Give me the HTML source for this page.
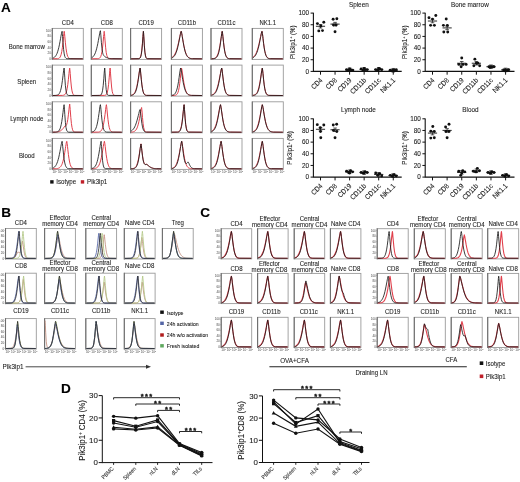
<!DOCTYPE html>
<html><head><meta charset="utf-8"><style>
html,body{margin:0;padding:0;background:#fff;}
svg{display:block;font-family:'Liberation Sans', Arial, sans-serif;filter:blur(0.25px);}
</style></head><body>
<svg width="520" height="482" viewBox="0 0 520 482">
<rect width="520" height="482" fill="#fff"/>
<text x="1" y="11.7" font-size="13.6" font-weight="bold" fill="#000" stroke="#000" stroke-width="0.1" >A</text>
<text transform="translate(67.8,24.6) scale(0.89,1)" font-size="6.72" text-anchor="middle" fill="#222" stroke="#222" stroke-width="0.09" >CD4</text>
<text transform="translate(106.8,24.6) scale(0.89,1)" font-size="6.72" text-anchor="middle" fill="#222" stroke="#222" stroke-width="0.09" >CD8</text>
<text transform="translate(146.1,24.6) scale(0.89,1)" font-size="6.72" text-anchor="middle" fill="#222" stroke="#222" stroke-width="0.09" >CD19</text>
<text transform="translate(186.9,24.6) scale(0.89,1)" font-size="6.72" text-anchor="middle" fill="#222" stroke="#222" stroke-width="0.09" >CD11b</text>
<text transform="translate(226.5,24.6) scale(0.89,1)" font-size="6.72" text-anchor="middle" fill="#222" stroke="#222" stroke-width="0.09" >CD11c</text>
<text transform="translate(267.8,24.6) scale(0.89,1)" font-size="6.72" text-anchor="middle" fill="#222" stroke="#222" stroke-width="0.09" >NK1.1</text>
<text transform="translate(26.8,49) scale(0.89,1)" font-size="6.83" text-anchor="middle" fill="#222" stroke="#222" stroke-width="0.09" >Bone marrow</text>
<text transform="translate(26.8,83.5) scale(0.89,1)" font-size="6.83" text-anchor="middle" fill="#222" stroke="#222" stroke-width="0.09" >Spleen</text>
<text transform="translate(26.8,121.4) scale(0.89,1)" font-size="6.83" text-anchor="middle" fill="#222" stroke="#222" stroke-width="0.09" >Lymph node</text>
<text transform="translate(26.8,157.5) scale(0.89,1)" font-size="6.83" text-anchor="middle" fill="#222" stroke="#222" stroke-width="0.09" >Blood</text>
<rect x="52.3" y="28.4" width="31" height="31" fill="none" stroke="#9a9a9a" stroke-width="0.9"/>
<path d="M52.3,28L52.3,59.8" stroke="#6e6e6e" stroke-width="1.1"/>
<path d="M52.8,58.8L57.0,58.7L57.6,58.7L58.2,58.6L58.8,58.3L59.4,58.0L60.0,57.3L60.6,56.1L61.2,54.3L61.8,51.4L62.4,47.4L63.0,42.1L63.6,36.4L63.6,36.0L63.9,33.3L64.2,31.3L64.5,33.3L64.8,36.4L64.8,36.4L65.4,42.8L66.0,48.2L66.6,52.2L67.2,54.9L67.8,56.6L68.4,57.6L69.0,58.2L69.6,58.5L70.2,58.6L70.8,58.7L82.8,58.8" fill="none" stroke="#e0404c" stroke-width="1.0" stroke-linejoin="round"/>
<path d="M52.8,58.2L53.4,57.9L54.0,57.6L54.6,57.1L55.2,56.5L55.8,55.8L56.4,54.7L57.0,53.5L57.6,51.8L58.2,49.9L58.8,47.5L59.4,44.8L60.0,41.6L60.6,38.3L60.9,36.4L61.2,35.0L61.5,33.3L61.8,32.1L62.1,31.3L62.3,33.3L62.4,34.2L62.6,36.4L63.0,42.5L63.6,49.4L64.2,53.9L64.8,56.4L65.4,57.7L66.0,58.3L66.6,58.6L67.2,58.7L82.8,58.8" fill="none" stroke="#1a1a1a" stroke-width="0.85" stroke-linejoin="round"/>
<text x="50.9" y="59.9" font-size="3.0" text-anchor="end" fill="#444">0</text>
<path d="M51.3,58.8L52.3,58.8" stroke="#777" stroke-width="0.5"/>
<text x="50.9" y="54.22" font-size="3.0" text-anchor="end" fill="#444">20</text>
<path d="M51.3,53.12L52.3,53.12" stroke="#777" stroke-width="0.5"/>
<text x="50.9" y="48.54" font-size="3.0" text-anchor="end" fill="#444">40</text>
<path d="M51.3,47.44L52.3,47.44" stroke="#777" stroke-width="0.5"/>
<text x="50.9" y="42.86" font-size="3.0" text-anchor="end" fill="#444">60</text>
<path d="M51.3,41.76L52.3,41.76" stroke="#777" stroke-width="0.5"/>
<text x="50.9" y="37.18" font-size="3.0" text-anchor="end" fill="#444">80</text>
<path d="M51.3,36.08L52.3,36.08" stroke="#777" stroke-width="0.5"/>
<text x="50.9" y="31.5" font-size="3.0" text-anchor="end" fill="#444">100</text>
<path d="M51.3,30.4L52.3,30.4" stroke="#777" stroke-width="0.5"/>
<rect x="91.3" y="28.4" width="31" height="31" fill="none" stroke="#9a9a9a" stroke-width="0.9"/>
<path d="M91.3,28L91.3,59.8" stroke="#6e6e6e" stroke-width="1.1"/>
<path d="M91.8,58.8L97.8,58.7L98.4,58.6L99.0,58.5L99.6,58.1L100.2,57.5L100.8,56.4L101.4,54.5L102.0,51.5L102.6,47.0L103.2,41.1L103.6,36.4L103.8,34.6L103.9,33.3L104.2,31.3L104.4,32.6L104.5,33.3L104.7,36.4L105.0,40.1L105.6,47.2L106.2,52.3L106.8,55.4L107.4,57.1L108.0,58.0L108.6,58.5L109.2,58.7L109.8,58.7L121.8,58.8" fill="none" stroke="#e0404c" stroke-width="1.0" stroke-linejoin="round"/>
<path d="M91.8,57.7L92.4,57.3L93.0,56.8L93.6,56.1L94.2,55.2L94.8,54.1L95.4,52.7L96.0,50.9L96.6,48.8L97.2,46.4L97.8,43.6L98.4,40.4L99.0,37.1L99.2,36.2L99.6,33.8L99.8,32.9L100.2,31.1L100.4,30.7L100.6,32.7L100.8,34.9L100.9,35.7L101.4,42.7L102.0,48.7L102.6,52.5L102.9,53.7L103.2,54.5L103.3,54.8L103.8,55.5L104.4,56.2L104.4,56.2L105.0,56.8L105.6,57.2L106.2,57.5L106.8,57.7L107.4,57.9L108.0,58.1L108.6,58.3L109.2,58.4L109.8,58.5L110.4,58.6L111.0,58.6L111.6,58.7L112.2,58.7L121.8,58.8" fill="none" stroke="#1a1a1a" stroke-width="0.85" stroke-linejoin="round"/>
<rect x="130.6" y="28.4" width="31" height="31" fill="none" stroke="#9a9a9a" stroke-width="0.9"/>
<path d="M130.6,28L130.6,59.8" stroke="#6e6e6e" stroke-width="1.1"/>
<path d="M131.1,58.8L138.3,58.7L138.9,58.6L139.5,58.3L140.1,57.6L140.7,56.2L141.3,53.5L141.9,49.0L142.5,42.2L142.9,36.4L143.1,34.1L143.2,33.3L143.4,31.3L143.6,33.3L143.7,35.0L143.8,36.4L144.3,44.8L144.9,51.8L145.5,55.8L146.1,57.6L146.7,58.4L147.3,58.7L147.9,58.8L161.1,58.8" fill="none" stroke="#e0404c" stroke-width="1.0" stroke-linejoin="round"/>
<path d="M131.1,58.8L138.9,58.7L139.5,58.5L140.1,58.0L140.7,56.9L141.3,54.6L141.9,50.3L142.5,43.3L143.0,36.4L143.1,34.5L143.2,33.3L143.4,31.3L143.6,33.3L143.7,35.2L143.8,36.4L144.3,45.3L144.9,52.4L145.5,56.1L146.1,57.8L146.7,58.5L147.3,58.7L161.1,58.8" fill="none" stroke="#1a1a1a" stroke-width="0.85" stroke-linejoin="round"/>
<rect x="171.4" y="28.4" width="31" height="31" fill="none" stroke="#9a9a9a" stroke-width="0.9"/>
<path d="M171.4,28L171.4,59.8" stroke="#6e6e6e" stroke-width="1.1"/>
<path d="M171.9,57.5L172.5,57.1L173.1,56.6L173.7,55.9L174.3,55.1L174.9,54.1L175.5,52.9L176.1,51.4L176.7,49.7L177.3,47.6L177.9,45.3L178.5,42.7L179.1,40.0L179.7,37.1L179.8,36.4L180.3,34.3L180.5,33.3L180.9,31.9L181.2,31.3L181.5,32.2L181.7,33.3L182.1,35.3L182.3,36.4L182.7,38.9L183.3,42.4L183.9,45.7L184.5,48.5L185.1,50.8L185.7,52.8L186.3,54.3L186.9,55.5L187.5,56.4L188.1,57.1L188.7,57.6L189.3,57.9L189.9,58.2L190.5,58.4L191.1,58.5L191.7,58.6L192.3,58.7L192.9,58.7L201.9,58.8" fill="none" stroke="#e0404c" stroke-width="1.0" stroke-linejoin="round"/>
<path d="M171.9,58.0L172.5,57.6L173.1,57.2L173.7,56.7L174.3,56.0L174.9,55.2L175.5,54.0L176.1,52.7L176.7,51.0L177.3,49.0L177.9,46.6L178.5,43.9L179.1,41.0L179.7,37.8L180.0,36.4L180.3,34.7L180.6,33.3L180.9,32.0L181.2,31.3L181.5,32.2L181.7,33.3L182.1,35.5L182.2,36.4L182.7,39.3L183.3,42.9L183.9,46.2L184.5,49.0L185.1,51.4L185.7,53.2L186.3,54.7L186.9,55.8L187.5,56.7L188.1,57.3L188.7,57.8L189.3,58.1L189.9,58.3L190.5,58.5L191.1,58.6L191.7,58.7L192.3,58.7L201.9,58.8" fill="none" stroke="#1a1a1a" stroke-width="0.85" stroke-linejoin="round"/>
<rect x="211" y="28.4" width="31" height="31" fill="none" stroke="#9a9a9a" stroke-width="0.9"/>
<path d="M211,28L211,59.8" stroke="#6e6e6e" stroke-width="1.1"/>
<path d="M211.5,58.7L212.1,58.7L212.7,58.7L213.3,58.6L213.9,58.5L214.5,58.3L215.1,58.0L215.7,57.6L216.3,57.0L216.9,56.2L217.5,55.0L218.1,53.5L218.7,51.4L219.3,48.8L219.9,45.6L220.5,41.8L221.1,37.6L221.3,36.4L221.7,33.6L221.7,33.3L222.2,31.3L222.3,31.6L222.6,33.3L222.9,36.3L222.9,36.4L223.5,41.9L224.1,46.9L224.7,50.7L225.3,53.6L225.9,55.5L226.5,56.8L227.1,57.6L227.7,58.1L228.3,58.4L228.9,58.6L229.5,58.7L241.5,58.8" fill="none" stroke="#e0404c" stroke-width="1.0" stroke-linejoin="round"/>
<path d="M211.5,58.8L213.3,58.7L213.9,58.6L214.5,58.5L215.1,58.3L215.7,58.0L216.3,57.6L216.9,56.9L217.5,56.0L218.1,54.6L218.7,52.7L219.3,50.2L219.9,46.9L220.5,42.9L221.1,38.4L221.4,36.4L221.7,33.9L221.8,33.3L222.2,31.3L222.3,31.6L222.5,33.3L222.9,36.4L222.9,36.6L223.5,42.4L224.1,47.4L224.7,51.3L225.3,54.0L225.9,55.9L226.5,57.1L227.1,57.8L227.7,58.3L228.3,58.5L228.9,58.6L229.5,58.7L241.5,58.8" fill="none" stroke="#1a1a1a" stroke-width="0.85" stroke-linejoin="round"/>
<rect x="252.3" y="28.4" width="31" height="31" fill="none" stroke="#9a9a9a" stroke-width="0.9"/>
<path d="M252.3,28L252.3,59.8" stroke="#6e6e6e" stroke-width="1.1"/>
<path d="M252.8,57.4L253.4,56.9L254.0,56.4L254.6,55.7L255.2,54.8L255.8,53.8L256.4,52.5L257.0,51.0L257.6,49.2L258.2,47.1L258.8,44.8L259.4,42.2L260.0,39.4L260.6,36.6L260.6,36.4L261.2,33.8L261.3,33.3L261.8,31.7L262.0,31.3L262.4,33.3L262.8,36.4L263.0,38.2L263.6,43.2L264.2,47.4L264.8,50.9L265.4,53.4L266.0,55.3L266.6,56.5L267.2,57.4L267.8,57.9L268.4,58.3L269.0,58.5L269.6,58.6L270.2,58.7L282.8,58.8" fill="none" stroke="#e0404c" stroke-width="1.0" stroke-linejoin="round"/>
<path d="M252.8,57.9L253.4,57.5L254.0,57.1L254.6,56.5L255.2,55.8L255.8,54.9L256.4,53.7L257.0,52.3L257.6,50.6L258.2,48.5L258.8,46.1L259.4,43.4L260.0,40.4L260.6,37.2L260.8,36.4L261.2,34.2L261.4,33.3L261.8,31.7L262.0,31.3L262.4,33.3L262.4,33.5L262.8,36.4L263.0,38.6L263.6,43.7L264.2,48.0L264.8,51.4L265.4,53.9L266.0,55.6L266.6,56.8L267.2,57.6L267.8,58.1L268.4,58.4L269.0,58.6L269.6,58.7L270.2,58.7L282.8,58.8" fill="none" stroke="#1a1a1a" stroke-width="0.85" stroke-linejoin="round"/>
<rect x="52.3" y="65.1" width="31" height="31" fill="none" stroke="#9a9a9a" stroke-width="0.9"/>
<path d="M52.3,64.7L52.3,96.5" stroke="#6e6e6e" stroke-width="1.1"/>
<path d="M52.8,95.5L62.4,95.4L63.0,95.4L63.6,95.2L64.2,95.0L64.8,94.6L65.4,93.9L66.0,92.8L66.6,91.0L67.2,88.3L67.8,84.4L68.4,79.3L69.0,73.4L69.0,73.1L69.4,70.0L69.6,68.3L69.7,68.0L69.9,70.0L70.2,73.1L70.2,73.3L70.8,81.0L71.4,87.0L72.0,90.9L72.6,93.2L73.2,94.4L73.8,95.0L74.4,95.3L75.0,95.4L82.8,95.5" fill="none" stroke="#e0404c" stroke-width="1.0" stroke-linejoin="round"/>
<path d="M52.8,95.5L55.8,95.4L56.4,95.3L57.0,95.2L57.6,95.0L58.2,94.7L58.8,94.2L59.4,93.4L60.0,92.2L60.6,90.4L61.2,88.0L61.8,84.7L62.4,80.6L63.0,75.7L63.3,73.1L63.6,70.7L63.7,70.0L64.1,68.0L64.2,68.9L64.3,70.0L64.5,73.1L64.8,77.8L65.4,85.7L66.0,90.7L66.6,93.4L67.2,94.6L67.8,95.2L68.4,95.4L69.0,95.5L82.8,95.5" fill="none" stroke="#1a1a1a" stroke-width="0.85" stroke-linejoin="round"/>
<text x="50.9" y="96.6" font-size="3.0" text-anchor="end" fill="#444">0</text>
<path d="M51.3,95.5L52.3,95.5" stroke="#777" stroke-width="0.5"/>
<text x="50.9" y="90.92" font-size="3.0" text-anchor="end" fill="#444">20</text>
<path d="M51.3,89.82L52.3,89.82" stroke="#777" stroke-width="0.5"/>
<text x="50.9" y="85.24" font-size="3.0" text-anchor="end" fill="#444">40</text>
<path d="M51.3,84.14L52.3,84.14" stroke="#777" stroke-width="0.5"/>
<text x="50.9" y="79.56" font-size="3.0" text-anchor="end" fill="#444">60</text>
<path d="M51.3,78.46L52.3,78.46" stroke="#777" stroke-width="0.5"/>
<text x="50.9" y="73.88" font-size="3.0" text-anchor="end" fill="#444">80</text>
<path d="M51.3,72.78L52.3,72.78" stroke="#777" stroke-width="0.5"/>
<text x="50.9" y="68.2" font-size="3.0" text-anchor="end" fill="#444">100</text>
<path d="M51.3,67.1L52.3,67.1" stroke="#777" stroke-width="0.5"/>
<rect x="91.3" y="65.1" width="31" height="31" fill="none" stroke="#9a9a9a" stroke-width="0.9"/>
<path d="M91.3,64.7L91.3,96.5" stroke="#6e6e6e" stroke-width="1.1"/>
<path d="M91.8,95.5L104.4,95.4L105.0,95.3L105.6,95.1L106.2,94.6L106.8,93.7L107.4,92.0L108.0,89.0L108.6,84.3L109.2,77.8L109.6,73.1L109.8,70.4L109.8,70.0L110.1,68.0L110.3,70.0L110.4,71.2L110.5,73.1L111.0,80.0L111.6,87.0L112.2,91.3L112.8,93.6L113.4,94.7L114.0,95.2L114.6,95.4L115.2,95.5L121.8,95.5" fill="none" stroke="#e0404c" stroke-width="1.0" stroke-linejoin="round"/>
<path d="M91.8,95.5L99.6,95.4L100.2,95.3L100.8,95.0L101.4,94.3L102.0,92.9L102.6,90.2L103.2,85.7L103.8,78.8L104.2,73.1L104.4,70.8L104.5,70.0L104.7,68.0L104.9,70.0L105.0,72.1L105.1,73.1L105.6,82.5L106.2,89.6L106.8,93.2L107.4,94.7L108.0,95.2L108.6,95.4L121.8,95.5" fill="none" stroke="#1a1a1a" stroke-width="0.85" stroke-linejoin="round"/>
<rect x="130.6" y="65.1" width="31" height="31" fill="none" stroke="#9a9a9a" stroke-width="0.9"/>
<path d="M130.6,64.7L130.6,96.5" stroke="#6e6e6e" stroke-width="1.1"/>
<path d="M131.1,95.2L131.7,95.1L132.3,94.9L132.9,94.5L133.5,94.1L134.1,93.5L134.7,92.6L135.3,91.4L135.9,89.8L136.5,87.8L137.1,85.2L137.7,82.1L138.3,78.5L138.9,74.5L139.1,73.1L139.5,70.7L139.6,70.0L140.1,68.0L140.4,70.0L140.7,72.9L140.7,73.1L141.3,79.1L141.9,84.5L142.5,88.5L143.1,91.3L143.7,93.1L144.3,94.1L144.9,94.8L145.5,95.1L146.1,95.3L146.7,95.4L161.1,95.5" fill="none" stroke="#e0404c" stroke-width="1.0" stroke-linejoin="round"/>
<path d="M131.1,95.4L131.7,95.3L132.3,95.1L132.9,94.9L133.5,94.6L134.1,94.1L134.7,93.4L135.3,92.4L135.9,91.0L136.5,89.1L137.1,86.6L137.7,83.4L138.3,79.6L138.9,75.3L139.2,73.1L139.5,71.0L139.7,70.0L140.1,68.0L140.4,70.0L140.7,73.1L141.3,79.6L141.9,85.1L142.5,89.1L143.1,91.7L143.7,93.4L144.3,94.4L144.9,94.9L145.5,95.2L146.1,95.4L146.7,95.4L161.1,95.5" fill="none" stroke="#1a1a1a" stroke-width="0.85" stroke-linejoin="round"/>
<rect x="171.4" y="65.1" width="31" height="31" fill="none" stroke="#9a9a9a" stroke-width="0.9"/>
<path d="M171.4,64.7L171.4,96.5" stroke="#6e6e6e" stroke-width="1.1"/>
<path d="M171.9,95.5L174.3,95.4L174.9,95.4L175.5,95.2L176.1,95.0L176.7,94.5L177.3,93.8L177.9,92.6L178.5,90.7L179.1,87.8L179.7,83.7L180.3,78.5L180.8,73.1L180.9,72.6L181.2,70.0L181.5,68.0L182.0,70.0L182.1,70.9L182.4,73.1L182.7,75.0L183.3,79.1L183.9,82.9L184.5,86.0L185.1,88.5L185.7,90.5L186.3,92.0L186.9,93.1L187.5,93.8L188.1,94.4L188.7,94.8L189.3,95.0L189.9,95.2L190.5,95.3L191.1,95.4L191.7,95.4L201.9,95.5" fill="none" stroke="#e0404c" stroke-width="1.0" stroke-linejoin="round"/>
<path d="M171.9,95.3L172.5,95.2L173.1,95.0L173.7,94.8L174.3,94.4L174.9,93.8L175.5,92.9L176.1,91.7L176.7,90.1L177.3,87.9L177.9,85.1L178.5,81.6L179.1,77.5L179.7,73.1L180.2,70.0L180.3,69.2L180.6,68.0L180.9,68.9L181.1,70.0L181.5,72.2L181.7,73.1L182.1,76.0L182.7,79.6L183.3,82.9L183.9,85.7L184.5,88.1L185.1,89.9L185.7,91.4L186.3,92.5L186.9,93.4L187.5,94.0L188.1,94.5L188.7,94.8L189.3,95.0L189.9,95.2L190.5,95.3L191.1,95.4L191.7,95.4L201.9,95.5" fill="none" stroke="#1a1a1a" stroke-width="0.85" stroke-linejoin="round"/>
<rect x="211" y="65.1" width="31" height="31" fill="none" stroke="#9a9a9a" stroke-width="0.9"/>
<path d="M211,64.7L211,96.5" stroke="#6e6e6e" stroke-width="1.1"/>
<path d="M211.5,95.0L212.1,94.8L212.7,94.5L213.3,94.2L213.9,93.7L214.5,93.1L215.1,92.4L215.7,91.4L216.3,90.2L216.9,88.7L217.5,86.8L218.1,84.6L218.7,82.1L219.3,79.3L219.9,76.1L220.5,73.1L220.5,72.9L221.1,70.0L221.1,70.0L221.7,68.0L222.1,70.0L222.3,71.7L222.5,73.1L222.9,76.7L223.5,81.5L224.1,85.4L224.7,88.5L225.3,90.8L225.9,92.5L226.5,93.6L227.1,94.3L227.7,94.8L228.3,95.1L228.9,95.2L229.5,95.4L230.1,95.4L241.5,95.5" fill="none" stroke="#e0404c" stroke-width="1.0" stroke-linejoin="round"/>
<path d="M211.5,95.2L212.1,95.1L212.7,94.9L213.3,94.7L213.9,94.3L214.5,93.8L215.1,93.2L215.7,92.4L216.3,91.3L216.9,89.9L217.5,88.1L218.1,86.0L218.7,83.4L219.3,80.4L219.9,77.1L220.5,73.6L220.6,73.1L221.1,70.2L221.1,70.0L221.7,68.0L222.1,70.0L222.3,71.9L222.4,73.1L222.9,77.1L223.5,82.0L224.1,86.0L224.7,89.1L225.3,91.3L225.9,92.8L226.5,93.8L227.1,94.5L227.7,94.9L228.3,95.2L228.9,95.3L229.5,95.4L241.5,95.5" fill="none" stroke="#1a1a1a" stroke-width="0.85" stroke-linejoin="round"/>
<rect x="252.3" y="65.1" width="31" height="31" fill="none" stroke="#9a9a9a" stroke-width="0.9"/>
<path d="M252.3,64.7L252.3,96.5" stroke="#6e6e6e" stroke-width="1.1"/>
<path d="M252.8,95.3L253.4,95.2L254.0,95.1L254.6,94.9L255.2,94.6L255.8,94.1L256.4,93.5L257.0,92.6L257.6,91.4L258.2,89.8L258.8,87.7L259.4,85.0L260.0,81.8L260.6,78.1L261.2,74.1L261.3,73.1L261.8,70.2L261.8,70.0L262.3,68.0L262.4,68.3L262.6,70.0L263.0,73.1L263.0,73.5L263.6,79.4L264.2,84.5L264.8,88.4L265.4,91.1L266.0,92.9L266.6,94.0L267.2,94.7L267.8,95.0L268.4,95.3L269.0,95.4L269.6,95.4L282.8,95.5" fill="none" stroke="#e0404c" stroke-width="1.0" stroke-linejoin="round"/>
<path d="M252.8,95.4L253.4,95.4L254.0,95.3L254.6,95.1L255.2,94.9L255.8,94.6L256.4,94.1L257.0,93.4L257.6,92.4L258.2,90.9L258.8,89.0L259.4,86.4L260.0,83.1L260.6,79.2L261.2,74.8L261.4,73.1L261.8,70.5L261.9,70.0L262.3,68.0L262.4,68.3L262.6,70.0L262.9,73.1L263.0,73.8L263.6,79.9L264.2,85.1L264.8,88.9L265.4,91.5L266.0,93.2L266.6,94.2L267.2,94.8L267.8,95.1L268.4,95.3L269.0,95.4L282.8,95.5" fill="none" stroke="#1a1a1a" stroke-width="0.85" stroke-linejoin="round"/>
<rect x="52.3" y="101.8" width="31" height="31" fill="none" stroke="#9a9a9a" stroke-width="0.9"/>
<path d="M52.3,101.4L52.3,133.2" stroke="#6e6e6e" stroke-width="1.1"/>
<path d="M52.8,132.2L55.2,132.1L55.8,132.1L56.4,132.0L57.0,132.0L57.6,131.9L58.2,131.7L58.8,131.6L59.4,131.4L60.0,131.1L60.6,130.8L61.2,130.4L61.8,129.9L62.4,129.3L63.0,128.6L63.6,127.8L63.6,127.8L64.2,127.0L64.2,127.0L64.8,126.2L65.3,126.1L65.4,126.1L65.7,125.9L66.0,125.7L66.6,124.7L67.2,122.6L67.8,119.4L68.4,114.8L69.0,109.2L69.0,108.9L69.4,106.0L69.6,104.4L69.7,104.0L69.9,106.2L70.2,109.4L70.2,109.5L70.8,117.4L71.4,123.4L72.0,127.4L72.6,129.8L73.2,131.0L73.8,131.7L74.4,132.0L75.0,132.1L82.8,132.2" fill="none" stroke="#e0404c" stroke-width="1.0" stroke-linejoin="round"/>
<path d="M52.8,132.2L55.8,132.1L56.4,132.0L57.0,131.9L57.6,131.7L58.2,131.4L58.8,130.9L59.4,130.1L60.0,128.9L60.6,127.1L61.2,124.7L61.8,121.4L62.4,117.3L63.0,112.4L63.3,109.8L63.6,107.4L63.7,106.7L64.1,104.7L64.2,105.6L64.3,106.7L64.5,109.8L64.8,114.5L65.4,122.4L66.0,127.4L66.6,130.1L67.2,131.3L67.8,131.9L68.4,132.1L69.0,132.2L82.8,132.2" fill="none" stroke="#1a1a1a" stroke-width="0.85" stroke-linejoin="round"/>
<text x="50.9" y="133.3" font-size="3.0" text-anchor="end" fill="#444">0</text>
<path d="M51.3,132.2L52.3,132.2" stroke="#777" stroke-width="0.5"/>
<text x="50.9" y="127.62" font-size="3.0" text-anchor="end" fill="#444">20</text>
<path d="M51.3,126.52L52.3,126.52" stroke="#777" stroke-width="0.5"/>
<text x="50.9" y="121.94" font-size="3.0" text-anchor="end" fill="#444">40</text>
<path d="M51.3,120.84L52.3,120.84" stroke="#777" stroke-width="0.5"/>
<text x="50.9" y="116.26" font-size="3.0" text-anchor="end" fill="#444">60</text>
<path d="M51.3,115.16L52.3,115.16" stroke="#777" stroke-width="0.5"/>
<text x="50.9" y="110.58" font-size="3.0" text-anchor="end" fill="#444">80</text>
<path d="M51.3,109.48L52.3,109.48" stroke="#777" stroke-width="0.5"/>
<text x="50.9" y="104.9" font-size="3.0" text-anchor="end" fill="#444">100</text>
<path d="M51.3,103.8L52.3,103.8" stroke="#777" stroke-width="0.5"/>
<rect x="91.3" y="101.8" width="31" height="31" fill="none" stroke="#9a9a9a" stroke-width="0.9"/>
<path d="M91.3,101.4L91.3,133.2" stroke="#6e6e6e" stroke-width="1.1"/>
<path d="M91.8,132.2L97.8,132.1L98.4,132.1L99.0,132.0L99.6,131.8L100.2,131.5L100.8,131.1L101.4,130.4L102.0,129.4L102.6,127.9L103.2,125.8L103.8,122.9L104.4,119.2L105.0,114.7L105.6,109.8L105.6,109.7L106.0,106.7L106.2,105.4L106.4,104.7L106.7,106.7L106.8,107.8L107.0,109.8L107.4,114.0L108.0,119.7L108.6,124.2L109.2,127.3L109.8,129.3L110.4,130.6L111.0,131.3L111.6,131.7L112.2,132.0L112.8,132.1L113.4,132.1L121.8,132.2" fill="none" stroke="#e0404c" stroke-width="1.0" stroke-linejoin="round"/>
<path d="M91.8,132.0L92.4,131.9L93.0,131.7L93.6,131.4L94.2,131.0L94.8,130.3L95.4,129.4L96.0,128.1L96.6,126.4L97.2,124.1L97.8,121.1L98.4,117.5L99.0,113.4L99.5,109.8L99.6,109.0L99.9,106.7L100.2,105.2L100.4,104.7L100.7,106.7L100.8,107.9L101.0,109.8L101.4,114.4L102.0,120.3L102.6,124.7L103.2,127.7L103.8,129.7L104.4,130.8L105.0,131.5L105.6,131.8L106.2,132.0L106.8,132.1L121.8,132.2" fill="none" stroke="#1a1a1a" stroke-width="0.85" stroke-linejoin="round"/>
<rect x="130.6" y="101.8" width="31" height="31" fill="none" stroke="#9a9a9a" stroke-width="0.9"/>
<path d="M130.6,101.4L130.6,133.2" stroke="#6e6e6e" stroke-width="1.1"/>
<path d="M131.1,132.1L131.7,132.1L132.3,132.0L132.9,131.9L133.5,131.7L134.1,131.5L134.7,131.2L135.3,130.7L135.9,130.0L136.5,129.1L137.1,127.9L137.7,126.2L138.3,124.2L138.9,121.6L139.5,118.6L140.1,115.2L140.6,112.1L140.7,111.6L141.1,109.4L141.3,108.4L141.6,107.5L141.8,109.4L141.9,110.1L142.1,112.1L142.5,117.5L143.1,123.7L143.7,127.7L144.3,130.0L144.9,131.2L145.5,131.8L146.1,132.0L146.7,132.1L161.1,132.2" fill="none" stroke="#e0404c" stroke-width="1.0" stroke-linejoin="round"/>
<path d="M131.1,131.0L131.7,130.7L132.3,130.2L132.9,129.6L133.5,128.9L134.1,128.0L134.7,126.9L135.3,125.6L135.9,124.0L136.5,122.2L137.1,120.2L137.7,118.0L138.3,115.6L138.8,113.8L138.9,113.2L139.4,111.2L139.5,111.0L140.1,109.5L140.4,111.2L140.7,113.8L141.3,119.1L141.9,123.6L142.5,126.9L143.1,129.1L143.7,130.5L144.3,131.3L144.9,131.7L145.5,132.0L146.1,132.1L146.7,132.1L161.1,132.2" fill="none" stroke="#1a1a1a" stroke-width="0.85" stroke-linejoin="round"/>
<rect x="171.4" y="101.8" width="31" height="31" fill="none" stroke="#9a9a9a" stroke-width="0.9"/>
<path d="M171.4,101.4L171.4,133.2" stroke="#6e6e6e" stroke-width="1.1"/>
<path d="M171.9,132.2L176.7,132.1L177.3,132.1L177.9,132.0L178.5,131.8L179.1,131.4L179.7,130.7L180.3,129.6L180.9,127.9L181.5,125.3L182.1,121.6L182.7,116.6L183.3,110.7L183.4,109.8L183.7,106.7L183.9,105.4L184.1,104.7L184.3,106.7L184.5,109.6L184.5,109.8L185.1,117.8L185.7,124.1L186.3,128.0L186.9,130.2L187.5,131.3L188.1,131.8L188.7,132.0L189.3,132.1L201.9,132.2" fill="none" stroke="#e0404c" stroke-width="1.0" stroke-linejoin="round"/>
<path d="M171.9,132.2L177.3,132.1L177.9,132.1L178.5,132.0L179.1,131.7L179.7,131.2L180.3,130.4L180.9,128.9L181.5,126.5L182.1,122.9L182.7,117.8L183.3,111.5L183.5,109.8L183.8,106.7L183.9,105.5L184.1,104.7L184.3,106.7L184.5,109.8L184.5,109.8L185.1,118.3L185.7,124.6L186.3,128.4L186.9,130.5L187.5,131.5L188.1,131.9L188.7,132.1L201.9,132.2" fill="none" stroke="#1a1a1a" stroke-width="0.85" stroke-linejoin="round"/>
<rect x="211" y="101.8" width="31" height="31" fill="none" stroke="#9a9a9a" stroke-width="0.9"/>
<path d="M211,101.4L211,133.2" stroke="#6e6e6e" stroke-width="1.1"/>
<path d="M211.5,131.3L212.1,131.0L212.7,130.5L213.3,129.9L213.9,129.2L214.5,128.2L215.1,127.0L215.7,125.5L216.3,123.7L216.9,121.5L217.5,119.0L218.1,116.1L218.7,113.0L219.3,109.8L219.3,109.7L219.9,106.7L219.9,106.7L220.5,104.7L221.0,106.7L221.1,107.6L221.4,109.8L221.7,111.7L222.3,115.8L222.9,119.6L223.5,122.7L224.1,125.2L224.7,127.2L225.3,128.7L225.9,129.8L226.5,130.5L227.1,131.1L227.7,131.5L228.3,131.7L228.9,131.9L229.5,132.0L230.1,132.1L230.7,132.1L241.5,132.2" fill="none" stroke="#e0404c" stroke-width="1.0" stroke-linejoin="round"/>
<path d="M211.5,131.6L212.1,131.4L212.7,131.1L213.3,130.6L213.9,130.0L214.5,129.2L215.1,128.1L215.7,126.8L216.3,125.0L216.9,122.9L217.5,120.3L218.1,117.3L218.7,113.9L219.3,110.4L219.4,109.8L219.9,107.0L219.9,106.7L220.5,104.7L220.9,106.7L221.1,107.7L221.4,109.8L221.7,112.0L222.3,116.3L222.9,120.1L223.5,123.3L224.1,125.8L224.7,127.7L225.3,129.1L225.9,130.1L226.5,130.8L227.1,131.3L227.7,131.6L228.3,131.8L228.9,132.0L229.5,132.1L230.1,132.1L241.5,132.2" fill="none" stroke="#1a1a1a" stroke-width="0.85" stroke-linejoin="round"/>
<rect x="252.3" y="101.8" width="31" height="31" fill="none" stroke="#9a9a9a" stroke-width="0.9"/>
<path d="M252.3,101.4L252.3,133.2" stroke="#6e6e6e" stroke-width="1.1"/>
<path d="M252.8,131.7L253.4,131.5L254.0,131.2L254.6,130.8L255.2,130.3L255.8,129.6L256.4,128.7L257.0,127.5L257.6,126.0L258.2,124.2L258.8,122.0L259.4,119.3L260.0,116.3L260.6,113.0L261.2,109.8L261.2,109.6L261.7,106.7L261.8,106.4L262.3,104.7L262.4,104.8L262.9,106.7L263.0,107.5L263.4,109.8L263.6,111.0L264.2,114.6L264.8,118.0L265.4,121.0L266.0,123.5L266.6,125.5L267.2,127.2L267.8,128.5L268.4,129.5L269.0,130.2L269.6,130.8L270.2,131.2L270.8,131.5L271.4,131.7L272.0,131.9L272.6,132.0L273.2,132.1L273.8,132.1L282.8,132.2" fill="none" stroke="#e0404c" stroke-width="1.0" stroke-linejoin="round"/>
<path d="M252.8,131.9L253.4,131.8L254.0,131.6L254.6,131.3L255.2,130.9L255.8,130.3L256.4,129.6L257.0,128.5L257.6,127.2L258.2,125.5L258.8,123.3L259.4,120.7L260.0,117.5L260.6,114.0L261.2,110.2L261.3,109.8L261.8,106.7L261.8,106.7L262.3,104.7L262.4,104.8L262.8,106.7L263.0,107.7L263.4,109.8L263.6,111.3L264.2,115.1L264.8,118.5L265.4,121.5L266.0,124.0L266.6,126.0L267.2,127.6L267.8,128.9L268.4,129.8L269.0,130.5L269.6,131.0L270.2,131.4L270.8,131.6L271.4,131.8L272.0,131.9L272.6,132.0L273.2,132.1L282.8,132.2" fill="none" stroke="#1a1a1a" stroke-width="0.85" stroke-linejoin="round"/>
<rect x="52.3" y="138.4" width="31" height="31" fill="none" stroke="#9a9a9a" stroke-width="0.9"/>
<path d="M52.3,138L52.3,169.8" stroke="#6e6e6e" stroke-width="1.1"/>
<path d="M52.8,168.8L55.8,168.7L56.4,168.7L57.0,168.6L57.6,168.5L58.2,168.3L58.8,168.1L59.4,167.8L60.0,167.3L60.6,166.7L61.2,165.8L61.8,164.7L62.4,163.2L63.0,161.2L63.6,158.7L64.2,155.8L64.8,152.3L65.4,148.6L65.7,146.4L66.0,144.7L66.2,143.3L66.6,141.6L66.8,141.3L67.1,143.3L67.2,144.0L67.5,146.4L67.8,149.3L68.4,154.4L69.0,158.7L69.6,162.0L70.2,164.4L70.8,166.0L71.4,167.1L72.0,167.8L72.6,168.2L73.2,168.5L73.8,168.6L74.4,168.7L82.8,168.8" fill="none" stroke="#e0404c" stroke-width="1.0" stroke-linejoin="round"/>
<path d="M52.8,168.1L53.4,167.8L54.0,167.5L54.6,167.0L55.2,166.3L55.8,165.5L56.4,164.5L57.0,163.1L57.6,161.5L58.2,159.5L58.8,157.2L59.4,154.4L60.0,151.4L60.6,148.1L60.9,146.4L61.2,144.8L61.5,143.3L61.8,142.1L62.1,141.3L62.4,143.2L62.4,143.3L62.7,146.4L63.0,149.1L63.6,154.9L64.2,159.5L64.8,163.0L65.4,165.3L66.0,166.7L66.6,167.6L67.2,168.2L67.8,168.5L68.4,168.6L69.0,168.7L82.8,168.8" fill="none" stroke="#1a1a1a" stroke-width="0.85" stroke-linejoin="round"/>
<text x="50.9" y="169.9" font-size="3.0" text-anchor="end" fill="#444">0</text>
<path d="M51.3,168.8L52.3,168.8" stroke="#777" stroke-width="0.5"/>
<text x="50.9" y="164.22" font-size="3.0" text-anchor="end" fill="#444">20</text>
<path d="M51.3,163.12L52.3,163.12" stroke="#777" stroke-width="0.5"/>
<text x="50.9" y="158.54" font-size="3.0" text-anchor="end" fill="#444">40</text>
<path d="M51.3,157.44L52.3,157.44" stroke="#777" stroke-width="0.5"/>
<text x="50.9" y="152.86" font-size="3.0" text-anchor="end" fill="#444">60</text>
<path d="M51.3,151.76L52.3,151.76" stroke="#777" stroke-width="0.5"/>
<text x="50.9" y="147.18" font-size="3.0" text-anchor="end" fill="#444">80</text>
<path d="M51.3,146.08L52.3,146.08" stroke="#777" stroke-width="0.5"/>
<text x="50.9" y="141.5" font-size="3.0" text-anchor="end" fill="#444">100</text>
<path d="M51.3,140.4L52.3,140.4" stroke="#777" stroke-width="0.5"/>
<text x="54.7" y="173.1" font-size="3.1" text-anchor="middle" fill="#444">10<tspan font-size="2.1" dy="-1.1">0</tspan></text>
<text x="60.18" y="173.1" font-size="3.1" text-anchor="middle" fill="#444">10<tspan font-size="2.1" dy="-1.1">1</tspan></text>
<text x="65.66" y="173.1" font-size="3.1" text-anchor="middle" fill="#444">10<tspan font-size="2.1" dy="-1.1">2</tspan></text>
<text x="71.14" y="173.1" font-size="3.1" text-anchor="middle" fill="#444">10<tspan font-size="2.1" dy="-1.1">3</tspan></text>
<text x="76.62" y="173.1" font-size="3.1" text-anchor="middle" fill="#444">10<tspan font-size="2.1" dy="-1.1">4</tspan></text>
<text x="82.1" y="173.1" font-size="3.1" text-anchor="middle" fill="#444">10<tspan font-size="2.1" dy="-1.1">5</tspan></text>
<rect x="91.3" y="138.4" width="31" height="31" fill="none" stroke="#9a9a9a" stroke-width="0.9"/>
<path d="M91.3,138L91.3,169.8" stroke="#6e6e6e" stroke-width="1.1"/>
<path d="M91.8,168.8L93.0,168.7L93.6,168.7L94.2,168.6L94.8,168.5L95.4,168.3L96.0,168.1L96.6,167.8L97.2,167.4L97.8,166.9L98.4,166.1L99.0,165.1L99.6,163.8L100.2,162.1L100.8,160.0L101.4,157.4L102.0,154.3L102.6,150.9L103.2,147.2L103.3,146.4L103.8,143.7L103.9,143.3L104.4,141.3L104.8,143.3L105.0,145.0L105.2,146.4L105.6,150.0L106.2,154.8L106.8,158.7L107.4,161.8L108.0,164.1L108.6,165.8L109.2,166.9L109.8,167.6L110.4,168.1L111.0,168.4L111.6,168.5L112.2,168.7L112.8,168.7L121.8,168.8" fill="none" stroke="#e0404c" stroke-width="1.0" stroke-linejoin="round"/>
<path d="M91.8,168.5L92.4,168.3L93.0,168.1L93.6,167.8L94.2,167.4L94.8,166.8L95.4,166.0L96.0,164.9L96.6,163.4L97.2,161.6L97.8,159.2L98.4,156.4L99.0,153.1L99.6,149.4L100.1,146.4L100.2,145.6L100.6,143.3L100.8,142.2L101.1,141.3L101.3,143.3L101.4,144.6L101.5,146.4L102.0,153.8L102.6,160.8L103.2,165.0L103.8,167.2L104.4,168.1L105.0,168.6L105.6,168.7L121.8,168.8" fill="none" stroke="#1a1a1a" stroke-width="0.85" stroke-linejoin="round"/>
<text x="93.7" y="173.1" font-size="3.1" text-anchor="middle" fill="#444">10<tspan font-size="2.1" dy="-1.1">0</tspan></text>
<text x="99.18" y="173.1" font-size="3.1" text-anchor="middle" fill="#444">10<tspan font-size="2.1" dy="-1.1">1</tspan></text>
<text x="104.66" y="173.1" font-size="3.1" text-anchor="middle" fill="#444">10<tspan font-size="2.1" dy="-1.1">2</tspan></text>
<text x="110.14" y="173.1" font-size="3.1" text-anchor="middle" fill="#444">10<tspan font-size="2.1" dy="-1.1">3</tspan></text>
<text x="115.62" y="173.1" font-size="3.1" text-anchor="middle" fill="#444">10<tspan font-size="2.1" dy="-1.1">4</tspan></text>
<text x="121.1" y="173.1" font-size="3.1" text-anchor="middle" fill="#444">10<tspan font-size="2.1" dy="-1.1">5</tspan></text>
<rect x="130.6" y="138.4" width="31" height="31" fill="none" stroke="#9a9a9a" stroke-width="0.9"/>
<path d="M130.6,138L130.6,169.8" stroke="#6e6e6e" stroke-width="1.1"/>
<path d="M131.1,168.7L131.7,168.7L132.3,168.7L132.9,168.6L133.5,168.4L134.1,168.2L134.7,167.9L135.3,167.4L135.9,166.7L136.5,165.6L137.1,164.2L137.7,162.3L138.3,159.8L138.9,156.6L139.5,152.9L140.1,148.8L140.1,148.6L140.6,145.8L140.7,145.0L141.0,143.8L141.3,145.5L141.3,145.5L141.6,148.1L141.9,150.6L142.5,155.5L143.1,159.3L143.7,161.8L144.3,163.4L144.9,164.1L145.4,164.4L145.5,164.4L146.0,164.4L146.1,164.4L146.7,164.3L147.3,164.7L147.3,164.7L147.9,165.2L147.9,165.3L148.5,165.8L149.1,166.3L149.7,166.7L150.3,167.1L150.9,167.4L151.5,167.7L152.1,168.0L152.7,168.2L153.3,168.3L153.9,168.4L154.5,168.5L155.1,168.6L155.7,168.6L156.3,168.7L161.1,168.8" fill="none" stroke="#e0404c" stroke-width="1.0" stroke-linejoin="round"/>
<path d="M131.1,168.8L132.3,168.7L132.9,168.7L133.5,168.6L134.1,168.5L134.7,168.2L135.3,167.9L135.9,167.3L136.5,166.5L137.1,165.2L137.7,163.5L138.3,161.0L138.9,157.9L139.5,153.9L140.1,149.5L140.2,148.7L140.6,145.9L140.7,145.3L141.0,144.0L141.3,145.7L141.6,148.3L141.9,151.1L142.5,156.2L143.1,160.0L143.7,162.5L144.3,163.9L144.9,164.5L145.5,164.6L145.5,164.6L146.1,164.5L146.7,164.4L147.3,164.8L147.9,165.3L148.5,165.8L149.1,166.3L149.7,166.8L150.3,167.2L150.9,167.5L151.5,167.8L152.1,168.0L152.7,168.2L153.3,168.4L153.9,168.5L154.5,168.6L155.1,168.6L155.7,168.7L156.3,168.7L161.1,168.8" fill="none" stroke="#1a1a1a" stroke-width="0.85" stroke-linejoin="round"/>
<text x="133" y="173.1" font-size="3.1" text-anchor="middle" fill="#444">10<tspan font-size="2.1" dy="-1.1">0</tspan></text>
<text x="138.48" y="173.1" font-size="3.1" text-anchor="middle" fill="#444">10<tspan font-size="2.1" dy="-1.1">1</tspan></text>
<text x="143.96" y="173.1" font-size="3.1" text-anchor="middle" fill="#444">10<tspan font-size="2.1" dy="-1.1">2</tspan></text>
<text x="149.44" y="173.1" font-size="3.1" text-anchor="middle" fill="#444">10<tspan font-size="2.1" dy="-1.1">3</tspan></text>
<text x="154.92" y="173.1" font-size="3.1" text-anchor="middle" fill="#444">10<tspan font-size="2.1" dy="-1.1">4</tspan></text>
<text x="160.4" y="173.1" font-size="3.1" text-anchor="middle" fill="#444">10<tspan font-size="2.1" dy="-1.1">5</tspan></text>
<rect x="171.4" y="138.4" width="31" height="31" fill="none" stroke="#9a9a9a" stroke-width="0.9"/>
<path d="M171.4,138L171.4,169.8" stroke="#6e6e6e" stroke-width="1.1"/>
<path d="M171.9,168.4L172.5,168.2L173.1,167.9L173.7,167.6L174.3,167.2L174.9,166.5L175.5,165.7L176.1,164.7L176.7,163.4L177.3,161.7L177.9,159.7L178.5,157.3L179.1,154.5L179.7,151.3L180.3,147.9L180.6,146.4L180.9,144.5L181.1,143.3L181.5,141.8L181.7,141.3L182.1,142.9L182.2,143.3L182.6,146.4L182.7,146.8L183.3,151.0L183.9,154.9L184.5,158.3L185.1,161.0L185.7,163.2L186.3,164.8L186.9,166.0L187.5,166.9L188.1,167.5L188.7,168.0L189.3,168.2L189.9,168.4L190.5,168.6L191.1,168.7L191.7,168.7L201.9,168.8" fill="none" stroke="#e0404c" stroke-width="1.0" stroke-linejoin="round"/>
<path d="M171.9,168.6L172.5,168.5L173.1,168.3L173.7,168.0L174.3,167.7L174.9,167.2L175.5,166.6L176.1,165.7L176.7,164.5L177.3,163.0L177.9,161.1L178.5,158.6L179.1,155.7L179.7,152.4L180.3,148.7L180.7,146.4L180.9,144.9L181.2,143.3L181.5,141.8L181.7,141.2L182.1,143.2L182.1,143.3L182.5,146.3L182.7,148.3L183.3,153.3L183.9,157.4L184.5,160.4L185.1,162.4L185.7,163.4L186.3,163.6L186.9,163.2L187.3,162.7L187.5,162.5L187.7,162.2L188.1,161.9L188.5,162.5L188.7,163.0L188.9,163.3L189.3,164.3L189.9,165.5L190.5,166.5L191.1,167.3L191.7,167.8L192.3,168.2L192.9,168.4L193.5,168.6L194.1,168.7L194.7,168.7L201.9,168.8" fill="none" stroke="#1a1a1a" stroke-width="0.85" stroke-linejoin="round"/>
<text x="173.8" y="173.1" font-size="3.1" text-anchor="middle" fill="#444">10<tspan font-size="2.1" dy="-1.1">0</tspan></text>
<text x="179.28" y="173.1" font-size="3.1" text-anchor="middle" fill="#444">10<tspan font-size="2.1" dy="-1.1">1</tspan></text>
<text x="184.76" y="173.1" font-size="3.1" text-anchor="middle" fill="#444">10<tspan font-size="2.1" dy="-1.1">2</tspan></text>
<text x="190.24" y="173.1" font-size="3.1" text-anchor="middle" fill="#444">10<tspan font-size="2.1" dy="-1.1">3</tspan></text>
<text x="195.72" y="173.1" font-size="3.1" text-anchor="middle" fill="#444">10<tspan font-size="2.1" dy="-1.1">4</tspan></text>
<text x="201.2" y="173.1" font-size="3.1" text-anchor="middle" fill="#444">10<tspan font-size="2.1" dy="-1.1">5</tspan></text>
<rect x="211" y="138.4" width="31" height="31" fill="none" stroke="#9a9a9a" stroke-width="0.9"/>
<path d="M211,138L211,169.8" stroke="#6e6e6e" stroke-width="1.1"/>
<path d="M211.5,168.3L212.1,168.1L212.7,167.8L213.3,167.5L213.9,167.0L214.5,166.3L215.1,165.4L215.7,164.3L216.3,162.9L216.9,161.1L217.5,158.9L218.1,156.4L218.7,153.4L219.3,150.1L219.9,146.7L219.9,146.4L220.5,143.5L220.5,143.3L221.1,141.3L221.5,143.3L221.7,144.5L222.0,146.4L222.3,149.1L222.9,153.5L223.5,157.4L224.1,160.5L224.7,163.0L225.3,164.8L225.9,166.1L226.5,167.0L227.1,167.7L227.7,168.1L228.3,168.3L228.9,168.5L229.5,168.6L230.1,168.7L241.5,168.8" fill="none" stroke="#e0404c" stroke-width="1.0" stroke-linejoin="round"/>
<path d="M211.5,168.5L212.1,168.4L212.7,168.2L213.3,167.9L213.9,167.6L214.5,167.0L215.1,166.3L215.7,165.3L216.3,164.0L216.9,162.4L217.5,160.3L218.1,157.7L218.7,154.6L219.3,151.1L219.9,147.4L220.1,146.4L220.5,143.8L220.6,143.3L221.1,141.3L221.5,143.3L221.7,144.7L221.9,146.4L222.3,149.4L222.9,154.0L223.5,157.9L224.1,161.1L224.7,163.5L225.3,165.2L225.9,166.4L226.5,167.3L227.1,167.8L227.7,168.2L228.3,168.4L228.9,168.6L229.5,168.7L230.1,168.7L241.5,168.8" fill="none" stroke="#1a1a1a" stroke-width="0.85" stroke-linejoin="round"/>
<text x="213.4" y="173.1" font-size="3.1" text-anchor="middle" fill="#444">10<tspan font-size="2.1" dy="-1.1">0</tspan></text>
<text x="218.88" y="173.1" font-size="3.1" text-anchor="middle" fill="#444">10<tspan font-size="2.1" dy="-1.1">1</tspan></text>
<text x="224.36" y="173.1" font-size="3.1" text-anchor="middle" fill="#444">10<tspan font-size="2.1" dy="-1.1">2</tspan></text>
<text x="229.84" y="173.1" font-size="3.1" text-anchor="middle" fill="#444">10<tspan font-size="2.1" dy="-1.1">3</tspan></text>
<text x="235.32" y="173.1" font-size="3.1" text-anchor="middle" fill="#444">10<tspan font-size="2.1" dy="-1.1">4</tspan></text>
<text x="240.8" y="173.1" font-size="3.1" text-anchor="middle" fill="#444">10<tspan font-size="2.1" dy="-1.1">5</tspan></text>
<rect x="252.3" y="138.4" width="31" height="31" fill="none" stroke="#9a9a9a" stroke-width="0.9"/>
<path d="M252.3,138L252.3,169.8" stroke="#6e6e6e" stroke-width="1.1"/>
<path d="M252.8,168.3L253.4,168.1L254.0,167.8L254.6,167.4L255.2,166.9L255.8,166.2L256.4,165.3L257.0,164.1L257.6,162.6L258.2,160.8L258.8,158.6L259.4,155.9L260.0,152.9L260.6,149.6L261.2,146.4L261.2,146.2L261.7,143.3L261.8,143.0L262.3,141.3L262.4,141.5L262.7,143.3L263.0,145.2L263.2,146.4L263.6,149.8L264.2,154.1L264.8,157.9L265.4,161.0L266.0,163.3L266.6,165.0L267.2,166.3L267.8,167.1L268.4,167.7L269.0,168.1L269.6,168.4L270.2,168.5L270.8,168.6L271.4,168.7L282.8,168.8" fill="none" stroke="#e0404c" stroke-width="1.0" stroke-linejoin="round"/>
<path d="M252.8,168.5L253.4,168.4L254.0,168.2L254.6,167.9L255.2,167.5L255.8,166.9L256.4,166.2L257.0,165.1L257.6,163.8L258.2,162.1L258.8,159.9L259.4,157.3L260.0,154.1L260.6,150.6L261.2,146.8L261.3,146.4L261.8,143.3L261.8,143.3L262.3,141.3L262.4,141.5L262.7,143.3L263.0,145.4L263.1,146.4L263.6,150.2L264.2,154.7L264.8,158.5L265.4,161.5L266.0,163.8L266.6,165.4L267.2,166.6L267.8,167.4L268.4,167.9L269.0,168.2L269.6,168.5L270.2,168.6L270.8,168.7L271.4,168.7L282.8,168.8" fill="none" stroke="#1a1a1a" stroke-width="0.85" stroke-linejoin="round"/>
<text x="254.7" y="173.1" font-size="3.1" text-anchor="middle" fill="#444">10<tspan font-size="2.1" dy="-1.1">0</tspan></text>
<text x="260.18" y="173.1" font-size="3.1" text-anchor="middle" fill="#444">10<tspan font-size="2.1" dy="-1.1">1</tspan></text>
<text x="265.66" y="173.1" font-size="3.1" text-anchor="middle" fill="#444">10<tspan font-size="2.1" dy="-1.1">2</tspan></text>
<text x="271.14" y="173.1" font-size="3.1" text-anchor="middle" fill="#444">10<tspan font-size="2.1" dy="-1.1">3</tspan></text>
<text x="276.62" y="173.1" font-size="3.1" text-anchor="middle" fill="#444">10<tspan font-size="2.1" dy="-1.1">4</tspan></text>
<text x="282.1" y="173.1" font-size="3.1" text-anchor="middle" fill="#444">10<tspan font-size="2.1" dy="-1.1">5</tspan></text>
<rect x="50.2" y="180.2" width="3.4" height="3.4" fill="#111"/>
<text transform="translate(56.3,183.8) scale(0.89,1)" font-size="6.94" fill="#222" stroke="#222" stroke-width="0.09" >Isotype</text>
<rect x="80.8" y="180.2" width="3.4" height="3.4" fill="#c0202a"/>
<text transform="translate(87.1,183.8) scale(0.89,1)" font-size="6.94" fill="#222" stroke="#222" stroke-width="0.09" >Pik3ip1</text>
<path d="M313.4,12.7L313.4,71.9" stroke="#111" stroke-width="1.1"/>
<path d="M313.4,71.4L401.7,71.4" stroke="#111" stroke-width="1.1"/>
<path d="M310.6,71.4L313.4,71.4" stroke="#111" stroke-width="1.0"/>
<text transform="translate(309,73.7) scale(0.89,1)" font-size="7.17" text-anchor="end" fill="#222" stroke="#222" stroke-width="0.09" >0</text>
<path d="M310.6,59.74L313.4,59.74" stroke="#111" stroke-width="1.0"/>
<text transform="translate(309,62.04) scale(0.89,1)" font-size="7.17" text-anchor="end" fill="#222" stroke="#222" stroke-width="0.09" >20</text>
<path d="M310.6,48.08L313.4,48.08" stroke="#111" stroke-width="1.0"/>
<text transform="translate(309,50.38) scale(0.89,1)" font-size="7.17" text-anchor="end" fill="#222" stroke="#222" stroke-width="0.09" >40</text>
<path d="M310.6,36.42L313.4,36.42" stroke="#111" stroke-width="1.0"/>
<text transform="translate(309,38.72) scale(0.89,1)" font-size="7.17" text-anchor="end" fill="#222" stroke="#222" stroke-width="0.09" >60</text>
<path d="M310.6,24.76L313.4,24.76" stroke="#111" stroke-width="1.0"/>
<text transform="translate(309,27.06) scale(0.89,1)" font-size="7.17" text-anchor="end" fill="#222" stroke="#222" stroke-width="0.09" >80</text>
<path d="M310.6,13.1L313.4,13.1" stroke="#111" stroke-width="1.0"/>
<text transform="translate(309,15.4) scale(0.89,1)" font-size="7.17" text-anchor="end" fill="#222" stroke="#222" stroke-width="0.09" >100</text>
<path d="M320.5,71.4L320.5,74.7" stroke="#111" stroke-width="1.0"/>
<text font-size="7.17" text-anchor="end" fill="#222" stroke="#222" stroke-width="0.09" transform="translate(323,80.8) rotate(-45) scale(0.89,1)">CD4</text>
<circle cx="317.4" cy="23.59" r="1.45" fill="#111"/>
<circle cx="323.8" cy="22.19" r="1.45" fill="#111"/>
<circle cx="320.8" cy="25.93" r="1.45" fill="#111"/>
<circle cx="318.8" cy="30.88" r="1.45" fill="#111"/>
<circle cx="322.5" cy="30.59" r="1.45" fill="#111"/>
<path d="M315.9,26.28L325.1,26.28" stroke="#111" stroke-width="0.9"/>
<path d="M320.5,24.53L320.5,28.02" stroke="#111" stroke-width="0.7"/>
<path d="M318.7,24.53L322.3,24.53" stroke="#111" stroke-width="0.7"/>
<path d="M318.7,28.02L322.3,28.02" stroke="#111" stroke-width="0.7"/>
<path d="M335.05,71.4L335.05,74.7" stroke="#111" stroke-width="1.0"/>
<text font-size="7.17" text-anchor="end" fill="#222" stroke="#222" stroke-width="0.09" transform="translate(337.55,80.8) rotate(-45) scale(0.89,1)">CD8</text>
<circle cx="333.15" cy="19.22" r="1.45" fill="#111"/>
<circle cx="336.85" cy="18.7" r="1.45" fill="#111"/>
<circle cx="333.45" cy="24.99" r="1.45" fill="#111"/>
<circle cx="336.15" cy="24.99" r="1.45" fill="#111"/>
<circle cx="335.05" cy="31.76" r="1.45" fill="#111"/>
<path d="M330.45,24.12L339.65,24.12" stroke="#111" stroke-width="0.9"/>
<path d="M335.05,22.37L335.05,25.87" stroke="#111" stroke-width="0.7"/>
<path d="M333.25,22.37L336.85,22.37" stroke="#111" stroke-width="0.7"/>
<path d="M333.25,25.87L336.85,25.87" stroke="#111" stroke-width="0.7"/>
<path d="M349.6,71.4L349.6,74.7" stroke="#111" stroke-width="1.0"/>
<text font-size="7.17" text-anchor="end" fill="#222" stroke="#222" stroke-width="0.09" transform="translate(352.1,80.8) rotate(-45) scale(0.89,1)">CD19</text>
<circle cx="346.6" cy="69.65" r="1.45" fill="#111"/>
<circle cx="348.6" cy="70.23" r="1.45" fill="#111"/>
<circle cx="350.6" cy="69.65" r="1.45" fill="#111"/>
<circle cx="352.6" cy="70.23" r="1.45" fill="#111"/>
<circle cx="349.6" cy="69.07" r="1.45" fill="#111"/>
<path d="M345,69.77L354.2,69.77" stroke="#111" stroke-width="0.9"/>
<path d="M349.6,68.02L349.6,71.52" stroke="#111" stroke-width="0.7"/>
<path d="M347.8,68.02L351.4,68.02" stroke="#111" stroke-width="0.7"/>
<path d="M347.8,71.52L351.4,71.52" stroke="#111" stroke-width="0.7"/>
<path d="M364.15,71.4L364.15,74.7" stroke="#111" stroke-width="1.0"/>
<text font-size="7.17" text-anchor="end" fill="#222" stroke="#222" stroke-width="0.09" transform="translate(366.65,80.8) rotate(-45) scale(0.89,1)">CD11b</text>
<circle cx="361.15" cy="69.07" r="1.45" fill="#111"/>
<circle cx="363.15" cy="70.23" r="1.45" fill="#111"/>
<circle cx="365.15" cy="69.65" r="1.45" fill="#111"/>
<circle cx="367.15" cy="69.65" r="1.45" fill="#111"/>
<circle cx="364.15" cy="68.48" r="1.45" fill="#111"/>
<path d="M359.55,69.42L368.75,69.42" stroke="#111" stroke-width="0.9"/>
<path d="M364.15,67.67L364.15,71.17" stroke="#111" stroke-width="0.7"/>
<path d="M362.35,67.67L365.95,67.67" stroke="#111" stroke-width="0.7"/>
<path d="M362.35,71.17L365.95,71.17" stroke="#111" stroke-width="0.7"/>
<path d="M378.7,71.4L378.7,74.7" stroke="#111" stroke-width="1.0"/>
<text font-size="7.17" text-anchor="end" fill="#222" stroke="#222" stroke-width="0.09" transform="translate(381.2,80.8) rotate(-45) scale(0.89,1)">CD11c</text>
<circle cx="375.7" cy="69.65" r="1.45" fill="#111"/>
<circle cx="377.7" cy="70.23" r="1.45" fill="#111"/>
<circle cx="379.7" cy="69.07" r="1.45" fill="#111"/>
<circle cx="381.7" cy="69.65" r="1.45" fill="#111"/>
<circle cx="378.7" cy="68.48" r="1.45" fill="#111"/>
<path d="M374.1,69.42L383.3,69.42" stroke="#111" stroke-width="0.9"/>
<path d="M378.7,67.67L378.7,71.17" stroke="#111" stroke-width="0.7"/>
<path d="M376.9,67.67L380.5,67.67" stroke="#111" stroke-width="0.7"/>
<path d="M376.9,71.17L380.5,71.17" stroke="#111" stroke-width="0.7"/>
<path d="M393.25,71.4L393.25,74.7" stroke="#111" stroke-width="1.0"/>
<text font-size="7.17" text-anchor="end" fill="#222" stroke="#222" stroke-width="0.09" transform="translate(395.75,80.8) rotate(-45) scale(0.89,1)">NK1.1</text>
<circle cx="390.25" cy="70.23" r="1.45" fill="#111"/>
<circle cx="392.25" cy="70.82" r="1.45" fill="#111"/>
<circle cx="394.25" cy="70.23" r="1.45" fill="#111"/>
<circle cx="396.25" cy="69.65" r="1.45" fill="#111"/>
<circle cx="393.25" cy="70.23" r="1.45" fill="#111"/>
<path d="M388.65,70.23L397.85,70.23" stroke="#111" stroke-width="0.9"/>
<path d="M393.25,68.48L393.25,71.98" stroke="#111" stroke-width="0.7"/>
<path d="M391.45,68.48L395.05,68.48" stroke="#111" stroke-width="0.7"/>
<path d="M391.45,71.98L395.05,71.98" stroke="#111" stroke-width="0.7"/>
<text transform="translate(358.8,6.9) scale(0.89,1)" font-size="7.17" text-anchor="middle" fill="#222" stroke="#222" stroke-width="0.09" >Spleen</text>
<text font-size="6.94" text-anchor="middle" fill="#222" stroke="#222" stroke-width="0.09" transform="translate(294.6,42.25) rotate(-90) scale(0.89,1)">Pik3ip1<tspan font-size="4" dy="-2.2">+</tspan><tspan dy="2.2"> (%)</tspan></text>
<path d="M425.2,12.7L425.2,71.9" stroke="#111" stroke-width="1.1"/>
<path d="M425.2,71.4L514.5,71.4" stroke="#111" stroke-width="1.1"/>
<path d="M422.4,71.4L425.2,71.4" stroke="#111" stroke-width="1.0"/>
<text transform="translate(420.8,73.7) scale(0.89,1)" font-size="7.17" text-anchor="end" fill="#222" stroke="#222" stroke-width="0.09" >0</text>
<path d="M422.4,59.74L425.2,59.74" stroke="#111" stroke-width="1.0"/>
<text transform="translate(420.8,62.04) scale(0.89,1)" font-size="7.17" text-anchor="end" fill="#222" stroke="#222" stroke-width="0.09" >20</text>
<path d="M422.4,48.08L425.2,48.08" stroke="#111" stroke-width="1.0"/>
<text transform="translate(420.8,50.38) scale(0.89,1)" font-size="7.17" text-anchor="end" fill="#222" stroke="#222" stroke-width="0.09" >40</text>
<path d="M422.4,36.42L425.2,36.42" stroke="#111" stroke-width="1.0"/>
<text transform="translate(420.8,38.72) scale(0.89,1)" font-size="7.17" text-anchor="end" fill="#222" stroke="#222" stroke-width="0.09" >60</text>
<path d="M422.4,24.76L425.2,24.76" stroke="#111" stroke-width="1.0"/>
<text transform="translate(420.8,27.06) scale(0.89,1)" font-size="7.17" text-anchor="end" fill="#222" stroke="#222" stroke-width="0.09" >80</text>
<path d="M422.4,13.1L425.2,13.1" stroke="#111" stroke-width="1.0"/>
<text transform="translate(420.8,15.4) scale(0.89,1)" font-size="7.17" text-anchor="end" fill="#222" stroke="#222" stroke-width="0.09" >100</text>
<path d="M432.5,71.4L432.5,74.7" stroke="#111" stroke-width="1.0"/>
<text font-size="7.17" text-anchor="end" fill="#222" stroke="#222" stroke-width="0.09" transform="translate(435,80.8) rotate(-45) scale(0.89,1)">CD4</text>
<circle cx="429" cy="17.76" r="1.45" fill="#111"/>
<circle cx="432.5" cy="19.1" r="1.45" fill="#111"/>
<circle cx="435.8" cy="15.43" r="1.45" fill="#111"/>
<circle cx="430.6" cy="25.34" r="1.45" fill="#111"/>
<circle cx="434.4" cy="25.34" r="1.45" fill="#111"/>
<path d="M427.9,21.03L437.1,21.03" stroke="#111" stroke-width="0.9"/>
<path d="M432.5,19.28L432.5,22.78" stroke="#111" stroke-width="0.7"/>
<path d="M430.7,19.28L434.3,19.28" stroke="#111" stroke-width="0.7"/>
<path d="M430.7,22.78L434.3,22.78" stroke="#111" stroke-width="0.7"/>
<path d="M447.12,71.4L447.12,74.7" stroke="#111" stroke-width="1.0"/>
<text font-size="7.17" text-anchor="end" fill="#222" stroke="#222" stroke-width="0.09" transform="translate(449.62,80.8) rotate(-45) scale(0.89,1)">CD8</text>
<circle cx="446.22" cy="18.93" r="1.45" fill="#111"/>
<circle cx="443.42" cy="25.34" r="1.45" fill="#111"/>
<circle cx="447.32" cy="25.34" r="1.45" fill="#111"/>
<circle cx="443.82" cy="32.05" r="1.45" fill="#111"/>
<circle cx="447.72" cy="32.05" r="1.45" fill="#111"/>
<path d="M442.52,27.91L451.72,27.91" stroke="#111" stroke-width="0.9"/>
<path d="M447.12,26.16L447.12,29.66" stroke="#111" stroke-width="0.7"/>
<path d="M445.32,26.16L448.92,26.16" stroke="#111" stroke-width="0.7"/>
<path d="M445.32,29.66L448.92,29.66" stroke="#111" stroke-width="0.7"/>
<path d="M461.74,71.4L461.74,74.7" stroke="#111" stroke-width="1.0"/>
<text font-size="7.17" text-anchor="end" fill="#222" stroke="#222" stroke-width="0.09" transform="translate(464.24,80.8) rotate(-45) scale(0.89,1)">CD19</text>
<circle cx="461.74" cy="57.99" r="1.45" fill="#111"/>
<circle cx="458.84" cy="64.4" r="1.45" fill="#111"/>
<circle cx="463.14" cy="64.4" r="1.45" fill="#111"/>
<circle cx="461.14" cy="66.74" r="1.45" fill="#111"/>
<circle cx="466.14" cy="64.4" r="1.45" fill="#111"/>
<path d="M457.14,63.24L466.34,63.24" stroke="#111" stroke-width="0.9"/>
<path d="M461.74,61.49L461.74,64.99" stroke="#111" stroke-width="0.7"/>
<path d="M459.94,61.49L463.54,61.49" stroke="#111" stroke-width="0.7"/>
<path d="M459.94,64.99L463.54,64.99" stroke="#111" stroke-width="0.7"/>
<path d="M476.36,71.4L476.36,74.7" stroke="#111" stroke-width="1.0"/>
<text font-size="7.17" text-anchor="end" fill="#222" stroke="#222" stroke-width="0.09" transform="translate(478.86,80.8) rotate(-45) scale(0.89,1)">CD11b</text>
<circle cx="474.86" cy="59.16" r="1.45" fill="#111"/>
<circle cx="477.86" cy="63.24" r="1.45" fill="#111"/>
<circle cx="473.86" cy="65.8" r="1.45" fill="#111"/>
<circle cx="479.66" cy="65.8" r="1.45" fill="#111"/>
<circle cx="476.36" cy="63.24" r="1.45" fill="#111"/>
<path d="M471.76,63.24L480.96,63.24" stroke="#111" stroke-width="0.9"/>
<path d="M476.36,61.49L476.36,64.99" stroke="#111" stroke-width="0.7"/>
<path d="M474.56,61.49L478.16,61.49" stroke="#111" stroke-width="0.7"/>
<path d="M474.56,64.99L478.16,64.99" stroke="#111" stroke-width="0.7"/>
<path d="M490.98,71.4L490.98,74.7" stroke="#111" stroke-width="1.0"/>
<text font-size="7.17" text-anchor="end" fill="#222" stroke="#222" stroke-width="0.09" transform="translate(493.48,80.8) rotate(-45) scale(0.89,1)">CD11c</text>
<circle cx="488.98" cy="66.74" r="1.45" fill="#111"/>
<circle cx="490.98" cy="66.74" r="1.45" fill="#111"/>
<circle cx="492.98" cy="66.74" r="1.45" fill="#111"/>
<circle cx="489.98" cy="67.32" r="1.45" fill="#111"/>
<circle cx="493.98" cy="66.74" r="1.45" fill="#111"/>
<path d="M486.38,66.74L495.58,66.74" stroke="#111" stroke-width="0.9"/>
<path d="M490.98,64.99L490.98,68.48" stroke="#111" stroke-width="0.7"/>
<path d="M489.18,64.99L492.78,64.99" stroke="#111" stroke-width="0.7"/>
<path d="M489.18,68.48L492.78,68.48" stroke="#111" stroke-width="0.7"/>
<path d="M505.6,71.4L505.6,74.7" stroke="#111" stroke-width="1.0"/>
<text font-size="7.17" text-anchor="end" fill="#222" stroke="#222" stroke-width="0.09" transform="translate(508.1,80.8) rotate(-45) scale(0.89,1)">NK1.1</text>
<circle cx="503.6" cy="69.94" r="1.45" fill="#111"/>
<circle cx="505.6" cy="69.94" r="1.45" fill="#111"/>
<circle cx="507.6" cy="69.94" r="1.45" fill="#111"/>
<circle cx="504.6" cy="70.23" r="1.45" fill="#111"/>
<circle cx="508.6" cy="69.65" r="1.45" fill="#111"/>
<path d="M501,69.94L510.2,69.94" stroke="#111" stroke-width="0.9"/>
<path d="M505.6,68.19L505.6,71.69" stroke="#111" stroke-width="0.7"/>
<path d="M503.8,68.19L507.4,68.19" stroke="#111" stroke-width="0.7"/>
<path d="M503.8,71.69L507.4,71.69" stroke="#111" stroke-width="0.7"/>
<text transform="translate(469.8,6.9) scale(0.89,1)" font-size="7.17" text-anchor="middle" fill="#222" stroke="#222" stroke-width="0.09" >Bone marrow</text>
<text font-size="6.94" text-anchor="middle" fill="#222" stroke="#222" stroke-width="0.09" transform="translate(407.2,42.25) rotate(-90) scale(0.89,1)">Pik3ip1<tspan font-size="4" dy="-2.2">+</tspan><tspan dy="2.2"> (%)</tspan></text>
<path d="M313.4,118.4L313.4,177.6" stroke="#111" stroke-width="1.1"/>
<path d="M313.4,177.1L401.7,177.1" stroke="#111" stroke-width="1.1"/>
<path d="M310.6,177.1L313.4,177.1" stroke="#111" stroke-width="1.0"/>
<text transform="translate(309,179.4) scale(0.89,1)" font-size="7.17" text-anchor="end" fill="#222" stroke="#222" stroke-width="0.09" >0</text>
<path d="M310.6,165.44L313.4,165.44" stroke="#111" stroke-width="1.0"/>
<text transform="translate(309,167.74) scale(0.89,1)" font-size="7.17" text-anchor="end" fill="#222" stroke="#222" stroke-width="0.09" >20</text>
<path d="M310.6,153.78L313.4,153.78" stroke="#111" stroke-width="1.0"/>
<text transform="translate(309,156.08) scale(0.89,1)" font-size="7.17" text-anchor="end" fill="#222" stroke="#222" stroke-width="0.09" >40</text>
<path d="M310.6,142.12L313.4,142.12" stroke="#111" stroke-width="1.0"/>
<text transform="translate(309,144.42) scale(0.89,1)" font-size="7.17" text-anchor="end" fill="#222" stroke="#222" stroke-width="0.09" >60</text>
<path d="M310.6,130.46L313.4,130.46" stroke="#111" stroke-width="1.0"/>
<text transform="translate(309,132.76) scale(0.89,1)" font-size="7.17" text-anchor="end" fill="#222" stroke="#222" stroke-width="0.09" >80</text>
<path d="M310.6,118.8L313.4,118.8" stroke="#111" stroke-width="1.0"/>
<text transform="translate(309,121.1) scale(0.89,1)" font-size="7.17" text-anchor="end" fill="#222" stroke="#222" stroke-width="0.09" >100</text>
<path d="M320.5,177.1L320.5,180.4" stroke="#111" stroke-width="1.0"/>
<text font-size="7.17" text-anchor="end" fill="#222" stroke="#222" stroke-width="0.09" transform="translate(323,186.5) rotate(-45) scale(0.89,1)">CD4</text>
<circle cx="317.3" cy="124.63" r="1.45" fill="#111"/>
<circle cx="323.8" cy="124.98" r="1.45" fill="#111"/>
<circle cx="320.5" cy="131.51" r="1.45" fill="#111"/>
<circle cx="320.8" cy="137.69" r="1.45" fill="#111"/>
<circle cx="320.3" cy="127.72" r="1.45" fill="#111"/>
<path d="M315.9,129.29L325.1,129.29" stroke="#111" stroke-width="0.9"/>
<path d="M320.5,127.54L320.5,131.04" stroke="#111" stroke-width="0.7"/>
<path d="M318.7,127.54L322.3,127.54" stroke="#111" stroke-width="0.7"/>
<path d="M318.7,131.04L322.3,131.04" stroke="#111" stroke-width="0.7"/>
<path d="M335.05,177.1L335.05,180.4" stroke="#111" stroke-width="1.0"/>
<text font-size="7.17" text-anchor="end" fill="#222" stroke="#222" stroke-width="0.09" transform="translate(337.55,186.5) rotate(-45) scale(0.89,1)">CD8</text>
<circle cx="333.25" cy="124.98" r="1.45" fill="#111"/>
<circle cx="336.65" cy="124.22" r="1.45" fill="#111"/>
<circle cx="333.45" cy="130.4" r="1.45" fill="#111"/>
<circle cx="336.85" cy="131.51" r="1.45" fill="#111"/>
<circle cx="335.05" cy="137.69" r="1.45" fill="#111"/>
<path d="M330.45,129.76L339.65,129.76" stroke="#111" stroke-width="0.9"/>
<path d="M335.05,128.01L335.05,131.51" stroke="#111" stroke-width="0.7"/>
<path d="M333.25,128.01L336.85,128.01" stroke="#111" stroke-width="0.7"/>
<path d="M333.25,131.51L336.85,131.51" stroke="#111" stroke-width="0.7"/>
<path d="M349.6,177.1L349.6,180.4" stroke="#111" stroke-width="1.0"/>
<text font-size="7.17" text-anchor="end" fill="#222" stroke="#222" stroke-width="0.09" transform="translate(352.1,186.5) rotate(-45) scale(0.89,1)">CD19</text>
<circle cx="346.6" cy="171.27" r="1.45" fill="#111"/>
<circle cx="348.6" cy="172.44" r="1.45" fill="#111"/>
<circle cx="350.6" cy="170.69" r="1.45" fill="#111"/>
<circle cx="352.6" cy="171.85" r="1.45" fill="#111"/>
<circle cx="349.6" cy="173.02" r="1.45" fill="#111"/>
<path d="M345,171.85L354.2,171.85" stroke="#111" stroke-width="0.9"/>
<path d="M349.6,170.1L349.6,173.6" stroke="#111" stroke-width="0.7"/>
<path d="M347.8,170.1L351.4,170.1" stroke="#111" stroke-width="0.7"/>
<path d="M347.8,173.6L351.4,173.6" stroke="#111" stroke-width="0.7"/>
<path d="M364.15,177.1L364.15,180.4" stroke="#111" stroke-width="1.0"/>
<text font-size="7.17" text-anchor="end" fill="#222" stroke="#222" stroke-width="0.09" transform="translate(366.65,186.5) rotate(-45) scale(0.89,1)">CD11b</text>
<circle cx="361.15" cy="172.44" r="1.45" fill="#111"/>
<circle cx="363.15" cy="173.02" r="1.45" fill="#111"/>
<circle cx="365.15" cy="171.85" r="1.45" fill="#111"/>
<circle cx="367.15" cy="172.44" r="1.45" fill="#111"/>
<circle cx="364.15" cy="173.02" r="1.45" fill="#111"/>
<path d="M359.55,172.55L368.75,172.55" stroke="#111" stroke-width="0.9"/>
<path d="M364.15,170.8L364.15,174.3" stroke="#111" stroke-width="0.7"/>
<path d="M362.35,170.8L365.95,170.8" stroke="#111" stroke-width="0.7"/>
<path d="M362.35,174.3L365.95,174.3" stroke="#111" stroke-width="0.7"/>
<path d="M378.7,177.1L378.7,180.4" stroke="#111" stroke-width="1.0"/>
<text font-size="7.17" text-anchor="end" fill="#222" stroke="#222" stroke-width="0.09" transform="translate(381.2,186.5) rotate(-45) scale(0.89,1)">CD11c</text>
<circle cx="375.7" cy="173.02" r="1.45" fill="#111"/>
<circle cx="377.7" cy="175.35" r="1.45" fill="#111"/>
<circle cx="379.7" cy="173.6" r="1.45" fill="#111"/>
<circle cx="381.7" cy="175.93" r="1.45" fill="#111"/>
<circle cx="378.7" cy="174.19" r="1.45" fill="#111"/>
<path d="M374.1,174.42L383.3,174.42" stroke="#111" stroke-width="0.9"/>
<path d="M378.7,172.67L378.7,176.17" stroke="#111" stroke-width="0.7"/>
<path d="M376.9,172.67L380.5,172.67" stroke="#111" stroke-width="0.7"/>
<path d="M376.9,176.17L380.5,176.17" stroke="#111" stroke-width="0.7"/>
<path d="M393.25,177.1L393.25,180.4" stroke="#111" stroke-width="1.0"/>
<text font-size="7.17" text-anchor="end" fill="#222" stroke="#222" stroke-width="0.09" transform="translate(395.75,186.5) rotate(-45) scale(0.89,1)">NK1.1</text>
<circle cx="390.25" cy="175.35" r="1.45" fill="#111"/>
<circle cx="392.25" cy="175.93" r="1.45" fill="#111"/>
<circle cx="394.25" cy="174.77" r="1.45" fill="#111"/>
<circle cx="396.25" cy="175.93" r="1.45" fill="#111"/>
<circle cx="393.25" cy="175.35" r="1.45" fill="#111"/>
<path d="M388.65,175.47L397.85,175.47" stroke="#111" stroke-width="0.9"/>
<path d="M393.25,173.72L393.25,177.22" stroke="#111" stroke-width="0.7"/>
<path d="M391.45,173.72L395.05,173.72" stroke="#111" stroke-width="0.7"/>
<path d="M391.45,177.22L395.05,177.22" stroke="#111" stroke-width="0.7"/>
<text transform="translate(358.5,111.8) scale(0.89,1)" font-size="7.17" text-anchor="middle" fill="#222" stroke="#222" stroke-width="0.09" >Lymph node</text>
<text font-size="6.94" text-anchor="middle" fill="#222" stroke="#222" stroke-width="0.09" transform="translate(292.3,147.95) rotate(-90) scale(0.89,1)">Pik3ip1<tspan font-size="4" dy="-2.2">+</tspan><tspan dy="2.2"> (%)</tspan></text>
<path d="M425.2,118.4L425.2,177.6" stroke="#111" stroke-width="1.1"/>
<path d="M425.2,177.1L514.5,177.1" stroke="#111" stroke-width="1.1"/>
<path d="M422.4,177.1L425.2,177.1" stroke="#111" stroke-width="1.0"/>
<text transform="translate(420.8,179.4) scale(0.89,1)" font-size="7.17" text-anchor="end" fill="#222" stroke="#222" stroke-width="0.09" >0</text>
<path d="M422.4,165.44L425.2,165.44" stroke="#111" stroke-width="1.0"/>
<text transform="translate(420.8,167.74) scale(0.89,1)" font-size="7.17" text-anchor="end" fill="#222" stroke="#222" stroke-width="0.09" >20</text>
<path d="M422.4,153.78L425.2,153.78" stroke="#111" stroke-width="1.0"/>
<text transform="translate(420.8,156.08) scale(0.89,1)" font-size="7.17" text-anchor="end" fill="#222" stroke="#222" stroke-width="0.09" >40</text>
<path d="M422.4,142.12L425.2,142.12" stroke="#111" stroke-width="1.0"/>
<text transform="translate(420.8,144.42) scale(0.89,1)" font-size="7.17" text-anchor="end" fill="#222" stroke="#222" stroke-width="0.09" >60</text>
<path d="M422.4,130.46L425.2,130.46" stroke="#111" stroke-width="1.0"/>
<text transform="translate(420.8,132.76) scale(0.89,1)" font-size="7.17" text-anchor="end" fill="#222" stroke="#222" stroke-width="0.09" >80</text>
<path d="M422.4,118.8L425.2,118.8" stroke="#111" stroke-width="1.0"/>
<text transform="translate(420.8,121.1) scale(0.89,1)" font-size="7.17" text-anchor="end" fill="#222" stroke="#222" stroke-width="0.09" >100</text>
<path d="M432.5,177.1L432.5,180.4" stroke="#111" stroke-width="1.0"/>
<text font-size="7.17" text-anchor="end" fill="#222" stroke="#222" stroke-width="0.09" transform="translate(435,186.5) rotate(-45) scale(0.89,1)">CD4</text>
<circle cx="432.8" cy="126.5" r="1.45" fill="#111"/>
<circle cx="430.8" cy="131.22" r="1.45" fill="#111"/>
<circle cx="434.3" cy="131.51" r="1.45" fill="#111"/>
<circle cx="430.8" cy="138.1" r="1.45" fill="#111"/>
<circle cx="434.3" cy="137.69" r="1.45" fill="#111"/>
<path d="M427.9,133.08L437.1,133.08" stroke="#111" stroke-width="0.9"/>
<path d="M432.5,131.33L432.5,134.83" stroke="#111" stroke-width="0.7"/>
<path d="M430.7,131.33L434.3,131.33" stroke="#111" stroke-width="0.7"/>
<path d="M430.7,134.83L434.3,134.83" stroke="#111" stroke-width="0.7"/>
<path d="M447.12,177.1L447.12,180.4" stroke="#111" stroke-width="1.0"/>
<text font-size="7.17" text-anchor="end" fill="#222" stroke="#222" stroke-width="0.09" transform="translate(449.62,186.5) rotate(-45) scale(0.89,1)">CD8</text>
<circle cx="449.02" cy="124.22" r="1.45" fill="#111"/>
<circle cx="445.62" cy="126.9" r="1.45" fill="#111"/>
<circle cx="445.92" cy="131.51" r="1.45" fill="#111"/>
<circle cx="449.02" cy="131.51" r="1.45" fill="#111"/>
<circle cx="447.12" cy="137.69" r="1.45" fill="#111"/>
<path d="M442.52,130.4L451.72,130.4" stroke="#111" stroke-width="0.9"/>
<path d="M447.12,128.65L447.12,132.15" stroke="#111" stroke-width="0.7"/>
<path d="M445.32,128.65L448.92,128.65" stroke="#111" stroke-width="0.7"/>
<path d="M445.32,132.15L448.92,132.15" stroke="#111" stroke-width="0.7"/>
<path d="M461.74,177.1L461.74,180.4" stroke="#111" stroke-width="1.0"/>
<text font-size="7.17" text-anchor="end" fill="#222" stroke="#222" stroke-width="0.09" transform="translate(464.24,186.5) rotate(-45) scale(0.89,1)">CD19</text>
<circle cx="458.74" cy="171.27" r="1.45" fill="#111"/>
<circle cx="460.74" cy="175.35" r="1.45" fill="#111"/>
<circle cx="462.74" cy="170.69" r="1.45" fill="#111"/>
<circle cx="464.74" cy="171.85" r="1.45" fill="#111"/>
<circle cx="461.74" cy="173.02" r="1.45" fill="#111"/>
<path d="M457.14,172.44L466.34,172.44" stroke="#111" stroke-width="0.9"/>
<path d="M461.74,170.69L461.74,174.19" stroke="#111" stroke-width="0.7"/>
<path d="M459.94,170.69L463.54,170.69" stroke="#111" stroke-width="0.7"/>
<path d="M459.94,174.19L463.54,174.19" stroke="#111" stroke-width="0.7"/>
<path d="M476.36,177.1L476.36,180.4" stroke="#111" stroke-width="1.0"/>
<text font-size="7.17" text-anchor="end" fill="#222" stroke="#222" stroke-width="0.09" transform="translate(478.86,186.5) rotate(-45) scale(0.89,1)">CD11b</text>
<circle cx="473.36" cy="171.27" r="1.45" fill="#111"/>
<circle cx="475.36" cy="171.85" r="1.45" fill="#111"/>
<circle cx="477.36" cy="168.35" r="1.45" fill="#111"/>
<circle cx="479.36" cy="170.69" r="1.45" fill="#111"/>
<circle cx="476.36" cy="171.85" r="1.45" fill="#111"/>
<path d="M471.76,170.8L480.96,170.8" stroke="#111" stroke-width="0.9"/>
<path d="M476.36,169.05L476.36,172.55" stroke="#111" stroke-width="0.7"/>
<path d="M474.56,169.05L478.16,169.05" stroke="#111" stroke-width="0.7"/>
<path d="M474.56,172.55L478.16,172.55" stroke="#111" stroke-width="0.7"/>
<path d="M490.98,177.1L490.98,180.4" stroke="#111" stroke-width="1.0"/>
<text font-size="7.17" text-anchor="end" fill="#222" stroke="#222" stroke-width="0.09" transform="translate(493.48,186.5) rotate(-45) scale(0.89,1)">CD11c</text>
<circle cx="487.98" cy="172.44" r="1.45" fill="#111"/>
<circle cx="489.98" cy="173.02" r="1.45" fill="#111"/>
<circle cx="491.98" cy="171.85" r="1.45" fill="#111"/>
<circle cx="493.98" cy="172.44" r="1.45" fill="#111"/>
<circle cx="490.98" cy="173.02" r="1.45" fill="#111"/>
<path d="M486.38,172.55L495.58,172.55" stroke="#111" stroke-width="0.9"/>
<path d="M490.98,170.8L490.98,174.3" stroke="#111" stroke-width="0.7"/>
<path d="M489.18,170.8L492.78,170.8" stroke="#111" stroke-width="0.7"/>
<path d="M489.18,174.3L492.78,174.3" stroke="#111" stroke-width="0.7"/>
<path d="M505.6,177.1L505.6,180.4" stroke="#111" stroke-width="1.0"/>
<text font-size="7.17" text-anchor="end" fill="#222" stroke="#222" stroke-width="0.09" transform="translate(508.1,186.5) rotate(-45) scale(0.89,1)">NK1.1</text>
<circle cx="502.6" cy="175.35" r="1.45" fill="#111"/>
<circle cx="504.6" cy="175.93" r="1.45" fill="#111"/>
<circle cx="506.6" cy="174.77" r="1.45" fill="#111"/>
<circle cx="508.6" cy="175.93" r="1.45" fill="#111"/>
<circle cx="505.6" cy="175.35" r="1.45" fill="#111"/>
<path d="M501,175.47L510.2,175.47" stroke="#111" stroke-width="0.9"/>
<path d="M505.6,173.72L505.6,177.22" stroke="#111" stroke-width="0.7"/>
<path d="M503.8,173.72L507.4,173.72" stroke="#111" stroke-width="0.7"/>
<path d="M503.8,177.22L507.4,177.22" stroke="#111" stroke-width="0.7"/>
<text transform="translate(470.4,111.6) scale(0.89,1)" font-size="7.17" text-anchor="middle" fill="#222" stroke="#222" stroke-width="0.09" >Blood</text>
<text font-size="6.94" text-anchor="middle" fill="#222" stroke="#222" stroke-width="0.09" transform="translate(406.6,147.95) rotate(-90) scale(0.89,1)">Pik3ip1<tspan font-size="4" dy="-2.2">+</tspan><tspan dy="2.2"> (%)</tspan></text>
<text x="1.2" y="217" font-size="13.6" font-weight="bold" fill="#000" stroke="#000" stroke-width="0.1" >B</text>
<text transform="translate(20.9,224.55) scale(0.89,1)" font-size="6.83" text-anchor="middle" fill="#222" stroke="#222" stroke-width="0.09" >CD4</text>
<rect x="5.5" y="228.5" width="30.8" height="30.5" fill="none" stroke="#9a9a9a" stroke-width="0.9"/>
<path d="M5.5,228.1L5.5,259.4" stroke="#6e6e6e" stroke-width="1.1"/>
<path d="M6.0,258.4L11.4,258.3L12.0,258.3L12.6,258.2L13.2,258.0L13.7,257.8L14.3,257.5L14.9,257.0L15.5,256.3L16.1,255.3L16.7,254.2L17.2,253.2L17.3,252.9L17.5,252.4L17.9,251.8L18.3,252.1L18.5,252.3L18.7,252.5L19.1,252.8L19.7,252.8L20.3,251.8L20.9,249.9L21.5,246.9L21.9,244.1L22.1,243.2L22.2,242.4L22.5,241.2L22.7,241.9L22.8,242.6L23.1,244.5L23.3,246.3L23.9,250.6L24.5,253.8L25.1,255.9L25.7,257.1L26.3,257.8L26.9,258.1L27.5,258.3L28.1,258.3L35.8,258.4" fill="none" stroke="#b9806e" stroke-width="0.75" stroke-linejoin="round"/>
<path d="M6.0,258.4L16.7,258.3L17.3,258.2L17.9,258.0L18.5,257.6L19.1,256.9L19.7,255.6L20.3,253.5L20.9,250.3L21.5,245.7L22.1,239.7L22.4,236.4L22.7,233.4L22.7,233.4L23.0,231.3L23.2,233.4L23.3,233.8L23.5,236.4L23.9,241.0L24.5,247.5L25.1,252.1L25.7,255.0L26.3,256.6L26.9,257.5L27.5,258.0L28.1,258.2L28.6,258.3L35.8,258.4" fill="none" stroke="#b5c98a" stroke-width="0.9" stroke-linejoin="round"/>
<path d="M6.0,258.4L10.8,258.3L11.4,258.3L12.0,258.1L12.6,258.0L13.2,257.6L13.7,257.1L14.3,256.3L14.9,255.1L15.5,253.3L16.1,250.7L16.7,247.2L17.3,242.8L17.9,237.7L18.1,236.4L18.4,233.4L18.5,232.9L18.8,231.3L19.1,233.4L19.1,233.8L19.3,236.4L19.7,241.0L20.3,247.5L20.9,252.1L21.5,255.0L22.1,256.6L22.7,257.5L23.3,258.0L23.9,258.2L24.5,258.3L35.8,258.4" fill="none" stroke="#5566a6" stroke-width="0.85" stroke-linejoin="round"/>
<path d="M6.0,258.4L12.0,258.3L12.6,258.2L13.2,258.1L13.7,257.8L14.3,257.4L14.9,256.6L15.5,255.3L16.1,253.4L16.7,250.5L17.3,246.5L17.9,241.4L18.4,236.4L18.5,235.7L18.8,233.4L19.1,231.3L19.4,233.4L19.6,236.4L19.7,237.4L20.3,244.5L20.9,250.0L21.5,253.7L22.1,255.9L22.7,257.2L23.3,257.8L23.9,258.1L24.5,258.3L25.1,258.4L35.8,258.4" fill="none" stroke="#2a2a2a" stroke-width="0.8" stroke-linejoin="round"/>
<text x="4.1" y="259.5" font-size="3.0" text-anchor="end" fill="#444">0</text>
<path d="M4.5,258.4L5.5,258.4" stroke="#777" stroke-width="0.5"/>
<text x="4.1" y="253.92" font-size="3.0" text-anchor="end" fill="#444">20</text>
<path d="M4.5,252.82L5.5,252.82" stroke="#777" stroke-width="0.5"/>
<text x="4.1" y="248.34" font-size="3.0" text-anchor="end" fill="#444">40</text>
<path d="M4.5,247.24L5.5,247.24" stroke="#777" stroke-width="0.5"/>
<text x="4.1" y="242.76" font-size="3.0" text-anchor="end" fill="#444">60</text>
<path d="M4.5,241.66L5.5,241.66" stroke="#777" stroke-width="0.5"/>
<text x="4.1" y="237.18" font-size="3.0" text-anchor="end" fill="#444">80</text>
<path d="M4.5,236.08L5.5,236.08" stroke="#777" stroke-width="0.5"/>
<text x="4.1" y="231.6" font-size="3.0" text-anchor="end" fill="#444">100</text>
<path d="M4.5,230.5L5.5,230.5" stroke="#777" stroke-width="0.5"/>
<text transform="translate(60,219.85) scale(0.89,1)" font-size="6.83" text-anchor="middle" fill="#222" stroke="#222" stroke-width="0.09" >Effector</text>
<text transform="translate(60,226.05) scale(0.89,1)" font-size="6.83" text-anchor="middle" fill="#222" stroke="#222" stroke-width="0.09" >memory CD4</text>
<rect x="44.6" y="228.5" width="30.8" height="30.5" fill="none" stroke="#9a9a9a" stroke-width="0.9"/>
<path d="M44.6,228.1L44.6,259.4" stroke="#6e6e6e" stroke-width="1.1"/>
<path d="M45.1,258.4L48.7,258.3L49.3,258.3L49.9,258.2L50.5,258.1L51.1,257.9L51.7,257.6L52.3,257.2L52.8,256.6L53.4,255.7L54.0,254.5L54.6,252.9L55.2,250.7L55.8,248.0L56.4,244.7L57.0,241.0L57.3,239.2L57.6,237.3L57.8,236.5L58.2,234.7L58.7,236.5L58.8,236.8L59.3,239.2L59.4,240.0L60.0,243.2L60.6,246.2L61.2,248.8L61.8,251.1L62.4,252.9L63.0,254.3L63.6,255.4L64.2,256.2L64.8,256.9L65.4,257.3L66.0,257.7L66.6,257.9L67.2,258.1L67.7,258.2L68.3,258.2L68.9,258.3L74.9,258.4" fill="none" stroke="#b9806e" stroke-width="0.75" stroke-linejoin="round"/>
<path d="M45.1,258.4L49.9,258.3L50.5,258.2L51.1,258.1L51.7,257.8L52.3,257.4L52.8,256.8L53.4,255.8L54.0,254.3L54.6,252.1L55.2,249.1L55.8,245.1L56.4,240.3L56.9,236.4L57.0,235.2L57.2,233.4L57.6,231.3L58.0,233.4L58.2,234.7L58.4,236.4L58.8,239.4L59.4,243.9L60.0,247.7L60.6,250.8L61.2,253.2L61.8,254.9L62.4,256.1L63.0,256.9L63.6,257.5L64.2,257.8L64.8,258.0L65.4,258.2L66.0,258.3L66.6,258.3L74.9,258.4" fill="none" stroke="#b5c98a" stroke-width="0.9" stroke-linejoin="round"/>
<path d="M45.1,258.4L49.9,258.3L50.5,258.3L51.1,258.2L51.7,258.0L52.3,257.7L52.8,257.3L53.4,256.6L54.0,255.5L54.6,253.9L55.2,251.6L55.8,248.6L56.4,244.7L57.0,240.3L57.2,239.2L57.5,236.5L57.6,236.0L57.9,234.7L58.2,235.7L58.4,236.5L58.8,239.2L58.8,239.2L59.4,242.9L60.0,246.4L60.6,249.4L61.2,251.9L61.8,253.7L62.4,255.2L63.0,256.2L63.6,256.9L64.2,257.4L64.8,257.8L65.4,258.0L66.0,258.1L66.6,258.2L67.2,258.3L74.9,258.4" fill="none" stroke="#5566a6" stroke-width="0.85" stroke-linejoin="round"/>
<path d="M45.1,258.4L49.9,258.3L50.5,258.2L51.1,258.1L51.7,257.8L52.3,257.4L52.8,256.8L53.4,255.8L54.0,254.3L54.6,252.1L55.2,249.1L55.8,245.1L56.4,240.3L56.9,236.4L57.0,235.2L57.2,233.4L57.6,231.3L58.0,233.4L58.2,234.7L58.4,236.4L58.8,239.4L59.4,243.9L60.0,247.7L60.6,250.8L61.2,253.2L61.8,254.9L62.4,256.1L63.0,256.9L63.6,257.5L64.2,257.8L64.8,258.0L65.4,258.2L66.0,258.3L66.6,258.3L74.9,258.4" fill="none" stroke="#2a2a2a" stroke-width="0.8" stroke-linejoin="round"/>
<text transform="translate(101.2,219.85) scale(0.89,1)" font-size="6.83" text-anchor="middle" fill="#222" stroke="#222" stroke-width="0.09" >Central</text>
<text transform="translate(101.2,226.05) scale(0.89,1)" font-size="6.83" text-anchor="middle" fill="#222" stroke="#222" stroke-width="0.09" >memory CD4</text>
<rect x="85.8" y="228.5" width="30.8" height="30.5" fill="none" stroke="#9a9a9a" stroke-width="0.9"/>
<path d="M85.8,228.1L85.8,259.4" stroke="#6e6e6e" stroke-width="1.1"/>
<path d="M86.3,258.4L98.8,258.3L99.4,258.2L100.0,257.9L100.6,257.3L101.2,256.2L101.8,254.3L102.4,251.1L103.0,246.2L103.6,240.0L103.7,239.2L103.9,236.5L104.2,234.7L104.5,236.5L104.8,239.2L105.4,244.7L106.0,249.4L106.6,252.9L107.2,255.2L107.8,256.6L108.4,257.4L108.9,257.9L109.5,258.1L110.1,258.3L110.7,258.3L116.1,258.4" fill="none" stroke="#b9806e" stroke-width="0.75" stroke-linejoin="round"/>
<path d="M86.3,258.4L96.4,258.3L97.0,258.2L97.6,258.0L98.2,257.6L98.8,256.8L99.4,255.2L100.0,252.5L100.6,248.3L101.2,242.3L101.6,238.0L101.8,235.6L101.8,235.2L102.1,233.3L102.4,235.2L102.4,235.6L102.6,238.0L103.0,242.3L103.6,248.3L104.2,252.5L104.8,255.2L105.4,256.8L106.0,257.6L106.6,258.0L107.2,258.2L107.8,258.3L116.1,258.4" fill="none" stroke="#b5c98a" stroke-width="0.9" stroke-linejoin="round"/>
<path d="M86.3,258.4L92.3,258.3L92.9,258.3L93.5,258.1L94.0,257.9L94.6,257.4L95.2,256.5L95.8,255.0L96.4,252.5L97.0,248.9L97.6,243.9L98.2,238.0L98.2,238.0L98.5,235.2L98.8,233.3L99.1,235.2L99.3,238.0L99.4,238.9L100.0,245.5L100.6,250.6L101.2,254.1L101.8,256.1L102.4,257.3L103.0,257.9L103.6,258.2L104.2,258.3L116.1,258.4" fill="none" stroke="#5566a6" stroke-width="0.85" stroke-linejoin="round"/>
<path d="M86.3,258.4L94.6,258.3L95.2,258.2L95.8,258.0L96.4,257.6L97.0,256.8L97.6,255.2L98.2,252.5L98.8,248.3L99.4,242.3L99.8,238.0L100.0,235.6L100.0,235.2L100.3,233.3L100.6,235.2L100.6,235.6L100.8,238.0L101.2,242.3L101.8,248.3L102.4,252.5L103.0,255.2L103.6,256.8L104.2,257.6L104.8,258.0L105.4,258.2L106.0,258.3L116.1,258.4" fill="none" stroke="#2a2a2a" stroke-width="0.8" stroke-linejoin="round"/>
<text transform="translate(139.7,224.55) scale(0.89,1)" font-size="6.83" text-anchor="middle" fill="#222" stroke="#222" stroke-width="0.09" >Naive CD4</text>
<rect x="124.3" y="228.5" width="30.8" height="30.5" fill="none" stroke="#9a9a9a" stroke-width="0.9"/>
<path d="M124.3,228.1L124.3,259.4" stroke="#6e6e6e" stroke-width="1.1"/>
<path d="M124.8,258.4L135.5,258.3L136.1,258.3L136.7,258.1L137.3,257.9L137.9,257.4L138.5,256.5L139.1,255.1L139.7,252.9L140.3,249.6L140.9,245.2L141.3,241.4L141.5,240.2L141.6,239.1L141.9,237.5L142.1,238.2L142.2,239.1L142.5,241.4L142.7,243.6L143.3,248.8L143.9,252.8L144.5,255.3L145.1,256.8L145.7,257.6L146.3,258.0L146.9,258.2L147.4,258.3L154.6,258.4" fill="none" stroke="#b9806e" stroke-width="0.75" stroke-linejoin="round"/>
<path d="M124.8,258.4L136.1,258.3L136.7,258.2L137.3,258.0L137.9,257.6L138.5,256.9L139.1,255.6L139.7,253.5L140.3,250.3L140.9,245.7L141.5,239.7L141.8,236.4L142.1,233.4L142.4,231.3L142.6,233.4L142.7,233.8L142.9,236.4L143.3,241.0L143.9,247.5L144.5,252.1L145.1,255.0L145.7,256.6L146.3,257.5L146.9,258.0L147.4,258.2L148.0,258.3L154.6,258.4" fill="none" stroke="#b5c98a" stroke-width="0.9" stroke-linejoin="round"/>
<path d="M124.8,258.4L129.6,258.3L130.2,258.3L130.8,258.1L131.4,258.0L132.0,257.6L132.5,257.1L133.1,256.3L133.7,255.1L134.3,253.3L134.9,250.7L135.5,247.2L136.1,242.8L136.7,237.7L136.9,236.4L137.2,233.4L137.3,232.9L137.6,231.3L137.9,233.4L137.9,233.8L138.1,236.4L138.5,241.0L139.1,247.5L139.7,252.1L140.3,255.0L140.9,256.6L141.5,257.5L142.1,258.0L142.7,258.2L143.3,258.3L154.6,258.4" fill="none" stroke="#5566a6" stroke-width="0.85" stroke-linejoin="round"/>
<path d="M124.8,258.4L130.8,258.3L131.4,258.2L132.0,258.1L132.5,257.8L133.1,257.4L133.7,256.6L134.3,255.3L134.9,253.4L135.5,250.5L136.1,246.5L136.7,241.4L137.2,236.4L137.3,235.7L137.6,233.4L137.9,231.3L138.2,233.4L138.4,236.4L138.5,237.4L139.1,244.5L139.7,250.0L140.3,253.7L140.9,255.9L141.5,257.2L142.1,257.8L142.7,258.1L143.3,258.3L143.9,258.4L154.6,258.4" fill="none" stroke="#2a2a2a" stroke-width="0.8" stroke-linejoin="round"/>
<text transform="translate(177.8,224.55) scale(0.89,1)" font-size="6.83" text-anchor="middle" fill="#222" stroke="#222" stroke-width="0.09" >Treg</text>
<rect x="162.4" y="228.5" width="30.8" height="30.5" fill="none" stroke="#9a9a9a" stroke-width="0.9"/>
<path d="M162.4,228.1L162.4,259.4" stroke="#6e6e6e" stroke-width="1.1"/>
<path d="M162.9,258.4L164.7,258.3L165.3,258.3L165.9,258.2L166.5,258.1L167.1,257.9L167.7,257.6L168.3,257.1L168.9,256.5L169.5,255.5L170.1,254.3L170.6,252.5L171.2,250.3L171.8,247.4L172.4,243.9L173.0,240.0L173.3,238.0L173.6,236.1L173.8,235.2L174.2,233.3L174.8,234.9L174.9,235.2L175.4,237.4L175.6,238.0L176.0,240.0L176.6,242.7L177.2,245.1L177.8,247.4L178.4,249.4L179.0,251.1L179.6,252.5L180.2,253.7L180.8,254.7L181.4,255.5L182.0,256.2L182.6,256.7L183.2,257.1L183.8,257.4L184.4,257.7L185.0,257.9L185.5,258.0L186.1,258.1L186.7,258.2L187.3,258.2L187.9,258.3L188.5,258.3L192.7,258.4" fill="none" stroke="#b9806e" stroke-width="0.75" stroke-linejoin="round"/>
<path d="M162.9,258.4L165.9,258.3L166.5,258.2L167.1,258.1L167.7,257.8L168.3,257.4L168.9,256.8L169.5,255.8L170.1,254.3L170.6,252.1L171.2,249.1L171.8,245.1L172.4,240.3L172.9,236.4L173.0,235.2L173.3,233.4L173.6,231.3L174.0,233.4L174.2,234.7L174.4,236.4L174.8,239.4L175.4,243.9L176.0,247.7L176.6,250.8L177.2,253.2L177.8,254.9L178.4,256.1L179.0,256.9L179.6,257.5L180.2,257.8L180.8,258.0L181.4,258.2L182.0,258.3L182.6,258.3L192.7,258.4" fill="none" stroke="#b5c98a" stroke-width="0.9" stroke-linejoin="round"/>
<path d="M162.9,258.4L165.9,258.3L166.5,258.2L167.1,258.1L167.7,257.9L168.3,257.5L168.9,256.9L169.5,256.0L170.1,254.6L170.6,252.5L171.2,249.7L171.8,246.1L172.4,241.6L172.9,238.0L173.0,236.8L173.3,235.2L173.6,233.3L174.1,235.2L174.2,236.1L174.5,238.0L174.8,240.0L175.4,243.9L176.0,247.4L176.6,250.3L177.2,252.5L177.8,254.3L178.4,255.5L179.0,256.5L179.6,257.1L180.2,257.6L180.8,257.9L181.4,258.1L182.0,258.2L182.6,258.3L183.2,258.3L192.7,258.4" fill="none" stroke="#5566a6" stroke-width="0.85" stroke-linejoin="round"/>
<path d="M162.9,258.4L165.9,258.3L166.5,258.2L167.1,258.1L167.7,257.8L168.3,257.4L168.9,256.8L169.5,255.8L170.1,254.3L170.6,252.1L171.2,249.1L171.8,245.1L172.4,240.3L172.9,236.4L173.0,235.2L173.3,233.4L173.6,231.3L174.0,233.4L174.2,234.7L174.4,236.4L174.8,239.4L175.4,243.9L176.0,247.7L176.6,250.8L177.2,253.2L177.8,254.9L178.4,256.1L179.0,256.9L179.6,257.5L180.2,257.8L180.8,258.0L181.4,258.2L182.0,258.3L182.6,258.3L192.7,258.4" fill="none" stroke="#2a2a2a" stroke-width="0.8" stroke-linejoin="round"/>
<text transform="translate(20.9,268.25) scale(0.89,1)" font-size="6.83" text-anchor="middle" fill="#222" stroke="#222" stroke-width="0.09" >CD8</text>
<rect x="5.5" y="273.2" width="30.8" height="30.5" fill="none" stroke="#9a9a9a" stroke-width="0.9"/>
<path d="M5.5,272.8L5.5,304.1" stroke="#6e6e6e" stroke-width="1.1"/>
<path d="M6.0,303.1L16.7,303.0L17.3,303.0L17.9,302.8L18.5,302.6L19.1,302.1L19.7,301.3L20.3,299.9L20.9,297.6L21.5,294.1L22.1,289.4L22.7,283.9L22.7,283.9L23.0,281.2L23.3,279.4L23.5,281.2L23.8,283.9L23.9,284.7L24.5,290.9L25.1,295.8L25.7,299.0L26.3,300.9L26.9,302.0L27.5,302.6L28.1,302.9L28.6,303.0L35.8,303.1" fill="none" stroke="#b9806e" stroke-width="0.75" stroke-linejoin="round"/>
<path d="M6.0,303.1L17.3,303.0L17.9,302.9L18.5,302.7L19.1,302.3L19.7,301.6L20.3,300.3L20.9,298.2L21.5,295.0L22.1,290.4L22.7,284.4L23.0,281.1L23.3,278.1L23.6,276.0L23.8,278.1L23.9,278.5L24.1,281.1L24.5,285.7L25.1,292.2L25.7,296.8L26.3,299.7L26.9,301.3L27.5,302.2L28.1,302.7L28.6,302.9L29.2,303.0L35.8,303.1" fill="none" stroke="#b5c98a" stroke-width="0.9" stroke-linejoin="round"/>
<path d="M6.0,303.1L10.2,303.0L10.8,302.9L11.4,302.8L12.0,302.6L12.6,302.3L13.2,301.8L13.7,301.0L14.3,299.9L14.9,298.3L15.5,296.2L16.1,293.3L16.7,289.6L17.3,285.2L17.8,281.1L17.9,280.6L18.3,278.1L18.5,276.6L18.7,276.0L18.9,278.1L19.1,280.2L19.2,281.1L19.7,287.5L20.3,293.5L20.9,297.6L21.5,300.2L22.1,301.6L22.7,302.4L23.3,302.8L23.9,303.0L24.5,303.0L35.8,303.1" fill="none" stroke="#5566a6" stroke-width="0.85" stroke-linejoin="round"/>
<path d="M6.0,303.1L10.8,303.0L11.4,303.0L12.0,302.9L12.6,302.7L13.2,302.4L13.7,302.0L14.3,301.3L14.9,300.1L15.5,298.5L16.1,296.1L16.7,292.9L17.3,288.7L17.9,283.7L18.2,281.1L18.5,278.7L18.6,278.1L19.0,276.0L19.1,277.0L19.2,278.1L19.5,281.1L19.7,283.9L20.3,290.7L20.9,295.8L21.5,299.1L22.1,301.0L22.7,302.1L23.3,302.6L23.9,302.9L24.5,303.0L35.8,303.1" fill="none" stroke="#2a2a2a" stroke-width="0.8" stroke-linejoin="round"/>
<text x="4.1" y="304.2" font-size="3.0" text-anchor="end" fill="#444">0</text>
<path d="M4.5,303.1L5.5,303.1" stroke="#777" stroke-width="0.5"/>
<text x="4.1" y="298.62" font-size="3.0" text-anchor="end" fill="#444">20</text>
<path d="M4.5,297.52L5.5,297.52" stroke="#777" stroke-width="0.5"/>
<text x="4.1" y="293.04" font-size="3.0" text-anchor="end" fill="#444">40</text>
<path d="M4.5,291.94L5.5,291.94" stroke="#777" stroke-width="0.5"/>
<text x="4.1" y="287.46" font-size="3.0" text-anchor="end" fill="#444">60</text>
<path d="M4.5,286.36L5.5,286.36" stroke="#777" stroke-width="0.5"/>
<text x="4.1" y="281.88" font-size="3.0" text-anchor="end" fill="#444">80</text>
<path d="M4.5,280.78L5.5,280.78" stroke="#777" stroke-width="0.5"/>
<text x="4.1" y="276.3" font-size="3.0" text-anchor="end" fill="#444">100</text>
<path d="M4.5,275.2L5.5,275.2" stroke="#777" stroke-width="0.5"/>
<text transform="translate(60,265.05) scale(0.89,1)" font-size="6.83" text-anchor="middle" fill="#222" stroke="#222" stroke-width="0.09" >Effector</text>
<text transform="translate(60,271.25) scale(0.89,1)" font-size="6.83" text-anchor="middle" fill="#222" stroke="#222" stroke-width="0.09" >memory CD8</text>
<rect x="44.6" y="273.2" width="30.8" height="30.5" fill="none" stroke="#9a9a9a" stroke-width="0.9"/>
<path d="M44.6,272.8L44.6,304.1" stroke="#6e6e6e" stroke-width="1.1"/>
<path d="M45.1,303.1L50.5,303.0L51.1,302.9L51.7,302.8L52.3,302.7L52.8,302.5L53.4,302.1L54.0,301.6L54.6,300.9L55.2,299.9L55.8,298.4L56.4,296.6L57.0,294.1L57.6,291.1L58.2,287.6L58.8,283.9L58.8,283.9L59.3,281.2L59.4,280.4L59.7,279.4L60.0,280.2L60.2,281.2L60.6,283.1L60.7,283.9L61.2,286.3L61.8,289.4L62.4,292.3L63.0,294.7L63.6,296.7L64.2,298.3L64.8,299.6L65.4,300.6L66.0,301.3L66.6,301.8L67.2,302.2L67.7,302.5L68.3,302.7L68.9,302.8L69.5,302.9L70.1,303.0L70.7,303.0L74.9,303.1" fill="none" stroke="#b9806e" stroke-width="0.75" stroke-linejoin="round"/>
<path d="M45.1,303.1L51.7,303.0L52.3,302.9L52.8,302.8L53.4,302.5L54.0,302.1L54.6,301.5L55.2,300.5L55.8,299.0L56.4,296.8L57.0,293.8L57.6,289.8L58.2,285.0L58.7,281.1L58.8,279.9L59.0,278.1L59.4,276.0L59.8,278.1L60.0,279.4L60.2,281.1L60.6,284.1L61.2,288.6L61.8,292.4L62.4,295.5L63.0,297.9L63.6,299.6L64.2,300.8L64.8,301.6L65.4,302.2L66.0,302.5L66.6,302.7L67.2,302.9L67.7,303.0L68.3,303.0L74.9,303.1" fill="none" stroke="#b5c98a" stroke-width="0.9" stroke-linejoin="round"/>
<path d="M45.1,303.1L51.1,303.0L51.7,303.0L52.3,302.9L52.8,302.7L53.4,302.4L54.0,302.0L54.6,301.3L55.2,300.2L55.8,298.6L56.4,296.3L57.0,293.3L57.6,289.4L58.2,285.0L58.4,283.9L58.7,281.2L58.8,280.7L59.1,279.4L59.4,280.4L59.6,281.2L60.0,283.9L60.6,287.6L61.2,291.1L61.8,294.1L62.4,296.6L63.0,298.4L63.6,299.9L64.2,300.9L64.8,301.6L65.4,302.1L66.0,302.5L66.6,302.7L67.2,302.8L67.7,302.9L68.3,303.0L74.9,303.1" fill="none" stroke="#5566a6" stroke-width="0.85" stroke-linejoin="round"/>
<path d="M45.1,303.1L51.7,303.0L52.3,302.9L52.8,302.8L53.4,302.5L54.0,302.1L54.6,301.5L55.2,300.5L55.8,299.0L56.4,296.8L57.0,293.8L57.6,289.8L58.2,285.0L58.7,281.1L58.8,279.9L59.0,278.1L59.4,276.0L59.8,278.1L60.0,279.4L60.2,281.1L60.6,284.1L61.2,288.6L61.8,292.4L62.4,295.5L63.0,297.9L63.6,299.6L64.2,300.8L64.8,301.6L65.4,302.2L66.0,302.5L66.6,302.7L67.2,302.9L67.7,303.0L68.3,303.0L74.9,303.1" fill="none" stroke="#2a2a2a" stroke-width="0.8" stroke-linejoin="round"/>
<text transform="translate(101.2,265.05) scale(0.89,1)" font-size="6.83" text-anchor="middle" fill="#222" stroke="#222" stroke-width="0.09" >Central</text>
<text transform="translate(101.2,271.25) scale(0.89,1)" font-size="6.83" text-anchor="middle" fill="#222" stroke="#222" stroke-width="0.09" >memory CD8</text>
<rect x="85.8" y="273.2" width="30.8" height="30.5" fill="none" stroke="#9a9a9a" stroke-width="0.9"/>
<path d="M85.8,272.8L85.8,304.1" stroke="#6e6e6e" stroke-width="1.1"/>
<path d="M86.3,303.1L98.2,303.0L98.8,302.9L99.4,302.6L100.0,302.2L100.6,301.5L101.2,300.2L101.8,298.2L102.4,295.2L103.0,291.0L103.6,286.1L103.9,283.8L104.2,282.2L104.5,283.8L104.8,286.1L105.4,291.0L106.0,295.2L106.6,298.2L107.2,300.2L107.8,301.5L108.4,302.2L108.9,302.6L109.5,302.9L110.1,303.0L116.1,303.1" fill="none" stroke="#b9806e" stroke-width="0.75" stroke-linejoin="round"/>
<path d="M86.3,303.1L98.2,303.0L98.8,302.9L99.4,302.7L100.0,302.3L100.6,301.6L101.2,300.3L101.8,298.2L102.4,295.0L103.0,290.4L103.6,284.4L103.9,281.1L104.2,278.1L104.5,276.0L104.7,278.1L104.8,278.5L105.0,281.1L105.4,285.7L106.0,292.2L106.6,296.8L107.2,299.7L107.8,301.3L108.4,302.2L108.9,302.7L109.5,302.9L110.1,303.0L116.1,303.1" fill="none" stroke="#b5c98a" stroke-width="0.9" stroke-linejoin="round"/>
<path d="M86.3,303.1L91.1,303.0L91.7,302.9L92.3,302.8L92.9,302.5L93.5,302.1L94.0,301.5L94.6,300.5L95.2,299.0L95.8,296.8L96.4,293.8L97.0,289.8L97.6,285.0L98.1,281.1L98.2,279.9L98.4,278.1L98.8,276.0L99.1,278.1L99.3,281.1L99.4,282.1L100.0,289.2L100.6,294.7L101.2,298.4L101.8,300.6L102.4,301.9L103.0,302.5L103.6,302.8L104.2,303.0L104.8,303.1L116.1,303.1" fill="none" stroke="#5566a6" stroke-width="0.85" stroke-linejoin="round"/>
<path d="M86.3,303.1L91.7,303.0L92.3,303.0L92.9,302.9L93.5,302.7L94.0,302.3L94.6,301.7L95.2,300.7L95.8,299.2L96.4,296.8L97.0,293.4L97.6,288.8L98.2,283.3L98.4,281.1L98.8,278.1L98.8,277.8L99.1,276.0L99.4,278.1L99.4,278.5L99.6,281.1L100.0,285.7L100.6,292.2L101.2,296.8L101.8,299.7L102.4,301.3L103.0,302.2L103.6,302.7L104.2,302.9L104.8,303.0L116.1,303.1" fill="none" stroke="#2a2a2a" stroke-width="0.8" stroke-linejoin="round"/>
<text transform="translate(139.7,268.25) scale(0.89,1)" font-size="6.83" text-anchor="middle" fill="#222" stroke="#222" stroke-width="0.09" >Naive CD8</text>
<rect x="124.3" y="273.2" width="30.8" height="30.5" fill="none" stroke="#9a9a9a" stroke-width="0.9"/>
<path d="M124.3,272.8L124.3,304.1" stroke="#6e6e6e" stroke-width="1.1"/>
<path d="M124.8,303.1L136.1,303.0L136.7,302.9L137.3,302.7L137.9,302.4L138.5,301.7L139.1,300.6L139.7,298.8L140.3,296.0L140.9,292.2L141.5,287.4L141.6,286.1L141.9,283.8L142.1,282.8L142.2,282.2L142.5,283.8L142.7,284.9L142.8,286.1L143.3,289.9L143.9,294.3L144.5,297.6L145.1,299.8L145.7,301.2L146.3,302.1L146.9,302.6L147.4,302.8L148.0,303.0L148.6,303.0L154.6,303.1" fill="none" stroke="#b9806e" stroke-width="0.75" stroke-linejoin="round"/>
<path d="M124.8,303.1L136.1,303.0L136.7,303.0L137.3,302.8L137.9,302.5L138.5,302.0L139.1,301.0L139.7,299.4L140.3,296.8L140.9,292.9L141.5,287.5L142.1,281.1L142.4,278.1L142.7,276.0L142.9,278.1L143.2,281.1L143.3,282.1L143.9,289.2L144.5,294.7L145.1,298.4L145.7,300.6L146.3,301.9L146.9,302.5L147.4,302.8L148.0,303.0L148.6,303.1L154.6,303.1" fill="none" stroke="#b5c98a" stroke-width="0.9" stroke-linejoin="round"/>
<path d="M124.8,303.1L129.6,303.0L130.2,303.0L130.8,302.8L131.4,302.7L132.0,302.3L132.5,301.8L133.1,301.0L133.7,299.8L134.3,298.0L134.9,295.4L135.5,291.9L136.1,287.5L136.7,282.4L136.9,281.1L137.2,278.1L137.3,277.6L137.6,276.0L137.9,278.1L137.9,278.5L138.1,281.1L138.5,285.7L139.1,292.2L139.7,296.8L140.3,299.7L140.9,301.3L141.5,302.2L142.1,302.7L142.7,302.9L143.3,303.0L154.6,303.1" fill="none" stroke="#5566a6" stroke-width="0.85" stroke-linejoin="round"/>
<path d="M124.8,303.1L130.8,303.0L131.4,302.9L132.0,302.8L132.5,302.5L133.1,302.1L133.7,301.3L134.3,300.0L134.9,298.1L135.5,295.2L136.1,291.2L136.7,286.1L137.2,281.1L137.3,280.4L137.6,278.1L137.9,276.0L138.2,278.1L138.4,281.1L138.5,282.1L139.1,289.2L139.7,294.7L140.3,298.4L140.9,300.6L141.5,301.9L142.1,302.5L142.7,302.8L143.3,303.0L143.9,303.1L154.6,303.1" fill="none" stroke="#2a2a2a" stroke-width="0.8" stroke-linejoin="round"/>
<text transform="translate(20.9,313.25) scale(0.89,1)" font-size="6.83" text-anchor="middle" fill="#222" stroke="#222" stroke-width="0.09" >CD19</text>
<rect x="5.5" y="318.6" width="30.8" height="30.5" fill="none" stroke="#9a9a9a" stroke-width="0.9"/>
<path d="M5.5,318.2L5.5,349.5" stroke="#6e6e6e" stroke-width="1.1"/>
<path d="M6.0,348.5L9.6,348.4L10.2,348.4L10.8,348.3L11.4,348.1L12.0,347.8L12.6,347.3L13.2,346.6L13.7,345.5L14.3,343.9L14.9,341.8L15.5,338.9L16.1,335.5L16.6,332.7L16.7,331.7L17.0,330.5L17.3,329.0L17.7,330.5L17.9,331.7L18.1,332.7L18.5,335.5L19.1,338.9L19.7,341.8L20.3,343.9L20.9,345.5L21.5,346.6L22.1,347.3L22.7,347.8L23.3,348.1L23.9,348.3L24.5,348.4L25.1,348.4L35.8,348.5" fill="none" stroke="#b9806e" stroke-width="0.75" stroke-linejoin="round"/>
<path d="M6.0,348.5L12.0,348.4L12.6,348.3L13.2,348.1L13.7,347.6L14.3,346.7L14.9,345.1L15.5,342.2L16.1,337.6L16.7,331.1L17.1,326.5L17.3,323.9L17.4,323.5L17.6,321.4L17.9,323.5L18.2,326.5L18.5,329.8L19.1,335.8L19.7,340.4L20.3,343.6L20.9,345.7L21.5,347.0L22.1,347.7L22.7,348.1L23.3,348.3L23.9,348.4L35.8,348.5" fill="none" stroke="#b5c98a" stroke-width="0.9" stroke-linejoin="round"/>
<path d="M6.0,348.5L12.0,348.4L12.6,348.3L13.2,348.0L13.7,347.4L14.3,346.3L14.9,344.4L15.5,341.2L16.1,336.3L16.7,330.1L16.8,329.3L17.1,326.6L17.3,324.8L17.6,326.6L17.9,329.3L18.5,334.8L19.1,339.5L19.7,343.0L20.3,345.3L20.9,346.7L21.5,347.5L22.1,348.0L22.7,348.2L23.3,348.4L23.9,348.4L35.8,348.5" fill="none" stroke="#5566a6" stroke-width="0.85" stroke-linejoin="round"/>
<path d="M6.0,348.5L12.0,348.4L12.6,348.3L13.2,348.1L13.7,347.6L14.3,346.7L14.9,345.1L15.5,342.2L16.1,337.6L16.7,331.1L17.1,326.5L17.3,323.9L17.4,323.5L17.6,321.4L17.9,323.5L18.2,326.5L18.5,329.8L19.1,335.8L19.7,340.4L20.3,343.6L20.9,345.7L21.5,347.0L22.1,347.7L22.7,348.1L23.3,348.3L23.9,348.4L35.8,348.5" fill="none" stroke="#2a2a2a" stroke-width="0.8" stroke-linejoin="round"/>
<text x="4.1" y="349.6" font-size="3.0" text-anchor="end" fill="#444">0</text>
<path d="M4.5,348.5L5.5,348.5" stroke="#777" stroke-width="0.5"/>
<text x="4.1" y="344.02" font-size="3.0" text-anchor="end" fill="#444">20</text>
<path d="M4.5,342.92L5.5,342.92" stroke="#777" stroke-width="0.5"/>
<text x="4.1" y="338.44" font-size="3.0" text-anchor="end" fill="#444">40</text>
<path d="M4.5,337.34L5.5,337.34" stroke="#777" stroke-width="0.5"/>
<text x="4.1" y="332.86" font-size="3.0" text-anchor="end" fill="#444">60</text>
<path d="M4.5,331.76L5.5,331.76" stroke="#777" stroke-width="0.5"/>
<text x="4.1" y="327.28" font-size="3.0" text-anchor="end" fill="#444">80</text>
<path d="M4.5,326.18L5.5,326.18" stroke="#777" stroke-width="0.5"/>
<text x="4.1" y="321.7" font-size="3.0" text-anchor="end" fill="#444">100</text>
<path d="M4.5,320.6L5.5,320.6" stroke="#777" stroke-width="0.5"/>
<text x="7.9" y="352.8" font-size="3.1" text-anchor="middle" fill="#444">10<tspan font-size="2.1" dy="-1.1">0</tspan></text>
<text x="13.34" y="352.8" font-size="3.1" text-anchor="middle" fill="#444">10<tspan font-size="2.1" dy="-1.1">1</tspan></text>
<text x="18.78" y="352.8" font-size="3.1" text-anchor="middle" fill="#444">10<tspan font-size="2.1" dy="-1.1">2</tspan></text>
<text x="24.22" y="352.8" font-size="3.1" text-anchor="middle" fill="#444">10<tspan font-size="2.1" dy="-1.1">3</tspan></text>
<text x="29.66" y="352.8" font-size="3.1" text-anchor="middle" fill="#444">10<tspan font-size="2.1" dy="-1.1">4</tspan></text>
<text x="35.1" y="352.8" font-size="3.1" text-anchor="middle" fill="#444">10<tspan font-size="2.1" dy="-1.1">5</tspan></text>
<text transform="translate(60,313.25) scale(0.89,1)" font-size="6.83" text-anchor="middle" fill="#222" stroke="#222" stroke-width="0.09" >CD11c</text>
<rect x="44.6" y="318.6" width="30.8" height="30.5" fill="none" stroke="#9a9a9a" stroke-width="0.9"/>
<path d="M44.6,318.2L44.6,349.5" stroke="#6e6e6e" stroke-width="1.1"/>
<path d="M45.1,320.6L45.2,322.6L45.4,325.7L45.7,332.3L46.3,341.8L46.9,346.0L47.5,347.4L48.1,347.6L48.7,347.4L49.3,347.0L49.9,346.3L50.5,345.5L51.1,344.4L51.7,343.0L52.3,341.2L52.8,338.9L53.4,336.3L54.0,333.3L54.6,330.1L54.8,329.3L55.2,326.9L55.3,326.6L55.8,324.8L56.4,326.3L56.5,326.6L57.0,328.6L57.2,329.3L57.6,331.1L58.2,333.6L58.8,336.0L59.4,338.1L60.0,340.0L60.6,341.6L61.2,343.0L61.8,344.1L62.4,345.0L63.0,345.8L63.6,346.4L64.2,346.9L64.8,347.3L65.4,347.6L66.0,347.8L66.6,348.0L67.2,348.1L67.7,348.2L68.3,348.3L68.9,348.4L69.5,348.4L74.9,348.5" fill="none" stroke="#b9806e" stroke-width="0.75" stroke-linejoin="round"/>
<path d="M45.1,348.5L46.3,348.4L46.9,348.4L47.5,348.3L48.1,348.1L48.7,347.9L49.3,347.6L49.9,347.1L50.5,346.4L51.1,345.4L51.7,344.0L52.3,342.2L52.8,339.7L53.4,336.6L54.0,332.9L54.6,328.7L54.9,326.5L55.2,324.5L55.4,323.5L55.8,321.4L56.4,323.5L57.0,326.5L57.0,326.5L57.6,329.8L58.2,332.9L58.8,335.8L59.4,338.3L60.0,340.4L60.6,342.2L61.2,343.6L61.8,344.8L62.4,345.7L63.0,346.4L63.6,347.0L64.2,347.4L64.8,347.7L65.4,347.9L66.0,348.1L66.6,348.2L67.2,348.3L67.7,348.4L68.3,348.4L74.9,348.5" fill="none" stroke="#b5c98a" stroke-width="0.9" stroke-linejoin="round"/>
<path d="M45.1,348.5L46.3,348.4L46.9,348.3L47.5,348.2L48.1,348.1L48.7,347.8L49.3,347.5L49.9,346.9L50.5,346.1L51.1,345.1L51.7,343.6L52.3,341.6L52.8,339.0L53.4,335.8L54.0,332.1L54.6,328.1L54.6,328.1L55.1,325.3L55.2,324.5L55.5,323.4L55.8,324.1L56.1,325.3L56.4,326.7L56.7,328.1L57.0,329.6L57.6,332.6L58.2,335.4L58.8,337.9L59.4,340.0L60.0,341.9L60.6,343.3L61.2,344.6L61.8,345.5L62.4,346.3L63.0,346.8L63.6,347.3L64.2,347.6L64.8,347.9L65.4,348.0L66.0,348.2L66.6,348.3L67.2,348.3L67.7,348.4L74.9,348.5" fill="none" stroke="#5566a6" stroke-width="0.85" stroke-linejoin="round"/>
<path d="M45.1,348.5L46.3,348.4L46.9,348.3L47.5,348.2L48.1,348.0L48.7,347.8L49.3,347.4L49.9,346.8L50.5,346.0L51.1,344.8L51.7,343.2L52.3,341.0L52.8,338.3L53.4,334.8L54.0,330.8L54.6,326.5L54.6,326.5L55.1,323.5L55.2,322.6L55.5,321.4L55.8,322.2L56.1,323.5L56.4,325.0L56.7,326.5L57.0,328.2L57.6,331.4L58.2,334.4L58.8,337.1L59.4,339.4L60.0,341.3L60.6,342.9L61.2,344.2L61.8,345.3L62.4,346.1L63.0,346.7L63.6,347.2L64.2,347.5L64.8,347.8L65.4,348.0L66.0,348.2L66.6,348.3L67.2,348.3L67.7,348.4L68.3,348.4L74.9,348.5" fill="none" stroke="#2a2a2a" stroke-width="0.8" stroke-linejoin="round"/>
<text x="47" y="352.8" font-size="3.1" text-anchor="middle" fill="#444">10<tspan font-size="2.1" dy="-1.1">0</tspan></text>
<text x="52.44" y="352.8" font-size="3.1" text-anchor="middle" fill="#444">10<tspan font-size="2.1" dy="-1.1">1</tspan></text>
<text x="57.88" y="352.8" font-size="3.1" text-anchor="middle" fill="#444">10<tspan font-size="2.1" dy="-1.1">2</tspan></text>
<text x="63.32" y="352.8" font-size="3.1" text-anchor="middle" fill="#444">10<tspan font-size="2.1" dy="-1.1">3</tspan></text>
<text x="68.76" y="352.8" font-size="3.1" text-anchor="middle" fill="#444">10<tspan font-size="2.1" dy="-1.1">4</tspan></text>
<text x="74.2" y="352.8" font-size="3.1" text-anchor="middle" fill="#444">10<tspan font-size="2.1" dy="-1.1">5</tspan></text>
<text transform="translate(101.2,313.25) scale(0.89,1)" font-size="6.83" text-anchor="middle" fill="#222" stroke="#222" stroke-width="0.09" >CD11b</text>
<rect x="85.8" y="318.6" width="30.8" height="30.5" fill="none" stroke="#9a9a9a" stroke-width="0.9"/>
<path d="M85.8,318.2L85.8,349.5" stroke="#6e6e6e" stroke-width="1.1"/>
<path d="M86.3,348.5L89.9,348.4L90.5,348.4L91.1,348.2L91.7,348.0L92.3,347.5L92.9,346.7L93.5,345.3L94.0,343.0L94.6,339.5L95.2,334.8L95.8,329.3L96.1,326.6L96.4,324.8L96.9,326.6L97.0,327.4L97.3,329.3L97.6,331.1L98.2,334.8L98.8,338.1L99.4,340.8L100.0,343.0L100.6,344.6L101.2,345.8L101.8,346.7L102.4,347.3L103.0,347.7L103.6,348.0L104.2,348.2L104.8,348.3L105.4,348.4L106.0,348.4L116.1,348.5" fill="none" stroke="#b9806e" stroke-width="0.75" stroke-linejoin="round"/>
<path d="M86.3,348.5L90.5,348.4L91.1,348.3L91.7,348.1L92.3,347.6L92.9,346.7L93.5,345.1L94.0,342.2L94.6,337.6L95.2,331.1L95.6,326.5L95.8,323.9L95.9,323.5L96.1,321.4L96.4,323.0L96.5,323.5L96.9,326.5L97.0,327.8L97.6,332.9L98.2,337.3L98.8,340.8L99.4,343.4L100.0,345.2L100.6,346.4L101.2,347.2L101.8,347.7L102.4,348.1L103.0,348.2L103.6,348.4L104.2,348.4L116.1,348.5" fill="none" stroke="#b5c98a" stroke-width="0.9" stroke-linejoin="round"/>
<path d="M86.3,348.5L90.5,348.4L91.1,348.3L91.7,348.1L92.3,347.6L92.9,346.7L93.5,345.1L94.0,342.2L94.6,337.6L95.2,331.1L95.6,326.5L95.8,323.9L95.9,323.5L96.1,321.4L96.4,323.0L96.5,323.5L96.9,326.5L97.0,327.8L97.6,332.9L98.2,337.3L98.8,340.8L99.4,343.4L100.0,345.2L100.6,346.4L101.2,347.2L101.8,347.7L102.4,348.1L103.0,348.2L103.6,348.4L104.2,348.4L116.1,348.5" fill="none" stroke="#5566a6" stroke-width="0.85" stroke-linejoin="round"/>
<path d="M86.3,348.5L90.5,348.4L91.1,348.3L91.7,348.1L92.3,347.6L92.9,346.7L93.5,345.1L94.0,342.2L94.6,337.6L95.2,331.1L95.6,326.5L95.8,323.9L95.9,323.5L96.1,321.4L96.4,323.0L96.5,323.5L96.9,326.5L97.0,327.8L97.6,332.9L98.2,337.3L98.8,340.8L99.4,343.4L100.0,345.2L100.6,346.4L101.2,347.2L101.8,347.7L102.4,348.1L103.0,348.2L103.6,348.4L104.2,348.4L116.1,348.5" fill="none" stroke="#2a2a2a" stroke-width="0.8" stroke-linejoin="round"/>
<text x="88.2" y="352.8" font-size="3.1" text-anchor="middle" fill="#444">10<tspan font-size="2.1" dy="-1.1">0</tspan></text>
<text x="93.64" y="352.8" font-size="3.1" text-anchor="middle" fill="#444">10<tspan font-size="2.1" dy="-1.1">1</tspan></text>
<text x="99.08" y="352.8" font-size="3.1" text-anchor="middle" fill="#444">10<tspan font-size="2.1" dy="-1.1">2</tspan></text>
<text x="104.52" y="352.8" font-size="3.1" text-anchor="middle" fill="#444">10<tspan font-size="2.1" dy="-1.1">3</tspan></text>
<text x="109.96" y="352.8" font-size="3.1" text-anchor="middle" fill="#444">10<tspan font-size="2.1" dy="-1.1">4</tspan></text>
<text x="115.4" y="352.8" font-size="3.1" text-anchor="middle" fill="#444">10<tspan font-size="2.1" dy="-1.1">5</tspan></text>
<text transform="translate(139.7,313.25) scale(0.89,1)" font-size="6.83" text-anchor="middle" fill="#222" stroke="#222" stroke-width="0.09" >NK1.1</text>
<rect x="124.3" y="318.6" width="30.8" height="30.5" fill="none" stroke="#9a9a9a" stroke-width="0.9"/>
<path d="M124.3,318.2L124.3,349.5" stroke="#6e6e6e" stroke-width="1.1"/>
<path d="M124.8,348.5L126.6,348.4L127.2,348.3L127.8,348.2L128.4,348.0L129.0,347.6L129.6,347.1L130.2,346.2L130.8,344.9L131.4,343.0L132.0,340.3L132.5,336.9L133.1,332.7L133.6,329.3L133.7,328.1L134.0,326.6L134.3,324.8L134.8,326.6L134.9,327.4L135.2,329.3L135.5,331.1L136.1,334.8L136.7,338.1L137.3,340.8L137.9,343.0L138.5,344.6L139.1,345.8L139.7,346.7L140.3,347.3L140.9,347.7L141.5,348.0L142.1,348.2L142.7,348.3L143.3,348.4L143.9,348.4L154.6,348.5" fill="none" stroke="#b9806e" stroke-width="0.75" stroke-linejoin="round"/>
<path d="M124.8,348.5L127.8,348.4L128.4,348.3L129.0,348.1L129.6,347.7L130.2,347.0L130.8,345.7L131.4,343.6L132.0,340.4L132.5,335.8L133.1,329.8L133.4,326.5L133.7,323.5L134.0,321.4L134.3,323.0L134.4,323.5L134.8,326.5L134.9,327.8L135.5,332.9L136.1,337.3L136.7,340.8L137.3,343.4L137.9,345.2L138.5,346.4L139.1,347.2L139.7,347.7L140.3,348.1L140.9,348.2L141.5,348.4L142.1,348.4L154.6,348.5" fill="none" stroke="#b5c98a" stroke-width="0.9" stroke-linejoin="round"/>
<path d="M124.8,348.5L127.8,348.4L128.4,348.3L129.0,348.1L129.6,347.7L130.2,347.1L130.8,345.9L131.4,344.0L132.0,341.0L132.5,336.7L133.1,331.1L133.4,328.1L133.7,325.3L134.0,323.4L134.3,324.8L134.4,325.3L134.8,328.1L134.9,329.3L135.5,334.0L136.1,338.1L136.7,341.3L137.3,343.7L137.9,345.4L138.5,346.6L139.1,347.3L139.7,347.8L140.3,348.1L140.9,348.3L141.5,348.4L142.1,348.4L154.6,348.5" fill="none" stroke="#5566a6" stroke-width="0.85" stroke-linejoin="round"/>
<path d="M124.8,348.5L127.8,348.4L128.4,348.3L129.0,348.1L129.6,347.7L130.2,347.0L130.8,345.7L131.4,343.6L132.0,340.4L132.5,335.8L133.1,329.8L133.4,326.5L133.7,323.5L134.0,321.4L134.3,323.0L134.4,323.5L134.8,326.5L134.9,327.8L135.5,332.9L136.1,337.3L136.7,340.8L137.3,343.4L137.9,345.2L138.5,346.4L139.1,347.2L139.7,347.7L140.3,348.1L140.9,348.2L141.5,348.4L142.1,348.4L154.6,348.5" fill="none" stroke="#2a2a2a" stroke-width="0.8" stroke-linejoin="round"/>
<text x="126.7" y="352.8" font-size="3.1" text-anchor="middle" fill="#444">10<tspan font-size="2.1" dy="-1.1">0</tspan></text>
<text x="132.14" y="352.8" font-size="3.1" text-anchor="middle" fill="#444">10<tspan font-size="2.1" dy="-1.1">1</tspan></text>
<text x="137.58" y="352.8" font-size="3.1" text-anchor="middle" fill="#444">10<tspan font-size="2.1" dy="-1.1">2</tspan></text>
<text x="143.02" y="352.8" font-size="3.1" text-anchor="middle" fill="#444">10<tspan font-size="2.1" dy="-1.1">3</tspan></text>
<text x="148.46" y="352.8" font-size="3.1" text-anchor="middle" fill="#444">10<tspan font-size="2.1" dy="-1.1">4</tspan></text>
<text x="153.9" y="352.8" font-size="3.1" text-anchor="middle" fill="#444">10<tspan font-size="2.1" dy="-1.1">5</tspan></text>
<rect x="160.2" y="310.50" width="3.6" height="3.4" fill="#111"/>
<text transform="translate(166.8,314.5) scale(0.89,1)" font-size="5.82" fill="#222" stroke="#222" stroke-width="0.09" >Isotype</text>
<rect x="160.2" y="321.60" width="3.6" height="3.4" fill="#5566a6"/>
<text transform="translate(166.8,325.6) scale(0.89,1)" font-size="5.82" fill="#222" stroke="#222" stroke-width="0.09" >24h activation</text>
<rect x="160.2" y="333.30" width="3.6" height="3.4" fill="#b01c1c"/>
<text transform="translate(166.8,337.3) scale(0.89,1)" font-size="5.82" fill="#222" stroke="#222" stroke-width="0.09" >24h w/o activation</text>
<rect x="160.2" y="344.10" width="3.6" height="3.4" fill="#5fa85f"/>
<text transform="translate(166.8,348.1) scale(0.89,1)" font-size="5.82" fill="#222" stroke="#222" stroke-width="0.09" >Fresh isolated</text>
<text transform="translate(2.6,368.5) scale(0.89,1)" font-size="7.17" fill="#222" stroke="#222" stroke-width="0.09" >Pik3ip1</text>
<path d="M25.6,366.8L147.5,366.8" stroke="#333" stroke-width="0.9"/>
<path d="M146,364.8 L151,366.8 L146,368.8 Z" fill="#333"/>
<text x="200.3" y="217.2" font-size="13.6" font-weight="bold" fill="#000" stroke="#000" stroke-width="0.1" >C</text>
<text transform="translate(236.45,225.65) scale(0.89,1)" font-size="6.83" text-anchor="middle" fill="#222" stroke="#222" stroke-width="0.09" >CD4</text>
<rect x="221.2" y="228.7" width="30.5" height="30.2" fill="none" stroke="#9a9a9a" stroke-width="0.9"/>
<path d="M221.2,228.3L221.2,259.3" stroke="#6e6e6e" stroke-width="1.1"/>
<path d="M221.7,257.8L222.3,257.6L222.9,257.3L223.5,256.9L224.1,256.4L224.6,255.8L225.2,254.9L225.8,253.9L226.4,252.6L227.0,251.0L227.6,249.0L228.2,246.7L228.8,244.1L229.4,241.2L230.0,238.0L230.2,236.6L230.5,234.9L230.8,233.6L231.1,232.3L231.4,231.5L231.7,233.0L231.8,233.6L232.2,236.6L232.3,237.6L232.9,242.4L233.5,246.7L234.1,250.1L234.7,252.7L235.3,254.6L235.9,255.9L236.4,256.8L237.0,257.4L237.6,257.8L238.2,258.0L238.8,258.1L239.4,258.2L251.2,258.3" fill="none" stroke="#e0404c" stroke-width="1.1" stroke-linejoin="round"/>
<path d="M221.7,258.0L222.3,257.9L222.9,257.7L223.5,257.4L224.1,257.0L224.6,256.5L225.2,255.8L225.8,254.9L226.4,253.7L227.0,252.2L227.6,250.3L228.2,248.0L228.8,245.3L229.4,242.2L230.0,238.8L230.3,236.6L230.5,235.4L230.9,233.6L231.1,232.4L231.4,231.5L231.7,233.0L231.8,233.6L232.2,236.6L232.3,237.9L232.9,242.9L233.5,247.2L234.1,250.7L234.7,253.2L235.3,255.0L235.9,256.2L236.4,257.0L237.0,257.5L237.6,257.9L238.2,258.0L238.8,258.2L239.4,258.2L251.2,258.3" fill="none" stroke="#1a1a1a" stroke-width="0.85" stroke-linejoin="round"/>
<text x="219.8" y="259.4" font-size="3.0" text-anchor="end" fill="#444">0</text>
<path d="M220.2,258.3L221.2,258.3" stroke="#777" stroke-width="0.5"/>
<text x="219.8" y="253.88" font-size="3.0" text-anchor="end" fill="#444">20</text>
<path d="M220.2,252.78L221.2,252.78" stroke="#777" stroke-width="0.5"/>
<text x="219.8" y="248.36" font-size="3.0" text-anchor="end" fill="#444">40</text>
<path d="M220.2,247.26L221.2,247.26" stroke="#777" stroke-width="0.5"/>
<text x="219.8" y="242.84" font-size="3.0" text-anchor="end" fill="#444">60</text>
<path d="M220.2,241.74L221.2,241.74" stroke="#777" stroke-width="0.5"/>
<text x="219.8" y="237.32" font-size="3.0" text-anchor="end" fill="#444">80</text>
<path d="M220.2,236.22L221.2,236.22" stroke="#777" stroke-width="0.5"/>
<text x="219.8" y="231.8" font-size="3.0" text-anchor="end" fill="#444">100</text>
<path d="M220.2,230.7L221.2,230.7" stroke="#777" stroke-width="0.5"/>
<text transform="translate(269.85,220.95) scale(0.89,1)" font-size="6.83" text-anchor="middle" fill="#222" stroke="#222" stroke-width="0.09" >Effector</text>
<text transform="translate(269.85,226.95) scale(0.89,1)" font-size="6.83" text-anchor="middle" fill="#222" stroke="#222" stroke-width="0.09" >memory CD4</text>
<rect x="257.6" y="228.7" width="30.5" height="30.2" fill="none" stroke="#9a9a9a" stroke-width="0.9"/>
<path d="M257.6,228.3L257.6,259.3" stroke="#6e6e6e" stroke-width="1.1"/>
<path d="M258.1,257.8L258.7,257.6L259.3,257.3L259.9,256.9L260.5,256.4L261.1,255.8L261.6,254.9L262.2,253.9L262.8,252.6L263.4,251.0L264.0,249.0L264.6,246.7L265.2,244.1L265.8,241.2L266.4,238.0L266.6,236.6L267.0,234.9L267.2,233.6L267.5,232.3L267.8,231.5L268.1,233.0L268.2,233.6L268.6,236.6L268.7,237.6L269.3,242.4L269.9,246.7L270.5,250.1L271.1,252.7L271.7,254.6L272.3,255.9L272.9,256.8L273.4,257.4L274.0,257.8L274.6,258.0L275.2,258.1L275.8,258.2L287.6,258.3" fill="none" stroke="#e0404c" stroke-width="1.1" stroke-linejoin="round"/>
<path d="M258.1,258.0L258.7,257.9L259.3,257.7L259.9,257.4L260.5,257.0L261.1,256.5L261.6,255.8L262.2,254.9L262.8,253.7L263.4,252.2L264.0,250.3L264.6,248.0L265.2,245.3L265.8,242.2L266.4,238.8L266.7,236.6L267.0,235.4L267.3,233.6L267.5,232.4L267.8,231.5L268.1,233.0L268.2,233.6L268.6,236.6L268.7,237.9L269.3,242.9L269.9,247.2L270.5,250.7L271.1,253.2L271.7,255.0L272.3,256.2L272.9,257.0L273.4,257.5L274.0,257.9L274.6,258.0L275.2,258.2L275.8,258.2L287.6,258.3" fill="none" stroke="#1a1a1a" stroke-width="0.85" stroke-linejoin="round"/>
<text transform="translate(309.45,220.95) scale(0.89,1)" font-size="6.83" text-anchor="middle" fill="#222" stroke="#222" stroke-width="0.09" >Central</text>
<text transform="translate(309.45,226.95) scale(0.89,1)" font-size="6.83" text-anchor="middle" fill="#222" stroke="#222" stroke-width="0.09" >memory CD4</text>
<rect x="294.2" y="228.7" width="30.5" height="30.2" fill="none" stroke="#9a9a9a" stroke-width="0.9"/>
<path d="M294.2,228.3L294.2,259.3" stroke="#6e6e6e" stroke-width="1.1"/>
<path d="M294.7,257.8L295.3,257.6L295.9,257.3L296.5,256.9L297.1,256.4L297.6,255.8L298.2,254.9L298.8,253.9L299.4,252.6L300.0,251.0L300.6,249.0L301.2,246.7L301.8,244.1L302.4,241.2L303.0,238.0L303.2,236.6L303.6,234.9L303.8,233.6L304.1,232.3L304.4,231.5L304.7,233.0L304.8,233.6L305.2,236.6L305.3,237.6L305.9,242.4L306.5,246.7L307.1,250.1L307.7,252.7L308.3,254.6L308.9,255.9L309.4,256.8L310.0,257.4L310.6,257.8L311.2,258.0L311.8,258.1L312.4,258.2L324.2,258.3" fill="none" stroke="#e0404c" stroke-width="1.1" stroke-linejoin="round"/>
<path d="M294.7,258.0L295.3,257.9L295.9,257.7L296.5,257.4L297.1,257.0L297.6,256.5L298.2,255.8L298.8,254.9L299.4,253.7L300.0,252.2L300.6,250.3L301.2,248.0L301.8,245.3L302.4,242.2L303.0,238.8L303.3,236.6L303.6,235.4L303.9,233.6L304.1,232.4L304.4,231.5L304.7,233.0L304.8,233.6L305.2,236.6L305.3,237.9L305.9,242.9L306.5,247.2L307.1,250.7L307.7,253.2L308.3,255.0L308.9,256.2L309.4,257.0L310.0,257.5L310.6,257.9L311.2,258.0L311.8,258.2L312.4,258.2L324.2,258.3" fill="none" stroke="#1a1a1a" stroke-width="0.85" stroke-linejoin="round"/>
<text transform="translate(345.65,225.65) scale(0.89,1)" font-size="6.83" text-anchor="middle" fill="#222" stroke="#222" stroke-width="0.09" >Naive CD4</text>
<rect x="330.4" y="228.7" width="30.5" height="30.2" fill="none" stroke="#9a9a9a" stroke-width="0.9"/>
<path d="M330.4,228.3L330.4,259.3" stroke="#6e6e6e" stroke-width="1.1"/>
<path d="M330.9,257.8L331.5,257.6L332.1,257.3L332.7,256.9L333.3,256.4L333.8,255.8L334.4,254.9L335.0,253.9L335.6,252.6L336.2,251.0L336.8,249.0L337.4,246.7L338.0,244.1L338.6,241.2L339.2,238.0L339.4,236.6L339.8,234.9L340.0,233.6L340.3,232.3L340.6,231.5L340.9,233.0L341.0,233.6L341.4,236.6L341.5,237.6L342.1,242.4L342.7,246.7L343.3,250.1L343.9,252.7L344.5,254.6L345.1,255.9L345.6,256.8L346.2,257.4L346.8,257.8L347.4,258.0L348.0,258.1L348.6,258.2L360.4,258.3" fill="none" stroke="#e0404c" stroke-width="1.1" stroke-linejoin="round"/>
<path d="M330.9,258.0L331.5,257.9L332.1,257.7L332.7,257.4L333.3,257.0L333.8,256.5L334.4,255.8L335.0,254.9L335.6,253.7L336.2,252.2L336.8,250.3L337.4,248.0L338.0,245.3L338.6,242.2L339.2,238.8L339.5,236.6L339.8,235.4L340.1,233.6L340.3,232.4L340.6,231.5L340.9,233.0L341.0,233.6L341.4,236.6L341.5,237.9L342.1,242.9L342.7,247.2L343.3,250.7L343.9,253.2L344.5,255.0L345.1,256.2L345.6,257.0L346.2,257.5L346.8,257.9L347.4,258.0L348.0,258.2L348.6,258.2L360.4,258.3" fill="none" stroke="#1a1a1a" stroke-width="0.85" stroke-linejoin="round"/>
<text transform="translate(392.7,225.65) scale(0.89,1)" font-size="6.83" text-anchor="middle" fill="#222" stroke="#222" stroke-width="0.09" >CD4</text>
<rect x="377.2" y="228.7" width="31" height="30.2" fill="none" stroke="#9a9a9a" stroke-width="0.9"/>
<path d="M377.2,228.3L377.2,259.3" stroke="#6e6e6e" stroke-width="1.1"/>
<path d="M377.7,258.3L385.5,258.2L386.1,258.1L386.7,257.9L387.3,257.6L387.9,257.1L388.5,256.1L389.1,254.6L389.7,252.3L390.3,249.0L390.9,244.5L391.5,238.9L391.7,236.6L392.1,233.6L392.1,233.3L392.4,231.5L392.7,233.6L392.7,233.8L392.9,236.6L393.3,240.7L393.9,247.0L394.5,251.5L395.1,254.5L395.7,256.3L396.3,257.3L396.9,257.8L397.5,258.1L398.1,258.2L407.7,258.3" fill="none" stroke="#e0404c" stroke-width="1.1" stroke-linejoin="round"/>
<path d="M377.7,258.3L381.3,258.2L381.9,258.1L382.5,258.0L383.1,257.7L383.7,257.3L384.3,256.7L384.9,255.7L385.5,254.2L386.1,252.0L386.7,249.1L387.3,245.2L387.9,240.4L388.3,236.6L388.5,235.3L388.7,233.6L389.1,231.5L389.4,233.6L389.6,236.6L389.7,237.5L390.3,244.5L390.9,250.0L391.5,253.7L392.1,255.9L392.7,257.1L393.3,257.7L393.9,258.0L394.5,258.2L395.1,258.3L407.7,258.3" fill="none" stroke="#1a1a1a" stroke-width="0.85" stroke-linejoin="round"/>
<text x="375.8" y="259.4" font-size="3.0" text-anchor="end" fill="#444">0</text>
<path d="M376.2,258.3L377.2,258.3" stroke="#777" stroke-width="0.5"/>
<text x="375.8" y="253.88" font-size="3.0" text-anchor="end" fill="#444">20</text>
<path d="M376.2,252.78L377.2,252.78" stroke="#777" stroke-width="0.5"/>
<text x="375.8" y="248.36" font-size="3.0" text-anchor="end" fill="#444">40</text>
<path d="M376.2,247.26L377.2,247.26" stroke="#777" stroke-width="0.5"/>
<text x="375.8" y="242.84" font-size="3.0" text-anchor="end" fill="#444">60</text>
<path d="M376.2,241.74L377.2,241.74" stroke="#777" stroke-width="0.5"/>
<text x="375.8" y="237.32" font-size="3.0" text-anchor="end" fill="#444">80</text>
<path d="M376.2,236.22L377.2,236.22" stroke="#777" stroke-width="0.5"/>
<text x="375.8" y="231.8" font-size="3.0" text-anchor="end" fill="#444">100</text>
<path d="M376.2,230.7L377.2,230.7" stroke="#777" stroke-width="0.5"/>
<text transform="translate(427.8,220.95) scale(0.89,1)" font-size="6.83" text-anchor="middle" fill="#222" stroke="#222" stroke-width="0.09" >Effector</text>
<text transform="translate(427.8,226.95) scale(0.89,1)" font-size="6.83" text-anchor="middle" fill="#222" stroke="#222" stroke-width="0.09" >memory CD4</text>
<rect x="414.3" y="228.7" width="31" height="30.2" fill="none" stroke="#9a9a9a" stroke-width="0.9"/>
<path d="M414.3,228.3L414.3,259.3" stroke="#6e6e6e" stroke-width="1.1"/>
<path d="M414.8,257.4L415.4,257.0L416.0,256.5L416.6,255.9L417.2,255.0L417.8,253.9L418.4,252.5L419.0,250.8L419.6,248.7L420.2,246.2L420.8,243.3L421.4,240.1L422.0,236.8L422.0,236.6L422.6,233.7L422.6,233.6L423.2,231.5L423.7,233.6L423.8,234.4L424.1,236.6L424.4,238.4L425.0,242.4L425.6,246.0L426.2,249.1L426.8,251.5L427.4,253.4L428.0,254.9L428.6,255.9L429.2,256.7L429.8,257.2L430.4,257.6L431.0,257.8L431.6,258.0L432.2,258.1L432.8,258.2L433.4,258.2L444.8,258.3" fill="none" stroke="#e0404c" stroke-width="1.1" stroke-linejoin="round"/>
<path d="M414.8,257.7L415.4,257.5L416.0,257.1L416.6,256.6L417.2,255.9L417.8,254.9L418.4,253.7L419.0,252.0L419.6,250.0L420.2,247.5L420.8,244.5L421.4,241.1L422.0,237.5L422.2,236.6L422.6,234.0L422.7,233.6L423.2,231.5L423.7,233.6L423.8,234.5L424.1,236.6L424.4,238.7L425.0,242.9L425.6,246.6L426.2,249.6L426.8,252.0L427.4,253.9L428.0,255.3L428.6,256.2L429.2,256.9L429.8,257.4L430.4,257.7L431.0,257.9L431.6,258.1L432.2,258.2L432.8,258.2L444.8,258.3" fill="none" stroke="#1a1a1a" stroke-width="0.85" stroke-linejoin="round"/>
<text transform="translate(466.7,220.95) scale(0.89,1)" font-size="6.83" text-anchor="middle" fill="#222" stroke="#222" stroke-width="0.09" >Central</text>
<text transform="translate(466.7,226.95) scale(0.89,1)" font-size="6.83" text-anchor="middle" fill="#222" stroke="#222" stroke-width="0.09" >memory CD4</text>
<rect x="451.2" y="228.7" width="31" height="30.2" fill="none" stroke="#9a9a9a" stroke-width="0.9"/>
<path d="M451.2,228.3L451.2,259.3" stroke="#6e6e6e" stroke-width="1.1"/>
<path d="M451.7,258.3L455.9,258.2L456.5,258.1L457.1,258.0L457.7,257.8L458.3,257.5L458.9,257.0L459.5,256.3L460.1,255.2L460.7,253.8L461.3,251.7L461.9,249.1L462.5,245.7L463.1,241.8L463.5,239.3L463.7,237.8L463.9,236.6L464.3,234.8L464.8,236.6L464.9,237.3L465.2,239.3L465.5,240.8L466.1,244.4L466.7,247.5L467.3,250.2L467.9,252.4L468.5,254.0L469.1,255.3L469.7,256.2L470.3,256.9L470.9,257.4L471.5,257.7L472.1,257.9L472.7,258.0L473.3,258.1L473.9,258.2L481.7,258.3" fill="none" stroke="#e0404c" stroke-width="1.1" stroke-linejoin="round"/>
<path d="M451.7,258.2L452.3,258.2L452.9,258.1L453.5,257.9L454.1,257.7L454.7,257.4L455.3,256.9L455.9,256.2L456.5,255.3L457.1,253.9L457.7,252.0L458.3,249.6L458.9,246.6L459.5,242.9L460.1,238.7L460.4,236.6L460.7,234.5L460.8,233.6L461.3,231.5L461.7,233.6L461.9,235.3L462.1,236.6L462.5,240.4L463.1,245.2L463.7,249.1L464.3,252.0L464.9,254.2L465.5,255.7L466.1,256.7L466.7,257.3L467.3,257.7L467.9,258.0L468.5,258.1L469.1,258.2L481.7,258.3" fill="none" stroke="#1a1a1a" stroke-width="0.85" stroke-linejoin="round"/>
<text transform="translate(503.2,225.65) scale(0.89,1)" font-size="6.83" text-anchor="middle" fill="#222" stroke="#222" stroke-width="0.09" >Naive CD4</text>
<rect x="487.7" y="228.7" width="31" height="30.2" fill="none" stroke="#9a9a9a" stroke-width="0.9"/>
<path d="M487.7,228.3L487.7,259.3" stroke="#6e6e6e" stroke-width="1.1"/>
<path d="M488.2,258.3L495.4,258.2L496.0,258.1L496.6,257.8L497.2,257.4L497.8,256.5L498.4,255.0L499.0,252.5L499.6,248.7L500.2,243.3L500.8,236.8L500.8,236.6L501.1,233.6L501.4,231.5L501.7,233.6L501.9,236.6L502.0,237.2L502.6,244.0L503.2,249.5L503.8,253.2L504.4,255.5L505.0,256.9L505.6,257.6L506.2,258.0L506.8,258.1L507.4,258.2L518.2,258.3" fill="none" stroke="#e0404c" stroke-width="1.1" stroke-linejoin="round"/>
<path d="M488.2,258.3L490.6,258.2L491.2,258.2L491.8,258.1L492.4,257.9L493.0,257.5L493.6,256.9L494.2,256.0L494.8,254.4L495.4,252.0L496.0,248.7L496.6,244.2L497.2,238.7L497.4,236.6L497.8,233.6L497.8,233.3L498.1,231.5L498.4,233.6L498.4,234.0L498.6,236.6L499.0,241.1L499.6,247.5L500.2,252.0L500.8,254.9L501.4,256.6L502.0,257.5L502.6,257.9L503.2,258.1L503.8,258.2L518.2,258.3" fill="none" stroke="#1a1a1a" stroke-width="0.85" stroke-linejoin="round"/>
<text transform="translate(236.45,271.45) scale(0.89,1)" font-size="6.83" text-anchor="middle" fill="#222" stroke="#222" stroke-width="0.09" >CD8</text>
<rect x="221.2" y="273.4" width="30.5" height="30.2" fill="none" stroke="#9a9a9a" stroke-width="0.9"/>
<path d="M221.2,273L221.2,304" stroke="#6e6e6e" stroke-width="1.1"/>
<path d="M221.7,302.5L222.3,302.3L222.9,302.0L223.5,301.6L224.1,301.1L224.6,300.5L225.2,299.6L225.8,298.6L226.4,297.3L227.0,295.7L227.6,293.7L228.2,291.4L228.8,288.8L229.4,285.9L230.0,282.7L230.2,281.3L230.5,279.6L230.8,278.3L231.1,277.0L231.4,276.2L231.7,277.7L231.8,278.3L232.2,281.3L232.3,282.3L232.9,287.1L233.5,291.4L234.1,294.8L234.7,297.4L235.3,299.3L235.9,300.6L236.4,301.5L237.0,302.1L237.6,302.5L238.2,302.7L238.8,302.8L239.4,302.9L251.2,303.0" fill="none" stroke="#e0404c" stroke-width="1.1" stroke-linejoin="round"/>
<path d="M221.7,302.7L222.3,302.6L222.9,302.4L223.5,302.1L224.1,301.7L224.6,301.2L225.2,300.5L225.8,299.6L226.4,298.4L227.0,296.9L227.6,295.0L228.2,292.7L228.8,290.0L229.4,286.9L230.0,283.5L230.3,281.3L230.5,280.1L230.9,278.3L231.1,277.1L231.4,276.2L231.7,277.7L231.8,278.3L232.2,281.3L232.3,282.6L232.9,287.6L233.5,291.9L234.1,295.4L234.7,297.9L235.3,299.7L235.9,300.9L236.4,301.7L237.0,302.2L237.6,302.6L238.2,302.7L238.8,302.9L239.4,302.9L251.2,303.0" fill="none" stroke="#1a1a1a" stroke-width="0.85" stroke-linejoin="round"/>
<text x="219.8" y="304.1" font-size="3.0" text-anchor="end" fill="#444">0</text>
<path d="M220.2,303L221.2,303" stroke="#777" stroke-width="0.5"/>
<text x="219.8" y="298.58" font-size="3.0" text-anchor="end" fill="#444">20</text>
<path d="M220.2,297.48L221.2,297.48" stroke="#777" stroke-width="0.5"/>
<text x="219.8" y="293.06" font-size="3.0" text-anchor="end" fill="#444">40</text>
<path d="M220.2,291.96L221.2,291.96" stroke="#777" stroke-width="0.5"/>
<text x="219.8" y="287.54" font-size="3.0" text-anchor="end" fill="#444">60</text>
<path d="M220.2,286.44L221.2,286.44" stroke="#777" stroke-width="0.5"/>
<text x="219.8" y="282.02" font-size="3.0" text-anchor="end" fill="#444">80</text>
<path d="M220.2,280.92L221.2,280.92" stroke="#777" stroke-width="0.5"/>
<text x="219.8" y="276.5" font-size="3.0" text-anchor="end" fill="#444">100</text>
<path d="M220.2,275.4L221.2,275.4" stroke="#777" stroke-width="0.5"/>
<text transform="translate(269.45,266.05) scale(0.89,1)" font-size="6.83" text-anchor="middle" fill="#222" stroke="#222" stroke-width="0.09" >Effector</text>
<text transform="translate(269.45,272.25) scale(0.89,1)" font-size="6.83" text-anchor="middle" fill="#222" stroke="#222" stroke-width="0.09" >memory CD8</text>
<rect x="257.6" y="273.4" width="30.5" height="30.2" fill="none" stroke="#9a9a9a" stroke-width="0.9"/>
<path d="M257.6,273L257.6,304" stroke="#6e6e6e" stroke-width="1.1"/>
<path d="M258.1,302.5L258.7,302.3L259.3,302.0L259.9,301.6L260.5,301.1L261.1,300.5L261.6,299.6L262.2,298.6L262.8,297.3L263.4,295.7L264.0,293.7L264.6,291.4L265.2,288.8L265.8,285.9L266.4,282.7L266.6,281.3L267.0,279.6L267.2,278.3L267.5,277.0L267.8,276.2L268.1,277.7L268.2,278.3L268.6,281.3L268.7,282.3L269.3,287.1L269.9,291.4L270.5,294.8L271.1,297.4L271.7,299.3L272.3,300.6L272.9,301.5L273.4,302.1L274.0,302.5L274.6,302.7L275.2,302.8L275.8,302.9L287.6,303.0" fill="none" stroke="#e0404c" stroke-width="1.1" stroke-linejoin="round"/>
<path d="M258.1,302.7L258.7,302.6L259.3,302.4L259.9,302.1L260.5,301.7L261.1,301.2L261.6,300.5L262.2,299.6L262.8,298.4L263.4,296.9L264.0,295.0L264.6,292.7L265.2,290.0L265.8,286.9L266.4,283.5L266.7,281.3L267.0,280.1L267.3,278.3L267.5,277.1L267.8,276.2L268.1,277.7L268.2,278.3L268.6,281.3L268.7,282.6L269.3,287.6L269.9,291.9L270.5,295.4L271.1,297.9L271.7,299.7L272.3,300.9L272.9,301.7L273.4,302.2L274.0,302.6L274.6,302.7L275.2,302.9L275.8,302.9L287.6,303.0" fill="none" stroke="#1a1a1a" stroke-width="0.85" stroke-linejoin="round"/>
<text transform="translate(309.45,266.05) scale(0.89,1)" font-size="6.83" text-anchor="middle" fill="#222" stroke="#222" stroke-width="0.09" >Central</text>
<text transform="translate(309.45,272.25) scale(0.89,1)" font-size="6.83" text-anchor="middle" fill="#222" stroke="#222" stroke-width="0.09" >memory CD8</text>
<rect x="294.2" y="273.4" width="30.5" height="30.2" fill="none" stroke="#9a9a9a" stroke-width="0.9"/>
<path d="M294.2,273L294.2,304" stroke="#6e6e6e" stroke-width="1.1"/>
<path d="M294.7,303.0L297.1,302.9L297.6,302.9L298.2,302.8L298.8,302.7L299.4,302.4L300.0,302.1L300.6,301.6L301.2,300.8L301.8,299.7L302.4,298.2L303.0,296.1L303.6,293.4L304.1,290.2L304.7,286.6L304.8,286.2L305.2,283.9L305.3,283.3L305.6,282.3L305.9,283.0L306.2,283.9L306.5,285.3L306.7,286.2L307.1,288.1L307.7,290.7L308.3,293.1L308.9,295.2L309.4,297.0L310.0,298.5L310.6,299.6L311.2,300.5L311.8,301.2L312.4,301.7L313.0,302.1L313.6,302.3L314.2,302.5L314.8,302.7L315.3,302.8L315.9,302.9L316.5,302.9L324.2,303.0" fill="none" stroke="#e0404c" stroke-width="1.1" stroke-linejoin="round"/>
<path d="M294.7,303.0L298.2,302.9L298.8,302.8L299.4,302.7L300.0,302.5L300.6,302.2L301.2,301.7L301.8,300.9L302.4,299.6L303.0,297.8L303.6,295.4L304.1,292.2L304.7,288.2L305.2,285.1L305.3,284.0L305.5,282.6L305.9,280.9L306.4,282.6L306.5,282.9L306.9,285.1L307.1,285.8L307.7,288.8L308.3,291.6L308.9,294.1L309.4,296.2L310.0,297.8L310.6,299.2L311.2,300.2L311.8,301.0L312.4,301.6L313.0,302.0L313.6,302.3L314.2,302.5L314.8,302.7L315.3,302.8L315.9,302.9L316.5,302.9L324.2,303.0" fill="none" stroke="#1a1a1a" stroke-width="0.85" stroke-linejoin="round"/>
<text transform="translate(345.65,271.45) scale(0.89,1)" font-size="6.83" text-anchor="middle" fill="#222" stroke="#222" stroke-width="0.09" >Naive CD8</text>
<rect x="330.4" y="273.4" width="30.5" height="30.2" fill="none" stroke="#9a9a9a" stroke-width="0.9"/>
<path d="M330.4,273L330.4,304" stroke="#6e6e6e" stroke-width="1.1"/>
<path d="M330.9,302.6L331.5,302.4L332.1,302.1L332.7,301.6L333.3,301.0L333.8,300.2L334.4,299.0L335.0,297.5L335.6,295.5L336.2,293.0L336.8,290.0L337.4,286.5L338.0,282.6L338.2,281.3L338.6,278.9L338.7,278.3L339.2,276.2L339.7,278.3L339.8,278.3L340.3,281.3L340.3,281.4L340.9,284.7L341.5,287.9L342.1,290.7L342.7,293.2L343.3,295.3L343.9,297.1L344.5,298.5L345.1,299.6L345.6,300.5L346.2,301.1L346.8,301.6L347.4,302.0L348.0,302.3L348.6,302.5L349.2,302.6L349.8,302.8L350.4,302.8L351.0,302.9L351.5,302.9L360.4,303.0" fill="none" stroke="#e0404c" stroke-width="1.1" stroke-linejoin="round"/>
<path d="M330.9,302.8L331.5,302.6L332.1,302.4L332.7,302.1L333.3,301.6L333.8,300.9L334.4,300.0L335.0,298.6L335.6,296.7L336.2,294.3L336.8,291.2L337.4,287.5L338.0,283.4L338.3,281.2L338.6,279.1L338.7,278.1L339.2,276.0L339.6,277.9L339.8,278.8L340.0,280.7L340.3,282.7L340.9,286.3L341.5,289.2L342.1,291.1L342.7,292.3L342.7,292.3L343.0,292.6L343.3,293.1L343.7,294.4L343.9,295.2L344.0,295.8L344.5,297.3L345.1,298.9L345.6,300.2L346.2,301.1L346.8,301.8L347.4,302.2L348.0,302.5L348.6,302.7L349.2,302.8L349.8,302.9L360.4,303.0" fill="none" stroke="#1a1a1a" stroke-width="0.85" stroke-linejoin="round"/>
<text transform="translate(392.7,271.45) scale(0.89,1)" font-size="6.83" text-anchor="middle" fill="#222" stroke="#222" stroke-width="0.09" >CD8</text>
<rect x="377.2" y="273.4" width="31" height="30.2" fill="none" stroke="#9a9a9a" stroke-width="0.9"/>
<path d="M377.2,273L377.2,304" stroke="#6e6e6e" stroke-width="1.1"/>
<path d="M377.7,303.0L379.5,302.9L380.1,302.9L380.7,302.8L381.3,302.7L381.9,302.5L382.5,302.2L383.1,301.9L383.7,301.3L384.3,300.6L384.9,299.6L385.5,298.3L386.1,296.6L386.7,294.3L387.3,291.6L387.9,288.3L388.5,284.6L389.0,281.3L389.1,280.7L389.5,278.3L389.7,277.3L390.0,276.2L390.3,277.7L390.4,278.3L390.8,281.3L390.9,282.3L391.5,287.1L392.1,291.4L392.7,294.8L393.3,297.4L393.9,299.3L394.5,300.6L395.1,301.5L395.7,302.1L396.3,302.5L396.9,302.7L397.5,302.8L398.1,302.9L407.7,303.0" fill="none" stroke="#e0404c" stroke-width="1.1" stroke-linejoin="round"/>
<path d="M377.7,302.7L378.3,302.5L378.9,302.3L379.5,302.1L380.1,301.7L380.7,301.2L381.3,300.6L381.9,299.8L382.5,298.8L383.1,297.5L383.7,295.9L384.3,294.0L384.9,291.7L385.5,289.0L386.1,286.1L386.7,282.9L387.0,281.3L387.3,279.7L387.6,278.3L387.9,277.0L388.2,276.2L388.5,277.7L388.6,278.3L388.9,281.3L389.1,282.6L389.7,287.6L390.3,291.9L390.9,295.4L391.5,297.9L392.1,299.7L392.7,300.9L393.3,301.7L393.9,302.2L394.5,302.6L395.1,302.7L395.7,302.9L396.3,302.9L407.7,303.0" fill="none" stroke="#1a1a1a" stroke-width="0.85" stroke-linejoin="round"/>
<text x="375.8" y="304.1" font-size="3.0" text-anchor="end" fill="#444">0</text>
<path d="M376.2,303L377.2,303" stroke="#777" stroke-width="0.5"/>
<text x="375.8" y="298.58" font-size="3.0" text-anchor="end" fill="#444">20</text>
<path d="M376.2,297.48L377.2,297.48" stroke="#777" stroke-width="0.5"/>
<text x="375.8" y="293.06" font-size="3.0" text-anchor="end" fill="#444">40</text>
<path d="M376.2,291.96L377.2,291.96" stroke="#777" stroke-width="0.5"/>
<text x="375.8" y="287.54" font-size="3.0" text-anchor="end" fill="#444">60</text>
<path d="M376.2,286.44L377.2,286.44" stroke="#777" stroke-width="0.5"/>
<text x="375.8" y="282.02" font-size="3.0" text-anchor="end" fill="#444">80</text>
<path d="M376.2,280.92L377.2,280.92" stroke="#777" stroke-width="0.5"/>
<text x="375.8" y="276.5" font-size="3.0" text-anchor="end" fill="#444">100</text>
<path d="M376.2,275.4L377.2,275.4" stroke="#777" stroke-width="0.5"/>
<text transform="translate(428.8,266.05) scale(0.89,1)" font-size="6.83" text-anchor="middle" fill="#222" stroke="#222" stroke-width="0.09" >Effector</text>
<text transform="translate(428.8,272.25) scale(0.89,1)" font-size="6.83" text-anchor="middle" fill="#222" stroke="#222" stroke-width="0.09" >memory CD8</text>
<rect x="414.3" y="273.4" width="31" height="30.2" fill="none" stroke="#9a9a9a" stroke-width="0.9"/>
<path d="M414.3,273L414.3,304" stroke="#6e6e6e" stroke-width="1.1"/>
<path d="M414.8,302.1L415.4,301.8L416.0,301.4L416.6,300.8L417.2,300.1L417.8,299.2L418.4,298.0L419.0,296.5L419.6,294.8L420.2,292.6L420.8,290.2L421.4,287.4L422.0,284.3L422.6,281.3L422.6,281.2L423.2,278.3L423.2,278.2L423.8,276.2L424.2,278.3L424.4,279.8L424.6,281.3L425.0,284.7L425.6,289.3L426.2,293.2L426.8,296.2L427.4,298.5L428.0,300.0L428.6,301.1L429.2,301.8L429.8,302.3L430.4,302.6L431.0,302.8L431.6,302.9L432.2,302.9L444.8,303.0" fill="none" stroke="#e0404c" stroke-width="1.1" stroke-linejoin="round"/>
<path d="M414.8,302.5L415.4,302.2L416.0,301.9L416.6,301.5L417.2,300.9L417.8,300.1L418.4,299.0L419.0,297.7L419.6,296.0L420.2,293.9L420.8,291.4L421.4,288.5L422.0,285.2L422.6,281.8L422.7,281.3L423.2,278.5L423.2,278.3L423.8,276.2L424.2,278.3L424.4,280.0L424.6,281.3L425.0,285.1L425.6,289.9L426.2,293.8L426.8,296.7L427.4,298.9L428.0,300.4L428.6,301.4L429.2,302.0L429.8,302.4L430.4,302.7L431.0,302.8L431.6,302.9L444.8,303.0" fill="none" stroke="#1a1a1a" stroke-width="0.85" stroke-linejoin="round"/>
<text transform="translate(466.7,266.05) scale(0.89,1)" font-size="6.83" text-anchor="middle" fill="#222" stroke="#222" stroke-width="0.09" >Central</text>
<text transform="translate(466.7,272.25) scale(0.89,1)" font-size="6.83" text-anchor="middle" fill="#222" stroke="#222" stroke-width="0.09" >memory CD8</text>
<rect x="451.2" y="273.4" width="31" height="30.2" fill="none" stroke="#9a9a9a" stroke-width="0.9"/>
<path d="M451.2,273L451.2,304" stroke="#6e6e6e" stroke-width="1.1"/>
<path d="M451.7,302.8L452.3,302.7L452.9,302.5L453.5,302.3L454.1,301.8L454.7,301.2L455.3,300.2L455.9,298.7L456.5,296.7L457.1,294.1L457.7,290.6L458.3,286.5L458.9,281.9L459.0,281.3L459.4,278.3L459.5,277.6L459.8,276.2L460.1,276.8L460.6,278.3L460.7,278.7L461.3,281.0L461.4,281.3L461.9,283.5L462.5,285.9L463.1,288.2L463.7,290.4L464.3,292.3L464.9,294.1L465.5,295.6L466.1,296.9L466.7,298.0L467.3,298.9L467.9,299.7L468.5,300.4L469.1,300.9L469.7,301.3L470.3,301.7L470.9,302.0L471.5,302.2L472.1,302.4L472.7,302.5L473.3,302.6L473.9,302.7L474.5,302.8L475.1,302.8L475.7,302.9L476.3,302.9L481.7,303.0" fill="none" stroke="#e0404c" stroke-width="1.1" stroke-linejoin="round"/>
<path d="M451.7,302.9L452.3,302.9L452.9,302.7L453.5,302.6L454.1,302.2L454.7,301.7L455.3,300.9L455.9,299.7L456.5,297.9L457.1,295.4L457.7,291.9L458.3,287.6L458.9,282.6L459.1,281.3L459.4,278.3L459.5,277.7L459.8,276.2L460.1,276.8L460.6,278.3L460.7,278.8L461.3,281.3L461.9,283.8L462.5,286.4L463.1,288.7L463.7,290.9L464.3,292.9L464.9,294.6L465.5,296.1L466.1,297.4L466.7,298.4L467.3,299.3L467.9,300.1L468.5,300.7L469.1,301.2L469.7,301.6L470.3,301.9L470.9,302.1L471.5,302.3L472.1,302.5L472.7,302.6L473.3,302.7L473.9,302.8L474.5,302.8L475.1,302.9L475.7,302.9L481.7,303.0" fill="none" stroke="#1a1a1a" stroke-width="0.85" stroke-linejoin="round"/>
<text transform="translate(503.2,271.45) scale(0.89,1)" font-size="6.83" text-anchor="middle" fill="#222" stroke="#222" stroke-width="0.09" >Naive CD8</text>
<rect x="487.7" y="273.4" width="31" height="30.2" fill="none" stroke="#9a9a9a" stroke-width="0.9"/>
<path d="M487.7,273L487.7,304" stroke="#6e6e6e" stroke-width="1.1"/>
<path d="M488.2,303.0L495.4,302.9L496.0,302.8L496.6,302.5L497.2,302.1L497.8,301.2L498.4,299.7L499.0,297.2L499.6,293.4L500.2,288.0L500.8,281.5L500.8,281.3L501.1,278.3L501.4,276.2L501.7,278.3L501.9,281.3L502.0,281.9L502.6,288.7L503.2,294.2L503.8,297.9L504.4,300.2L505.0,301.6L505.6,302.3L506.2,302.7L506.8,302.8L507.4,302.9L518.2,303.0" fill="none" stroke="#e0404c" stroke-width="1.1" stroke-linejoin="round"/>
<path d="M488.2,303.0L493.0,302.9L493.6,302.8L494.2,302.6L494.8,302.2L495.4,301.3L496.0,299.6L496.6,296.7L497.2,292.2L497.8,285.8L498.2,281.3L498.4,278.7L498.4,278.3L498.7,276.2L499.0,278.3L499.0,278.7L499.2,281.3L499.6,285.8L500.2,292.2L500.8,296.7L501.4,299.6L502.0,301.3L502.6,302.2L503.2,302.6L503.8,302.8L504.4,302.9L518.2,303.0" fill="none" stroke="#1a1a1a" stroke-width="0.85" stroke-linejoin="round"/>
<text transform="translate(236.45,313.75) scale(0.89,1)" font-size="6.83" text-anchor="middle" fill="#222" stroke="#222" stroke-width="0.09" >CD19</text>
<rect x="221.2" y="317.3" width="30.5" height="30.2" fill="none" stroke="#9a9a9a" stroke-width="0.9"/>
<path d="M221.2,316.9L221.2,347.9" stroke="#6e6e6e" stroke-width="1.1"/>
<path d="M221.7,346.4L222.3,346.2L222.9,345.9L223.5,345.5L224.1,345.0L224.6,344.4L225.2,343.5L225.8,342.5L226.4,341.2L227.0,339.6L227.6,337.6L228.2,335.3L228.8,332.7L229.4,329.8L230.0,326.6L230.2,325.2L230.5,323.5L230.8,322.2L231.1,320.9L231.4,320.1L231.7,321.6L231.8,322.2L232.2,325.2L232.3,326.2L232.9,331.0L233.5,335.3L234.1,338.7L234.7,341.3L235.3,343.2L235.9,344.5L236.4,345.4L237.0,346.0L237.6,346.4L238.2,346.6L238.8,346.7L239.4,346.8L251.2,346.9" fill="none" stroke="#e0404c" stroke-width="1.1" stroke-linejoin="round"/>
<path d="M221.7,346.6L222.3,346.5L222.9,346.3L223.5,346.0L224.1,345.6L224.6,345.1L225.2,344.4L225.8,343.5L226.4,342.3L227.0,340.8L227.6,338.9L228.2,336.6L228.8,333.9L229.4,330.8L230.0,327.4L230.3,325.2L230.5,324.0L230.9,322.2L231.1,321.0L231.4,320.1L231.7,321.6L231.8,322.2L232.2,325.2L232.3,326.5L232.9,331.5L233.5,335.8L234.1,339.3L234.7,341.8L235.3,343.6L235.9,344.8L236.4,345.6L237.0,346.1L237.6,346.5L238.2,346.6L238.8,346.8L239.4,346.8L251.2,346.9" fill="none" stroke="#1a1a1a" stroke-width="0.85" stroke-linejoin="round"/>
<text x="219.8" y="348" font-size="3.0" text-anchor="end" fill="#444">0</text>
<path d="M220.2,346.9L221.2,346.9" stroke="#777" stroke-width="0.5"/>
<text x="219.8" y="342.48" font-size="3.0" text-anchor="end" fill="#444">20</text>
<path d="M220.2,341.38L221.2,341.38" stroke="#777" stroke-width="0.5"/>
<text x="219.8" y="336.96" font-size="3.0" text-anchor="end" fill="#444">40</text>
<path d="M220.2,335.86L221.2,335.86" stroke="#777" stroke-width="0.5"/>
<text x="219.8" y="331.44" font-size="3.0" text-anchor="end" fill="#444">60</text>
<path d="M220.2,330.34L221.2,330.34" stroke="#777" stroke-width="0.5"/>
<text x="219.8" y="325.92" font-size="3.0" text-anchor="end" fill="#444">80</text>
<path d="M220.2,324.82L221.2,324.82" stroke="#777" stroke-width="0.5"/>
<text x="219.8" y="320.4" font-size="3.0" text-anchor="end" fill="#444">100</text>
<path d="M220.2,319.3L221.2,319.3" stroke="#777" stroke-width="0.5"/>
<text x="223.6" y="351.2" font-size="3.1" text-anchor="middle" fill="#444">10<tspan font-size="2.1" dy="-1.1">0</tspan></text>
<text x="228.98" y="351.2" font-size="3.1" text-anchor="middle" fill="#444">10<tspan font-size="2.1" dy="-1.1">1</tspan></text>
<text x="234.36" y="351.2" font-size="3.1" text-anchor="middle" fill="#444">10<tspan font-size="2.1" dy="-1.1">2</tspan></text>
<text x="239.74" y="351.2" font-size="3.1" text-anchor="middle" fill="#444">10<tspan font-size="2.1" dy="-1.1">3</tspan></text>
<text x="245.12" y="351.2" font-size="3.1" text-anchor="middle" fill="#444">10<tspan font-size="2.1" dy="-1.1">4</tspan></text>
<text x="250.5" y="351.2" font-size="3.1" text-anchor="middle" fill="#444">10<tspan font-size="2.1" dy="-1.1">5</tspan></text>
<text transform="translate(271.35,313.75) scale(0.89,1)" font-size="6.83" text-anchor="middle" fill="#222" stroke="#222" stroke-width="0.09" >CD11b</text>
<rect x="257.6" y="317.3" width="30.5" height="30.2" fill="none" stroke="#9a9a9a" stroke-width="0.9"/>
<path d="M257.6,316.9L257.6,347.9" stroke="#6e6e6e" stroke-width="1.1"/>
<path d="M258.1,346.4L258.7,346.2L259.3,345.9L259.9,345.5L260.5,345.0L261.1,344.4L261.6,343.5L262.2,342.5L262.8,341.2L263.4,339.6L264.0,337.6L264.6,335.3L265.2,332.7L265.8,329.8L266.4,326.6L266.6,325.2L267.0,323.5L267.2,322.2L267.5,320.9L267.8,320.1L268.1,321.6L268.2,322.2L268.6,325.2L268.7,326.2L269.3,331.0L269.9,335.3L270.5,338.7L271.1,341.3L271.7,343.2L272.3,344.5L272.9,345.4L273.4,346.0L274.0,346.4L274.6,346.6L275.2,346.7L275.8,346.8L287.6,346.9" fill="none" stroke="#e0404c" stroke-width="1.1" stroke-linejoin="round"/>
<path d="M258.1,346.6L258.7,346.5L259.3,346.3L259.9,346.0L260.5,345.6L261.1,345.1L261.6,344.4L262.2,343.5L262.8,342.3L263.4,340.8L264.0,338.9L264.6,336.6L265.2,333.9L265.8,330.8L266.4,327.4L266.7,325.2L267.0,324.0L267.3,322.2L267.5,321.0L267.8,320.1L268.1,321.6L268.2,322.2L268.6,325.2L268.7,326.5L269.3,331.5L269.9,335.8L270.5,339.3L271.1,341.8L271.7,343.6L272.3,344.8L272.9,345.6L273.4,346.1L274.0,346.5L274.6,346.6L275.2,346.8L275.8,346.8L287.6,346.9" fill="none" stroke="#1a1a1a" stroke-width="0.85" stroke-linejoin="round"/>
<text x="260" y="351.2" font-size="3.1" text-anchor="middle" fill="#444">10<tspan font-size="2.1" dy="-1.1">0</tspan></text>
<text x="265.38" y="351.2" font-size="3.1" text-anchor="middle" fill="#444">10<tspan font-size="2.1" dy="-1.1">1</tspan></text>
<text x="270.76" y="351.2" font-size="3.1" text-anchor="middle" fill="#444">10<tspan font-size="2.1" dy="-1.1">2</tspan></text>
<text x="276.14" y="351.2" font-size="3.1" text-anchor="middle" fill="#444">10<tspan font-size="2.1" dy="-1.1">3</tspan></text>
<text x="281.52" y="351.2" font-size="3.1" text-anchor="middle" fill="#444">10<tspan font-size="2.1" dy="-1.1">4</tspan></text>
<text x="286.9" y="351.2" font-size="3.1" text-anchor="middle" fill="#444">10<tspan font-size="2.1" dy="-1.1">5</tspan></text>
<text transform="translate(308.75,313.75) scale(0.89,1)" font-size="6.83" text-anchor="middle" fill="#222" stroke="#222" stroke-width="0.09" >CD11c</text>
<rect x="294.2" y="317.3" width="30.5" height="30.2" fill="none" stroke="#9a9a9a" stroke-width="0.9"/>
<path d="M294.2,316.9L294.2,347.9" stroke="#6e6e6e" stroke-width="1.1"/>
<path d="M294.7,346.4L295.3,346.2L295.9,345.9L296.5,345.5L297.1,345.0L297.6,344.4L298.2,343.5L298.8,342.5L299.4,341.2L300.0,339.6L300.6,337.6L301.2,335.3L301.8,332.7L302.4,329.8L303.0,326.6L303.2,325.2L303.6,323.5L303.8,322.2L304.1,320.9L304.4,320.1L304.7,321.6L304.8,322.2L305.2,325.2L305.3,326.2L305.9,331.0L306.5,335.3L307.1,338.7L307.7,341.3L308.3,343.2L308.9,344.5L309.4,345.4L310.0,346.0L310.6,346.4L311.2,346.6L311.8,346.7L312.4,346.8L324.2,346.9" fill="none" stroke="#e0404c" stroke-width="1.1" stroke-linejoin="round"/>
<path d="M294.7,346.6L295.3,346.5L295.9,346.3L296.5,346.0L297.1,345.6L297.6,345.1L298.2,344.4L298.8,343.5L299.4,342.3L300.0,340.8L300.6,338.9L301.2,336.6L301.8,333.9L302.4,330.8L303.0,327.4L303.3,325.2L303.6,324.0L303.9,322.2L304.1,321.0L304.4,320.1L304.7,321.6L304.8,322.2L305.2,325.2L305.3,326.5L305.9,331.5L306.5,335.8L307.1,339.3L307.7,341.8L308.3,343.6L308.9,344.8L309.4,345.6L310.0,346.1L310.6,346.5L311.2,346.6L311.8,346.8L312.4,346.8L324.2,346.9" fill="none" stroke="#1a1a1a" stroke-width="0.85" stroke-linejoin="round"/>
<text x="296.6" y="351.2" font-size="3.1" text-anchor="middle" fill="#444">10<tspan font-size="2.1" dy="-1.1">0</tspan></text>
<text x="301.98" y="351.2" font-size="3.1" text-anchor="middle" fill="#444">10<tspan font-size="2.1" dy="-1.1">1</tspan></text>
<text x="307.36" y="351.2" font-size="3.1" text-anchor="middle" fill="#444">10<tspan font-size="2.1" dy="-1.1">2</tspan></text>
<text x="312.74" y="351.2" font-size="3.1" text-anchor="middle" fill="#444">10<tspan font-size="2.1" dy="-1.1">3</tspan></text>
<text x="318.12" y="351.2" font-size="3.1" text-anchor="middle" fill="#444">10<tspan font-size="2.1" dy="-1.1">4</tspan></text>
<text x="323.5" y="351.2" font-size="3.1" text-anchor="middle" fill="#444">10<tspan font-size="2.1" dy="-1.1">5</tspan></text>
<text transform="translate(345.65,313.75) scale(0.89,1)" font-size="6.83" text-anchor="middle" fill="#222" stroke="#222" stroke-width="0.09" >NK1.1</text>
<rect x="330.4" y="317.3" width="30.5" height="30.2" fill="none" stroke="#9a9a9a" stroke-width="0.9"/>
<path d="M330.4,316.9L330.4,347.9" stroke="#6e6e6e" stroke-width="1.1"/>
<path d="M330.9,346.4L331.5,346.2L332.1,345.9L332.7,345.5L333.3,345.0L333.8,344.4L334.4,343.5L335.0,342.5L335.6,341.2L336.2,339.6L336.8,337.6L337.4,335.3L338.0,332.7L338.6,329.8L339.2,326.6L339.4,325.2L339.8,323.5L340.0,322.2L340.3,320.9L340.6,320.1L340.9,321.6L341.0,322.2L341.4,325.2L341.5,326.2L342.1,331.0L342.7,335.3L343.3,338.7L343.9,341.3L344.5,343.2L345.1,344.5L345.6,345.4L346.2,346.0L346.8,346.4L347.4,346.6L348.0,346.7L348.6,346.8L360.4,346.9" fill="none" stroke="#e0404c" stroke-width="1.1" stroke-linejoin="round"/>
<path d="M330.9,346.6L331.5,346.5L332.1,346.3L332.7,346.0L333.3,345.6L333.8,345.1L334.4,344.4L335.0,343.5L335.6,342.3L336.2,340.8L336.8,338.9L337.4,336.6L338.0,333.9L338.6,330.8L339.2,327.4L339.5,325.2L339.8,324.0L340.1,322.2L340.3,321.0L340.6,320.1L340.9,321.6L341.0,322.2L341.4,325.2L341.5,326.5L342.1,331.5L342.7,335.8L343.3,339.3L343.9,341.8L344.5,343.6L345.1,344.8L345.6,345.6L346.2,346.1L346.8,346.5L347.4,346.6L348.0,346.8L348.6,346.8L360.4,346.9" fill="none" stroke="#1a1a1a" stroke-width="0.85" stroke-linejoin="round"/>
<text x="332.8" y="351.2" font-size="3.1" text-anchor="middle" fill="#444">10<tspan font-size="2.1" dy="-1.1">0</tspan></text>
<text x="338.18" y="351.2" font-size="3.1" text-anchor="middle" fill="#444">10<tspan font-size="2.1" dy="-1.1">1</tspan></text>
<text x="343.56" y="351.2" font-size="3.1" text-anchor="middle" fill="#444">10<tspan font-size="2.1" dy="-1.1">2</tspan></text>
<text x="348.94" y="351.2" font-size="3.1" text-anchor="middle" fill="#444">10<tspan font-size="2.1" dy="-1.1">3</tspan></text>
<text x="354.32" y="351.2" font-size="3.1" text-anchor="middle" fill="#444">10<tspan font-size="2.1" dy="-1.1">4</tspan></text>
<text x="359.7" y="351.2" font-size="3.1" text-anchor="middle" fill="#444">10<tspan font-size="2.1" dy="-1.1">5</tspan></text>
<text transform="translate(392.7,313.75) scale(0.89,1)" font-size="6.83" text-anchor="middle" fill="#222" stroke="#222" stroke-width="0.09" >CD19</text>
<rect x="377.2" y="317.3" width="31" height="30.2" fill="none" stroke="#9a9a9a" stroke-width="0.9"/>
<path d="M377.2,316.9L377.2,347.9" stroke="#6e6e6e" stroke-width="1.1"/>
<path d="M377.7,346.4L378.3,346.2L378.9,345.9L379.5,345.5L380.1,345.0L380.7,344.4L381.3,343.5L381.9,342.5L382.5,341.2L383.1,339.6L383.7,337.6L384.3,335.3L384.9,332.7L385.5,329.8L386.1,326.6L386.4,325.2L386.7,323.5L387.0,322.2L387.3,320.9L387.6,320.1L387.9,321.6L388.0,322.2L388.4,325.2L388.5,326.2L389.1,331.0L389.7,335.3L390.3,338.7L390.9,341.3L391.5,343.2L392.1,344.5L392.7,345.4L393.3,346.0L393.9,346.4L394.5,346.6L395.1,346.7L395.7,346.8L407.7,346.9" fill="none" stroke="#e0404c" stroke-width="1.1" stroke-linejoin="round"/>
<path d="M377.7,346.6L378.3,346.5L378.9,346.3L379.5,346.0L380.1,345.6L380.7,345.1L381.3,344.4L381.9,343.5L382.5,342.3L383.1,340.8L383.7,338.9L384.3,336.6L384.9,333.9L385.5,330.8L386.1,327.4L386.5,325.2L386.7,324.0L387.0,322.2L387.3,321.0L387.6,320.1L387.9,321.6L388.0,322.2L388.3,325.2L388.5,326.5L389.1,331.5L389.7,335.8L390.3,339.3L390.9,341.8L391.5,343.6L392.1,344.8L392.7,345.6L393.3,346.1L393.9,346.5L394.5,346.6L395.1,346.8L395.7,346.8L407.7,346.9" fill="none" stroke="#1a1a1a" stroke-width="0.85" stroke-linejoin="round"/>
<text x="375.8" y="348" font-size="3.0" text-anchor="end" fill="#444">0</text>
<path d="M376.2,346.9L377.2,346.9" stroke="#777" stroke-width="0.5"/>
<text x="375.8" y="342.48" font-size="3.0" text-anchor="end" fill="#444">20</text>
<path d="M376.2,341.38L377.2,341.38" stroke="#777" stroke-width="0.5"/>
<text x="375.8" y="336.96" font-size="3.0" text-anchor="end" fill="#444">40</text>
<path d="M376.2,335.86L377.2,335.86" stroke="#777" stroke-width="0.5"/>
<text x="375.8" y="331.44" font-size="3.0" text-anchor="end" fill="#444">60</text>
<path d="M376.2,330.34L377.2,330.34" stroke="#777" stroke-width="0.5"/>
<text x="375.8" y="325.92" font-size="3.0" text-anchor="end" fill="#444">80</text>
<path d="M376.2,324.82L377.2,324.82" stroke="#777" stroke-width="0.5"/>
<text x="375.8" y="320.4" font-size="3.0" text-anchor="end" fill="#444">100</text>
<path d="M376.2,319.3L377.2,319.3" stroke="#777" stroke-width="0.5"/>
<text x="379.6" y="351.2" font-size="3.1" text-anchor="middle" fill="#444">10<tspan font-size="2.1" dy="-1.1">0</tspan></text>
<text x="385.08" y="351.2" font-size="3.1" text-anchor="middle" fill="#444">10<tspan font-size="2.1" dy="-1.1">1</tspan></text>
<text x="390.56" y="351.2" font-size="3.1" text-anchor="middle" fill="#444">10<tspan font-size="2.1" dy="-1.1">2</tspan></text>
<text x="396.04" y="351.2" font-size="3.1" text-anchor="middle" fill="#444">10<tspan font-size="2.1" dy="-1.1">3</tspan></text>
<text x="401.52" y="351.2" font-size="3.1" text-anchor="middle" fill="#444">10<tspan font-size="2.1" dy="-1.1">4</tspan></text>
<text x="407" y="351.2" font-size="3.1" text-anchor="middle" fill="#444">10<tspan font-size="2.1" dy="-1.1">5</tspan></text>
<text transform="translate(429.8,313.75) scale(0.89,1)" font-size="6.83" text-anchor="middle" fill="#222" stroke="#222" stroke-width="0.09" >CD11b</text>
<rect x="414.3" y="317.3" width="31" height="30.2" fill="none" stroke="#9a9a9a" stroke-width="0.9"/>
<path d="M414.3,316.9L414.3,347.9" stroke="#6e6e6e" stroke-width="1.1"/>
<path d="M414.8,346.9L416.0,346.8L416.6,346.7L417.2,346.6L417.8,346.4L418.4,346.1L419.0,345.7L419.6,345.0L420.2,344.0L420.8,342.5L421.4,340.6L422.0,338.0L422.6,334.8L423.2,331.0L423.6,328.5L423.8,327.1L424.0,326.0L424.4,324.3L425.0,325.9L425.0,326.0L425.6,328.3L425.6,328.5L426.2,330.9L426.8,333.5L427.4,335.8L428.0,337.9L428.6,339.7L429.2,341.2L429.8,342.4L430.4,343.5L431.0,344.3L431.6,344.9L432.2,345.4L432.8,345.8L433.4,346.1L434.0,346.3L434.6,346.5L435.2,346.6L435.8,346.7L436.4,346.7L437.0,346.8L437.6,346.8L444.8,346.9" fill="none" stroke="#e0404c" stroke-width="1.1" stroke-linejoin="round"/>
<path d="M414.8,346.9L416.6,346.8L417.2,346.7L417.8,346.6L418.4,346.4L419.0,346.1L419.6,345.6L420.2,344.7L420.8,343.5L421.4,341.7L422.0,339.2L422.6,335.9L423.2,331.9L423.7,328.5L423.8,327.4L424.0,325.8L424.4,323.8L424.9,324.9L425.0,325.1L425.4,326.4L425.6,326.8L426.2,328.2L426.8,328.9L427.1,329.0L427.4,329.1L427.7,329.4L428.0,330.9L428.1,331.4L428.4,333.5L428.6,334.4L429.2,337.5L429.8,340.1L430.4,342.1L431.0,343.6L431.6,344.7L432.2,345.5L432.8,346.0L433.4,346.3L434.0,346.5L434.6,346.7L435.2,346.8L435.8,346.8L444.8,346.9" fill="none" stroke="#1a1a1a" stroke-width="0.85" stroke-linejoin="round"/>
<text x="416.7" y="351.2" font-size="3.1" text-anchor="middle" fill="#444">10<tspan font-size="2.1" dy="-1.1">0</tspan></text>
<text x="422.18" y="351.2" font-size="3.1" text-anchor="middle" fill="#444">10<tspan font-size="2.1" dy="-1.1">1</tspan></text>
<text x="427.66" y="351.2" font-size="3.1" text-anchor="middle" fill="#444">10<tspan font-size="2.1" dy="-1.1">2</tspan></text>
<text x="433.14" y="351.2" font-size="3.1" text-anchor="middle" fill="#444">10<tspan font-size="2.1" dy="-1.1">3</tspan></text>
<text x="438.62" y="351.2" font-size="3.1" text-anchor="middle" fill="#444">10<tspan font-size="2.1" dy="-1.1">4</tspan></text>
<text x="444.1" y="351.2" font-size="3.1" text-anchor="middle" fill="#444">10<tspan font-size="2.1" dy="-1.1">5</tspan></text>
<text transform="translate(466.7,313.75) scale(0.89,1)" font-size="6.83" text-anchor="middle" fill="#222" stroke="#222" stroke-width="0.09" >CD11c</text>
<rect x="451.2" y="317.3" width="31" height="30.2" fill="none" stroke="#9a9a9a" stroke-width="0.9"/>
<path d="M451.2,316.9L451.2,347.9" stroke="#6e6e6e" stroke-width="1.1"/>
<path d="M451.7,346.9L452.9,346.8L453.5,346.8L454.1,346.7L454.7,346.6L455.3,346.4L455.9,346.0L456.5,345.5L457.1,344.7L457.7,343.6L458.3,342.0L458.9,339.8L459.5,336.9L460.1,333.3L460.7,329.1L461.1,326.3L461.3,324.7L461.5,323.4L461.9,321.5L462.5,323.3L462.5,323.4L463.1,326.1L463.1,326.3L463.7,329.0L464.3,331.8L464.9,334.5L465.5,336.8L466.1,338.8L466.7,340.5L467.3,341.9L467.9,343.0L468.5,343.9L469.1,344.7L469.7,345.2L470.3,345.7L470.9,346.0L471.5,346.2L472.1,346.4L472.7,346.5L473.3,346.7L473.9,346.7L474.5,346.8L475.1,346.8L481.7,346.9" fill="none" stroke="#e0404c" stroke-width="1.1" stroke-linejoin="round"/>
<path d="M451.7,346.9L452.9,346.8L453.5,346.7L454.1,346.6L454.7,346.4L455.3,346.1L455.9,345.6L456.5,344.7L457.1,343.5L457.7,341.7L458.3,339.3L458.9,336.0L459.5,332.1L459.9,328.9L460.1,327.8L460.3,326.3L460.7,324.6L461.1,326.1L461.3,326.8L461.6,328.3L461.9,329.9L462.5,332.7L463.1,334.7L463.7,335.8L464.3,336.0L464.6,335.8L464.9,335.6L465.2,335.6L465.5,336.6L465.6,336.9L465.9,338.3L466.1,338.9L466.7,341.0L467.3,342.7L467.9,344.1L468.5,345.0L469.1,345.7L469.7,346.1L470.3,346.4L470.9,346.6L471.5,346.7L472.1,346.8L481.7,346.9" fill="none" stroke="#1a1a1a" stroke-width="0.85" stroke-linejoin="round"/>
<text x="453.6" y="351.2" font-size="3.1" text-anchor="middle" fill="#444">10<tspan font-size="2.1" dy="-1.1">0</tspan></text>
<text x="459.08" y="351.2" font-size="3.1" text-anchor="middle" fill="#444">10<tspan font-size="2.1" dy="-1.1">1</tspan></text>
<text x="464.56" y="351.2" font-size="3.1" text-anchor="middle" fill="#444">10<tspan font-size="2.1" dy="-1.1">2</tspan></text>
<text x="470.04" y="351.2" font-size="3.1" text-anchor="middle" fill="#444">10<tspan font-size="2.1" dy="-1.1">3</tspan></text>
<text x="475.52" y="351.2" font-size="3.1" text-anchor="middle" fill="#444">10<tspan font-size="2.1" dy="-1.1">4</tspan></text>
<text x="481" y="351.2" font-size="3.1" text-anchor="middle" fill="#444">10<tspan font-size="2.1" dy="-1.1">5</tspan></text>
<text transform="translate(503.2,313.75) scale(0.89,1)" font-size="6.83" text-anchor="middle" fill="#222" stroke="#222" stroke-width="0.09" >NK1.1</text>
<rect x="487.7" y="317.3" width="31" height="30.2" fill="none" stroke="#9a9a9a" stroke-width="0.9"/>
<path d="M487.7,316.9L487.7,347.9" stroke="#6e6e6e" stroke-width="1.1"/>
<path d="M488.2,346.8L488.8,346.8L489.4,346.7L490.0,346.6L490.6,346.5L491.2,346.2L491.8,345.9L492.4,345.5L493.0,344.8L493.6,343.9L494.2,342.8L494.8,341.2L495.4,339.3L496.0,336.9L496.6,334.0L497.2,330.8L497.7,327.9L497.8,327.4L498.2,325.2L498.4,324.3L498.7,323.4L499.0,324.2L499.2,325.2L499.6,326.9L499.8,327.9L500.2,330.0L500.8,333.0L501.4,335.7L502.0,338.1L502.6,340.1L503.2,341.7L503.8,343.0L504.4,344.1L505.0,344.8L505.6,345.4L506.2,345.8L506.8,346.2L507.4,346.4L508.0,346.5L508.6,346.7L509.2,346.7L509.8,346.8L518.2,346.9" fill="none" stroke="#e0404c" stroke-width="1.1" stroke-linejoin="round"/>
<path d="M488.2,346.9L489.4,346.8L490.0,346.7L490.6,346.6L491.2,346.5L491.8,346.3L492.4,345.9L493.0,345.4L493.6,344.7L494.2,343.7L494.8,342.3L495.4,340.4L496.0,338.0L496.6,335.1L497.2,331.6L497.8,327.9L497.8,327.9L498.2,325.2L498.4,324.5L498.7,323.4L499.0,324.3L499.2,325.2L499.6,327.1L499.8,327.9L500.2,330.3L500.8,333.4L501.4,336.2L502.0,338.6L502.6,340.6L503.2,342.2L503.8,343.4L504.4,344.4L505.0,345.1L505.6,345.6L506.2,346.0L506.8,346.3L507.4,346.5L508.0,346.6L508.6,346.7L509.2,346.8L509.8,346.8L518.2,346.9" fill="none" stroke="#1a1a1a" stroke-width="0.85" stroke-linejoin="round"/>
<text x="490.1" y="351.2" font-size="3.1" text-anchor="middle" fill="#444">10<tspan font-size="2.1" dy="-1.1">0</tspan></text>
<text x="495.58" y="351.2" font-size="3.1" text-anchor="middle" fill="#444">10<tspan font-size="2.1" dy="-1.1">1</tspan></text>
<text x="501.06" y="351.2" font-size="3.1" text-anchor="middle" fill="#444">10<tspan font-size="2.1" dy="-1.1">2</tspan></text>
<text x="506.54" y="351.2" font-size="3.1" text-anchor="middle" fill="#444">10<tspan font-size="2.1" dy="-1.1">3</tspan></text>
<text x="512.02" y="351.2" font-size="3.1" text-anchor="middle" fill="#444">10<tspan font-size="2.1" dy="-1.1">4</tspan></text>
<text x="517.5" y="351.2" font-size="3.1" text-anchor="middle" fill="#444">10<tspan font-size="2.1" dy="-1.1">5</tspan></text>
<text transform="translate(294.5,363) scale(0.89,1)" font-size="7.06" text-anchor="middle" fill="#222" stroke="#222" stroke-width="0.09" >OVA+CFA</text>
<text transform="translate(451.3,362) scale(0.89,1)" font-size="6.83" text-anchor="middle" fill="#222" stroke="#222" stroke-width="0.09" >CFA</text>
<path d="M269.4,366.8L466.8,366.8" stroke="#222" stroke-width="1.1"/>
<text transform="translate(371.5,375.2) scale(0.89,1)" font-size="6.83" text-anchor="middle" fill="#222" stroke="#222" stroke-width="0.09" >Draining LN</text>
<rect x="479.7" y="361.4" width="3.6" height="3.6" fill="#111"/>
<text transform="translate(485.8,365.6) scale(0.89,1)" font-size="6.83" fill="#222" stroke="#222" stroke-width="0.09" >Isotype</text>
<rect x="479.7" y="374.5" width="3.6" height="3.6" fill="#c0202a"/>
<text transform="translate(485.8,378.7) scale(0.89,1)" font-size="6.83" fill="#222" stroke="#222" stroke-width="0.09" >Pik3ip1</text>
<text x="60.9" y="392.8" font-size="13.6" font-weight="bold" fill="#000" stroke="#000" stroke-width="0.1" >D</text>
<path d="M102.3,395.6L102.3,463.1" stroke="#111" stroke-width="1"/>
<path d="M102.3,462.6L212.5,462.6" stroke="#111" stroke-width="1"/>
<path d="M98.7,462.6L102.3,462.6" stroke="#111" stroke-width="1"/>
<text x="97.8" y="465.35" font-size="7.9" text-anchor="end" fill="#222" stroke="#222" stroke-width="0.1" >0</text>
<path d="M98.7,440.27L102.3,440.27" stroke="#111" stroke-width="1"/>
<text x="97.8" y="443.02" font-size="7.9" text-anchor="end" fill="#222" stroke="#222" stroke-width="0.1" >10</text>
<path d="M98.7,417.93L102.3,417.93" stroke="#111" stroke-width="1"/>
<text x="97.8" y="420.68" font-size="7.9" text-anchor="end" fill="#222" stroke="#222" stroke-width="0.1" >20</text>
<path d="M98.7,395.6L102.3,395.6" stroke="#111" stroke-width="1"/>
<text x="97.8" y="398.35" font-size="7.9" text-anchor="end" fill="#222" stroke="#222" stroke-width="0.1" >30</text>
<path d="M113.6,462.6L113.6,464.9" stroke="#111" stroke-width="0.9"/>
<text font-size="5.71" text-anchor="end" fill="#333" stroke="#333" stroke-width="0.09" transform="translate(114.2,469.2) rotate(-45) scale(0.89,1)">PBMC</text>
<path d="M135.8,462.6L135.8,464.9" stroke="#111" stroke-width="0.9"/>
<text font-size="5.71" text-anchor="end" fill="#333" stroke="#333" stroke-width="0.09" transform="translate(136.4,469.2) rotate(-45) scale(0.89,1)">Spleen</text>
<path d="M157.6,462.6L157.6,464.9" stroke="#111" stroke-width="0.9"/>
<text font-size="5.71" text-anchor="end" fill="#333" stroke="#333" stroke-width="0.09" transform="translate(158.2,469.2) rotate(-45) scale(0.89,1)">nLN</text>
<path d="M179.5,462.6L179.5,464.9" stroke="#111" stroke-width="0.9"/>
<text font-size="5.71" text-anchor="end" fill="#333" stroke="#333" stroke-width="0.09" transform="translate(180.1,469.2) rotate(-45) scale(0.89,1)">dLN</text>
<path d="M201.7,462.6L201.7,464.9" stroke="#111" stroke-width="0.9"/>
<text font-size="5.71" text-anchor="end" fill="#333" stroke="#333" stroke-width="0.09" transform="translate(202.3,469.2) rotate(-45) scale(0.89,1)">TILs</text>
<path d="M113.60,416.37 L135.80,418.16 L157.60,415.70 L179.50,443.62 L201.70,452.55" fill="none" stroke="#111" stroke-width="1.1"/>
<circle cx="113.60" cy="416.37" r="1.7" fill="#111"/>
<circle cx="135.80" cy="418.16" r="1.7" fill="#111"/>
<circle cx="157.60" cy="415.70" r="1.7" fill="#111"/>
<circle cx="179.50" cy="443.62" r="1.7" fill="#111"/>
<circle cx="201.70" cy="452.55" r="1.7" fill="#111"/>
<path d="M113.60,420.61 L135.80,426.20 L157.60,419.94 L179.50,444.06 L201.70,453.67" fill="none" stroke="#111" stroke-width="1.1"/>
<rect x="112.00" y="419.01" width="3.2" height="3.2" fill="#111"/>
<rect x="134.20" y="424.60" width="3.2" height="3.2" fill="#111"/>
<rect x="156.00" y="418.34" width="3.2" height="3.2" fill="#111"/>
<rect x="177.90" y="442.46" width="3.2" height="3.2" fill="#111"/>
<rect x="200.10" y="452.07" width="3.2" height="3.2" fill="#111"/>
<path d="M113.60,423.07 L135.80,427.31 L157.60,421.51 L179.50,444.73 L201.70,454.78" fill="none" stroke="#111" stroke-width="1.1"/>
<circle cx="113.60" cy="423.07" r="1.7" fill="#111"/>
<circle cx="135.80" cy="427.31" r="1.7" fill="#111"/>
<circle cx="157.60" cy="421.51" r="1.7" fill="#111"/>
<circle cx="179.50" cy="444.73" r="1.7" fill="#111"/>
<circle cx="201.70" cy="454.78" r="1.7" fill="#111"/>
<path d="M113.60,427.31 L135.80,429.32 L157.60,426.87 L179.50,444.96 L201.70,455.45" fill="none" stroke="#111" stroke-width="1.1"/>
<path d="M113.60,425.31 L115.50,428.71 L111.70,428.71 Z" fill="#111"/>
<path d="M135.80,427.32 L137.70,430.72 L133.90,430.72 Z" fill="#111"/>
<path d="M157.60,424.87 L159.50,428.27 L155.70,428.27 Z" fill="#111"/>
<path d="M179.50,442.96 L181.40,446.36 L177.60,446.36 Z" fill="#111"/>
<path d="M201.70,453.45 L203.60,456.85 L199.80,456.85 Z" fill="#111"/>
<path d="M113.60,428.88 L135.80,429.99 L157.60,427.98 L179.50,445.40 L201.70,455.90" fill="none" stroke="#111" stroke-width="1.1"/>
<circle cx="113.60" cy="428.88" r="1.7" fill="#111"/>
<circle cx="135.80" cy="429.99" r="1.7" fill="#111"/>
<circle cx="157.60" cy="427.98" r="1.7" fill="#111"/>
<circle cx="179.50" cy="445.40" r="1.7" fill="#111"/>
<circle cx="201.70" cy="455.90" r="1.7" fill="#111"/>
<path d="M113.60,399.50 L113.60,397.70 L179.50,397.70 L179.50,399.50" fill="none" stroke="#111" stroke-width="0.9"/>
<text x="147.2" y="399.3" font-size="7.6" text-anchor="middle" letter-spacing="1.3" fill="#222" stroke="#222" stroke-width="0.5">***</text>
<path d="M135.80,405.80 L135.80,404.00 L179.50,404.00 L179.50,405.80" fill="none" stroke="#111" stroke-width="0.9"/>
<text x="158.3" y="405.6" font-size="7.6" text-anchor="middle" letter-spacing="1.3" fill="#222" stroke="#222" stroke-width="0.5">**</text>
<path d="M157.60,412.20 L157.60,410.40 L179.50,410.40 L179.50,412.20" fill="none" stroke="#111" stroke-width="0.9"/>
<text x="169.2" y="412" font-size="7.6" text-anchor="middle" letter-spacing="1.3" fill="#222" stroke="#222" stroke-width="0.5">**</text>
<path d="M179.50,433.30 L179.50,431.50 L201.70,431.50 L201.70,433.30" fill="none" stroke="#111" stroke-width="0.9"/>
<text x="191.25" y="433.1" font-size="7.6" text-anchor="middle" letter-spacing="1.3" fill="#222" stroke="#222" stroke-width="0.5">***</text>
<text font-size="8.85" text-anchor="middle" fill="#222" stroke="#222" stroke-width="0.09" transform="translate(84.7,430.4) rotate(-90) scale(0.89,1)">Pik3ip1<tspan font-size="5" dy="-3">+</tspan><tspan dy="3"> CD4 (%)</tspan></text>
<path d="M262.5,395.9L262.5,463" stroke="#111" stroke-width="1"/>
<path d="M262.5,462.5L369.5,462.5" stroke="#111" stroke-width="1"/>
<path d="M258.9,462.5L262.5,462.5" stroke="#111" stroke-width="1"/>
<text x="258" y="465.25" font-size="7.9" text-anchor="end" fill="#222" stroke="#222" stroke-width="0.1" >0</text>
<path d="M258.9,440.3L262.5,440.3" stroke="#111" stroke-width="1"/>
<text x="258" y="443.05" font-size="7.9" text-anchor="end" fill="#222" stroke="#222" stroke-width="0.1" >10</text>
<path d="M258.9,418.1L262.5,418.1" stroke="#111" stroke-width="1"/>
<text x="258" y="420.85" font-size="7.9" text-anchor="end" fill="#222" stroke="#222" stroke-width="0.1" >20</text>
<path d="M258.9,395.9L262.5,395.9" stroke="#111" stroke-width="1"/>
<text x="258" y="398.65" font-size="7.9" text-anchor="end" fill="#222" stroke="#222" stroke-width="0.1" >30</text>
<path d="M273.6,462.5L273.6,464.8" stroke="#111" stroke-width="0.9"/>
<text font-size="5.71" text-anchor="end" fill="#333" stroke="#333" stroke-width="0.09" transform="translate(274.2,469.1) rotate(-45) scale(0.89,1)">PBMC</text>
<path d="M295.8,462.5L295.8,464.8" stroke="#111" stroke-width="0.9"/>
<text font-size="5.71" text-anchor="end" fill="#333" stroke="#333" stroke-width="0.09" transform="translate(296.4,469.1) rotate(-45) scale(0.89,1)">Spleen</text>
<path d="M318,462.5L318,464.8" stroke="#111" stroke-width="0.9"/>
<text font-size="5.71" text-anchor="end" fill="#333" stroke="#333" stroke-width="0.09" transform="translate(318.6,469.1) rotate(-45) scale(0.89,1)">nLN</text>
<path d="M339.9,462.5L339.9,464.8" stroke="#111" stroke-width="0.9"/>
<text font-size="5.71" text-anchor="end" fill="#333" stroke="#333" stroke-width="0.09" transform="translate(340.5,469.1) rotate(-45) scale(0.89,1)">dLN</text>
<path d="M361.5,462.5L361.5,464.8" stroke="#111" stroke-width="0.9"/>
<text font-size="5.71" text-anchor="end" fill="#333" stroke="#333" stroke-width="0.09" transform="translate(362.1,469.1) rotate(-45) scale(0.89,1)">TILs</text>
<path d="M273.60,400.12 L295.80,417.88 L318.00,419.88 L339.90,438.97 L361.50,447.40" fill="none" stroke="#111" stroke-width="1.1"/>
<circle cx="273.60" cy="400.12" r="1.7" fill="#111"/>
<circle cx="295.80" cy="417.88" r="1.7" fill="#111"/>
<circle cx="318.00" cy="419.88" r="1.7" fill="#111"/>
<circle cx="339.90" cy="438.97" r="1.7" fill="#111"/>
<circle cx="361.50" cy="447.40" r="1.7" fill="#111"/>
<path d="M273.60,403.67 L295.80,422.54 L318.00,415.66 L339.90,441.41 L361.50,448.74" fill="none" stroke="#111" stroke-width="1.1"/>
<rect x="272.00" y="402.07" width="3.2" height="3.2" fill="#111"/>
<rect x="294.20" y="420.94" width="3.2" height="3.2" fill="#111"/>
<rect x="316.40" y="414.06" width="3.2" height="3.2" fill="#111"/>
<rect x="338.30" y="439.81" width="3.2" height="3.2" fill="#111"/>
<rect x="359.90" y="447.14" width="3.2" height="3.2" fill="#111"/>
<path d="M273.60,401.89 L295.80,424.09 L318.00,409.00 L339.90,442.52 L361.50,450.29" fill="none" stroke="#111" stroke-width="1.1"/>
<circle cx="273.60" cy="401.89" r="1.7" fill="#111"/>
<circle cx="295.80" cy="424.09" r="1.7" fill="#111"/>
<circle cx="318.00" cy="409.00" r="1.7" fill="#111"/>
<circle cx="339.90" cy="442.52" r="1.7" fill="#111"/>
<circle cx="361.50" cy="450.29" r="1.7" fill="#111"/>
<path d="M273.60,412.99 L295.80,426.31 L318.00,422.10 L339.90,443.63 L361.50,450.96" fill="none" stroke="#111" stroke-width="1.1"/>
<path d="M273.60,410.99 L275.50,414.39 L271.70,414.39 Z" fill="#111"/>
<path d="M295.80,424.31 L297.70,427.71 L293.90,427.71 Z" fill="#111"/>
<path d="M318.00,420.10 L319.90,423.50 L316.10,423.50 Z" fill="#111"/>
<path d="M339.90,441.63 L341.80,445.03 L338.00,445.03 Z" fill="#111"/>
<path d="M361.50,448.96 L363.40,452.36 L359.60,452.36 Z" fill="#111"/>
<path d="M273.60,423.21 L295.80,433.20 L318.00,428.98 L339.90,444.30 L361.50,451.62" fill="none" stroke="#111" stroke-width="1.1"/>
<circle cx="273.60" cy="423.21" r="1.7" fill="#111"/>
<circle cx="295.80" cy="433.20" r="1.7" fill="#111"/>
<circle cx="318.00" cy="428.98" r="1.7" fill="#111"/>
<circle cx="339.90" cy="444.30" r="1.7" fill="#111"/>
<circle cx="361.50" cy="451.62" r="1.7" fill="#111"/>
<path d="M273.60,391.50 L273.60,389.70 L339.90,389.70 L339.90,391.50" fill="none" stroke="#111" stroke-width="0.9"/>
<text x="307.4" y="391.3" font-size="7.6" text-anchor="middle" letter-spacing="1.3" fill="#222" stroke="#222" stroke-width="0.5">***</text>
<path d="M295.80,399.50 L295.80,397.70 L339.90,397.70 L339.90,399.50" fill="none" stroke="#111" stroke-width="0.9"/>
<text x="318.5" y="399.3" font-size="7.6" text-anchor="middle" letter-spacing="1.3" fill="#222" stroke="#222" stroke-width="0.5">**</text>
<path d="M318.00,405.80 L318.00,404.00 L339.90,404.00 L339.90,405.80" fill="none" stroke="#111" stroke-width="0.9"/>
<text x="329.6" y="405.6" font-size="7.6" text-anchor="middle" letter-spacing="1.3" fill="#222" stroke="#222" stroke-width="0.5">***</text>
<path d="M339.90,433.80 L339.90,432.00 L361.50,432.00 L361.50,433.80" fill="none" stroke="#111" stroke-width="0.9"/>
<text x="351.35" y="433.6" font-size="7.6" text-anchor="middle" letter-spacing="1.3" fill="#222" stroke="#222" stroke-width="0.5">*</text>
<text font-size="8.85" text-anchor="middle" fill="#222" stroke="#222" stroke-width="0.09" transform="translate(244.2,430.5) rotate(-90) scale(0.89,1)">Pik3ip1<tspan font-size="5" dy="-3">+</tspan><tspan dy="3">CD8 (%)</tspan></text>
</svg>
</body></html>
